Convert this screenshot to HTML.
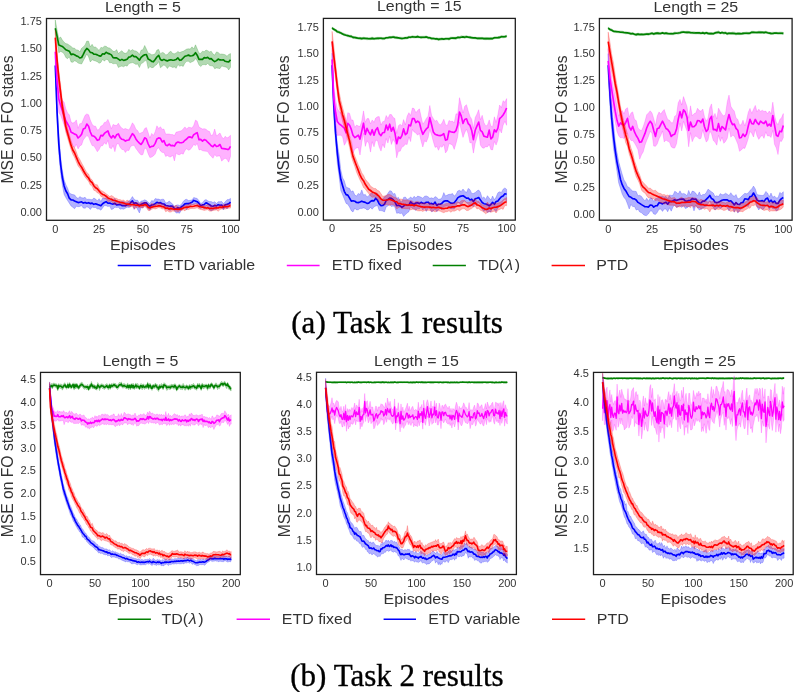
<!DOCTYPE html>
<html><head><meta charset="utf-8"><style>
html,body{margin:0;padding:0;background:#fff;}
svg{display:block;filter:blur(0.35px);}
</style></head><body>
<svg width="797" height="692" viewBox="0 0 797 692">
<rect width="797" height="692" fill="#fff"/>
<defs><clipPath id="cA1"><rect x="46.5" y="18.5" width="192.8" height="201.8"/></clipPath></defs>
<g clip-path="url(#cA1)">
<path d="M55.3,56.4 L57.1,105.3 L58.8,133.4 L60.6,156.5 L62.3,169.9 L64.1,179.8 L65.8,184.5 L67.6,188.2 L69.3,192.9 L71.1,194.0 L72.8,194.6 L74.6,194.9 L76.3,197.3 L78.1,198.5 L79.8,196.6 L81.6,197.7 L83.3,198.0 L85.1,197.3 L86.8,199.4 L88.6,199.2 L90.3,199.4 L92.1,199.8 L93.8,198.0 L95.6,199.0 L97.3,200.9 L99.1,198.7 L100.9,201.6 L102.6,198.1 L104.4,198.6 L106.1,197.7 L107.9,199.3 L109.6,200.2 L111.4,198.7 L113.1,199.5 L114.9,198.4 L116.6,202.3 L118.4,201.8 L120.1,201.7 L121.9,201.6 L123.6,201.4 L125.4,202.5 L127.1,202.3 L128.9,200.9 L130.6,199.4 L132.4,196.5 L134.1,199.2 L135.9,200.3 L137.6,200.2 L139.4,203.1 L141.1,201.1 L142.9,200.7 L144.7,199.8 L146.4,200.6 L148.2,202.3 L149.9,203.5 L151.7,200.5 L153.4,201.2 L155.2,198.6 L156.9,199.0 L158.7,199.1 L160.4,199.8 L162.2,199.2 L163.9,199.4 L165.7,203.0 L167.4,202.6 L169.2,201.1 L170.9,202.6 L172.7,204.1 L174.4,206.2 L176.2,205.3 L177.9,204.8 L179.7,205.5 L181.4,204.3 L183.2,201.6 L184.9,199.8 L186.7,199.3 L188.5,200.6 L190.2,200.3 L192.0,200.0 L193.7,197.5 L195.5,198.0 L197.2,198.5 L199.0,200.7 L200.7,203.4 L202.5,202.7 L204.2,200.4 L206.0,199.5 L207.7,200.8 L209.5,201.6 L211.2,201.6 L213.0,202.5 L214.7,201.7 L216.5,203.5 L218.2,201.7 L220.0,201.7 L221.7,201.5 L223.5,203.7 L225.2,201.8 L227.0,199.7 L228.7,199.6 L230.5,198.4 L230.5,204.2 L228.7,206.9 L227.0,209.0 L225.2,207.0 L223.5,209.9 L221.7,207.7 L220.0,207.7 L218.2,207.1 L216.5,209.2 L214.7,209.2 L213.0,209.9 L211.2,210.7 L209.5,209.9 L207.7,206.5 L206.0,205.9 L204.2,209.2 L202.5,207.1 L200.7,208.6 L199.0,207.5 L197.2,204.2 L195.5,203.7 L193.7,204.4 L192.0,204.6 L190.2,205.3 L188.5,206.2 L186.7,210.1 L184.9,206.7 L183.2,209.1 L181.4,209.7 L179.7,213.2 L177.9,212.8 L176.2,213.1 L174.4,210.7 L172.7,208.8 L170.9,210.3 L169.2,210.2 L167.4,209.1 L165.7,208.6 L163.9,207.9 L162.2,206.3 L160.4,205.7 L158.7,206.6 L156.9,204.6 L155.2,205.9 L153.4,207.1 L151.7,207.5 L149.9,210.3 L148.2,208.9 L146.4,207.1 L144.7,205.3 L142.9,207.9 L141.1,207.6 L139.4,213.0 L137.6,209.6 L135.9,206.2 L134.1,209.5 L132.4,203.2 L130.6,206.9 L128.9,207.4 L127.1,207.2 L125.4,208.2 L123.6,209.2 L121.9,208.8 L120.1,209.2 L118.4,207.2 L116.6,207.5 L114.9,207.2 L113.1,208.9 L111.4,209.6 L109.6,206.1 L107.9,206.5 L106.1,205.7 L104.4,205.6 L102.6,207.9 L100.9,210.2 L99.1,209.0 L97.3,209.0 L95.6,207.5 L93.8,207.5 L92.1,207.0 L90.3,209.5 L88.6,207.5 L86.8,206.8 L85.1,208.3 L83.3,208.1 L81.6,205.6 L79.8,206.5 L78.1,206.7 L76.3,206.3 L74.6,208.7 L72.8,207.3 L71.1,206.0 L69.3,203.2 L67.6,200.6 L65.8,197.6 L64.1,194.4 L62.3,185.0 L60.6,173.1 L58.8,153.7 L57.1,121.3 L55.3,73.9Z" fill="#0000ff" fill-opacity="0.3" stroke="#0000ff" stroke-opacity="0.3" stroke-width="0.7"/>
<path d="M55.3,65.5 L57.1,112.7 L58.8,143.9 L60.6,164.3 L62.3,177.0 L64.1,185.9 L65.8,190.8 L67.6,193.7 L69.3,198.2 L71.1,199.9 L72.8,200.0 L74.6,200.9 L76.3,201.7 L78.1,202.6 L79.8,202.2 L81.6,201.8 L83.3,203.1 L85.1,202.4 L86.8,203.2 L88.6,202.7 L90.3,203.6 L92.1,203.1 L93.8,204.3 L95.6,203.8 L97.3,204.4 L99.1,205.1 L100.9,205.8 L102.6,203.7 L104.4,202.5 L106.1,201.7 L107.9,203.2 L109.6,203.0 L111.4,203.8 L113.1,204.1 L114.9,203.3 L116.6,204.9 L118.4,204.7 L120.1,204.4 L121.9,205.6 L123.6,205.6 L125.4,205.7 L127.1,204.7 L128.9,204.6 L130.6,202.7 L132.4,200.9 L134.1,203.6 L135.9,202.8 L137.6,204.1 L139.4,205.4 L141.1,204.5 L142.9,203.5 L144.7,202.9 L146.4,202.9 L148.2,205.1 L149.9,206.2 L151.7,205.0 L153.4,204.8 L155.2,203.6 L156.9,202.3 L158.7,203.0 L160.4,202.6 L162.2,203.7 L163.9,204.0 L165.7,205.5 L167.4,205.8 L169.2,206.2 L170.9,206.0 L172.7,206.4 L174.4,208.5 L176.2,208.7 L177.9,207.7 L179.7,208.6 L181.4,206.7 L183.2,205.6 L184.9,203.9 L186.7,203.6 L188.5,203.6 L190.2,203.0 L192.0,202.3 L193.7,200.4 L195.5,201.1 L197.2,201.7 L199.0,203.4 L200.7,205.9 L202.5,204.9 L204.2,204.5 L206.0,202.8 L207.7,203.6 L209.5,204.7 L211.2,206.0 L213.0,206.2 L214.7,205.5 L216.5,205.9 L218.2,204.7 L220.0,205.2 L221.7,205.1 L223.5,207.4 L225.2,204.7 L227.0,204.4 L228.7,203.8 L230.5,202.0" fill="none" stroke="#0000ff" stroke-width="1.65" stroke-linejoin="round"/>
<path d="M55.3,42.0 L57.1,68.9 L58.8,87.7 L60.6,94.2 L62.3,100.2 L64.1,102.2 L65.8,108.7 L67.6,113.2 L69.3,114.7 L71.1,122.1 L72.8,123.1 L74.6,122.3 L76.3,119.9 L78.1,128.3 L79.8,123.7 L81.6,123.6 L83.3,119.4 L85.1,115.3 L86.8,113.9 L88.6,114.8 L90.3,120.0 L92.1,124.2 L93.8,126.1 L95.6,126.2 L97.3,130.0 L99.1,129.5 L100.9,126.0 L102.6,125.5 L104.4,122.4 L106.1,122.2 L107.9,119.4 L109.6,123.5 L111.4,128.7 L113.1,124.4 L114.9,125.3 L116.6,125.5 L118.4,123.2 L120.1,126.2 L121.9,128.2 L123.6,129.2 L125.4,128.5 L127.1,129.3 L128.9,129.9 L130.6,127.1 L132.4,122.8 L134.1,124.9 L135.9,129.3 L137.6,130.6 L139.4,133.7 L141.1,132.8 L142.9,132.3 L144.7,128.5 L146.4,127.6 L148.2,132.8 L149.9,138.1 L151.7,133.4 L153.4,135.4 L155.2,131.8 L156.9,125.8 L158.7,128.5 L160.4,126.7 L162.2,129.4 L163.9,129.0 L165.7,134.2 L167.4,134.0 L169.2,134.0 L170.9,134.6 L172.7,134.6 L174.4,135.6 L176.2,132.1 L177.9,131.8 L179.7,131.2 L181.4,130.8 L183.2,128.9 L184.9,126.9 L186.7,129.0 L188.5,127.3 L190.2,127.5 L192.0,128.1 L193.7,125.4 L195.5,120.1 L197.2,121.2 L199.0,127.1 L200.7,128.0 L202.5,129.0 L204.2,128.7 L206.0,129.2 L207.7,130.8 L209.5,131.5 L211.2,135.7 L213.0,134.4 L214.7,129.0 L216.5,136.1 L218.2,134.4 L220.0,133.0 L221.7,136.7 L223.5,138.7 L225.2,136.3 L227.0,137.9 L228.7,137.0 L230.5,135.3 L230.5,156.4 L228.7,162.2 L227.0,159.3 L225.2,158.3 L223.5,159.2 L221.7,161.2 L220.0,155.9 L218.2,156.1 L216.5,156.4 L214.7,154.6 L213.0,158.3 L211.2,156.3 L209.5,154.6 L207.7,151.6 L206.0,151.2 L204.2,151.1 L202.5,150.7 L200.7,149.6 L199.0,149.9 L197.2,143.5 L195.5,145.6 L193.7,144.5 L192.0,147.2 L190.2,149.6 L188.5,150.2 L186.7,148.8 L184.9,150.4 L183.2,154.2 L181.4,153.4 L179.7,154.7 L177.9,154.5 L176.2,153.1 L174.4,160.9 L172.7,155.0 L170.9,157.0 L169.2,156.8 L167.4,155.5 L165.7,156.5 L163.9,152.4 L162.2,152.4 L160.4,150.9 L158.7,147.7 L156.9,149.2 L155.2,154.1 L153.4,155.9 L151.7,157.1 L149.9,157.5 L148.2,153.9 L146.4,148.7 L144.7,148.1 L142.9,154.6 L141.1,154.9 L139.4,153.3 L137.6,150.7 L135.9,148.5 L134.1,145.2 L132.4,145.6 L130.6,146.4 L128.9,150.5 L127.1,150.2 L125.4,152.5 L123.6,149.6 L121.9,149.5 L120.1,147.2 L118.4,143.5 L116.6,144.2 L114.9,151.7 L113.1,145.5 L111.4,148.7 L109.6,147.8 L107.9,140.4 L106.1,144.4 L104.4,142.7 L102.6,145.7 L100.9,145.8 L99.1,149.6 L97.3,151.7 L95.6,148.6 L93.8,145.8 L92.1,145.6 L90.3,141.5 L88.6,136.8 L86.8,135.6 L85.1,137.6 L83.3,139.9 L81.6,144.9 L79.8,145.9 L78.1,148.9 L76.3,144.3 L74.6,147.4 L72.8,145.1 L71.1,141.5 L69.3,136.3 L67.6,135.5 L65.8,130.4 L64.1,125.1 L62.3,119.8 L60.6,115.3 L58.8,112.4 L57.1,91.9 L55.3,61.9Z" fill="#ff00ff" fill-opacity="0.3" stroke="#ff00ff" stroke-opacity="0.3" stroke-width="0.7"/>
<path d="M55.3,51.7 L57.1,80.8 L58.8,99.0 L60.6,105.2 L62.3,110.5 L64.1,115.6 L65.8,120.9 L67.6,123.8 L69.3,126.9 L71.1,132.2 L72.8,133.0 L74.6,134.1 L76.3,134.7 L78.1,138.0 L79.8,136.5 L81.6,134.3 L83.3,129.0 L85.1,128.2 L86.8,124.0 L88.6,126.2 L90.3,132.0 L92.1,135.8 L93.8,136.1 L95.6,137.7 L97.3,140.3 L99.1,139.8 L100.9,135.3 L102.6,135.9 L104.4,133.4 L106.1,132.1 L107.9,130.9 L109.6,135.6 L111.4,138.0 L113.1,135.6 L114.9,137.9 L116.6,134.8 L118.4,133.9 L120.1,137.6 L121.9,139.3 L123.6,139.6 L125.4,141.1 L127.1,140.3 L128.9,140.0 L130.6,136.9 L132.4,133.7 L134.1,135.4 L135.9,138.9 L137.6,141.2 L139.4,143.1 L141.1,144.5 L142.9,141.7 L144.7,137.8 L146.4,138.9 L148.2,144.0 L149.9,147.4 L151.7,146.4 L153.4,146.1 L155.2,143.4 L156.9,139.0 L158.7,137.9 L160.4,138.4 L162.2,142.0 L163.9,140.6 L165.7,145.0 L167.4,145.7 L169.2,144.1 L170.9,145.7 L172.7,145.4 L174.4,146.1 L176.2,143.0 L177.9,142.0 L179.7,142.6 L181.4,142.8 L183.2,142.2 L184.9,140.3 L186.7,139.0 L188.5,137.1 L190.2,136.9 L192.0,137.8 L193.7,134.7 L195.5,133.6 L197.2,132.7 L199.0,139.7 L200.7,139.4 L202.5,141.2 L204.2,139.6 L206.0,140.2 L207.7,142.2 L209.5,143.8 L211.2,145.7 L213.0,146.7 L214.7,144.5 L216.5,146.5 L218.2,146.0 L220.0,144.5 L221.7,148.4 L223.5,148.6 L225.2,148.9 L227.0,149.3 L228.7,149.3 L230.5,146.3" fill="none" stroke="#ff00ff" stroke-width="1.65" stroke-linejoin="round"/>
<path d="M55.3,20.0 L57.1,30.1 L58.8,38.4 L60.6,37.0 L62.3,39.9 L64.1,42.2 L65.8,43.6 L67.6,44.0 L69.3,45.2 L71.1,46.4 L72.8,48.0 L74.6,48.2 L76.3,49.9 L78.1,50.0 L79.8,52.0 L81.6,48.3 L83.3,46.9 L85.1,44.9 L86.8,41.1 L88.6,41.2 L90.3,46.9 L92.1,44.3 L93.8,47.3 L95.6,46.9 L97.3,48.7 L99.1,50.4 L100.9,47.4 L102.6,47.8 L104.4,46.2 L106.1,46.3 L107.9,47.8 L109.6,48.0 L111.4,49.4 L113.1,51.3 L114.9,51.5 L116.6,49.6 L118.4,53.6 L120.1,51.9 L121.9,50.7 L123.6,52.8 L125.4,53.3 L127.1,52.7 L128.9,49.3 L130.6,51.1 L132.4,49.6 L134.1,50.7 L135.9,51.0 L137.6,52.0 L139.4,54.6 L141.1,50.2 L142.9,49.7 L144.7,45.5 L146.4,49.0 L148.2,53.2 L149.9,53.6 L151.7,54.8 L153.4,54.6 L155.2,53.7 L156.9,50.1 L158.7,49.5 L160.4,53.9 L162.2,52.4 L163.9,52.9 L165.7,54.9 L167.4,54.6 L169.2,52.2 L170.9,51.2 L172.7,53.6 L174.4,53.8 L176.2,52.9 L177.9,51.5 L179.7,52.6 L181.4,51.8 L183.2,51.3 L184.9,50.2 L186.7,49.1 L188.5,48.8 L190.2,49.1 L192.0,46.8 L193.7,49.0 L195.5,44.8 L197.2,48.7 L199.0,53.2 L200.7,53.4 L202.5,51.2 L204.2,51.8 L206.0,50.0 L207.7,50.7 L209.5,51.9 L211.2,51.2 L213.0,54.1 L214.7,55.1 L216.5,51.9 L218.2,52.5 L220.0,54.2 L221.7,54.0 L223.5,54.3 L225.2,54.8 L227.0,56.2 L228.7,54.4 L230.5,53.6 L230.5,67.3 L228.7,69.9 L227.0,67.4 L225.2,66.9 L223.5,66.6 L221.7,65.9 L220.0,68.6 L218.2,68.3 L216.5,67.9 L214.7,68.8 L213.0,66.0 L211.2,65.8 L209.5,65.4 L207.7,63.3 L206.0,65.0 L204.2,64.5 L202.5,64.8 L200.7,66.6 L199.0,64.9 L197.2,60.8 L195.5,58.6 L193.7,61.1 L192.0,61.8 L190.2,62.7 L188.5,61.3 L186.7,61.3 L184.9,63.1 L183.2,66.4 L181.4,65.6 L179.7,66.2 L177.9,64.6 L176.2,68.3 L174.4,67.0 L172.7,67.4 L170.9,66.6 L169.2,66.1 L167.4,68.5 L165.7,66.1 L163.9,64.9 L162.2,66.3 L160.4,67.8 L158.7,61.6 L156.9,64.4 L155.2,65.4 L153.4,67.4 L151.7,67.7 L149.9,66.6 L148.2,68.6 L146.4,60.3 L144.7,61.1 L142.9,62.8 L141.1,63.6 L139.4,67.5 L137.6,63.9 L135.9,64.4 L134.1,63.3 L132.4,62.6 L130.6,63.1 L128.9,63.6 L127.1,66.2 L125.4,65.5 L123.6,66.8 L121.9,66.1 L120.1,66.6 L118.4,67.5 L116.6,63.6 L114.9,63.6 L113.1,63.8 L111.4,62.7 L109.6,62.8 L107.9,59.7 L106.1,59.3 L104.4,61.2 L102.6,59.3 L100.9,62.4 L99.1,63.3 L97.3,61.7 L95.6,61.1 L93.8,60.4 L92.1,59.8 L90.3,62.0 L88.6,56.9 L86.8,53.9 L85.1,57.4 L83.3,60.7 L81.6,64.0 L79.8,63.6 L78.1,63.1 L76.3,61.5 L74.6,60.8 L72.8,62.3 L71.1,62.1 L69.3,56.8 L67.6,58.7 L65.8,57.5 L64.1,53.8 L62.3,52.2 L60.6,51.4 L58.8,52.8 L57.1,42.6 L55.3,34.4Z" fill="#008000" fill-opacity="0.3" stroke="#008000" stroke-opacity="0.3" stroke-width="0.7"/>
<path d="M55.3,28.3 L57.1,36.4 L58.8,44.9 L60.6,45.7 L62.3,46.4 L64.1,48.0 L65.8,49.8 L67.6,50.5 L69.3,51.2 L71.1,54.6 L72.8,54.1 L74.6,54.8 L76.3,55.9 L78.1,56.5 L79.8,58.0 L81.6,57.5 L83.3,54.3 L85.1,50.7 L86.8,48.4 L88.6,49.9 L90.3,52.4 L92.1,52.7 L93.8,54.2 L95.6,54.3 L97.3,54.9 L99.1,55.9 L100.9,56.1 L102.6,53.8 L104.4,54.1 L106.1,52.3 L107.9,53.4 L109.6,53.9 L111.4,54.9 L113.1,57.6 L114.9,57.9 L116.6,57.8 L118.4,59.1 L120.1,60.4 L121.9,59.4 L123.6,60.4 L125.4,59.9 L127.1,59.3 L128.9,57.1 L130.6,56.7 L132.4,55.2 L134.1,56.6 L135.9,56.6 L137.6,58.1 L139.4,60.2 L141.1,57.4 L142.9,55.8 L144.7,54.7 L146.4,54.6 L148.2,59.1 L149.9,59.9 L151.7,61.4 L153.4,61.8 L155.2,59.4 L156.9,57.0 L158.7,55.4 L160.4,59.5 L162.2,60.4 L163.9,59.4 L165.7,60.4 L167.4,60.9 L169.2,60.1 L170.9,59.8 L172.7,60.2 L174.4,60.1 L176.2,59.4 L177.9,57.9 L179.7,60.3 L181.4,59.9 L183.2,58.0 L184.9,56.2 L186.7,55.7 L188.5,55.1 L190.2,56.0 L192.0,55.7 L193.7,55.1 L195.5,52.7 L197.2,55.2 L199.0,59.3 L200.7,59.3 L202.5,59.3 L204.2,57.6 L206.0,58.0 L207.7,57.4 L209.5,58.9 L211.2,58.6 L213.0,60.3 L214.7,61.6 L216.5,60.6 L218.2,59.1 L220.0,59.9 L221.7,60.0 L223.5,59.9 L225.2,61.3 L227.0,61.7 L228.7,61.9 L230.5,59.7" fill="none" stroke="#008000" stroke-width="1.65" stroke-linejoin="round"/>
<path d="M55.3,30.3 L57.1,53.2 L58.8,70.7 L60.6,84.8 L62.3,100.3 L64.1,109.2 L65.8,121.2 L67.6,127.7 L69.3,134.1 L71.1,140.9 L72.8,145.6 L74.6,147.8 L76.3,151.8 L78.1,156.8 L79.8,159.4 L81.6,163.0 L83.3,166.0 L85.1,169.5 L86.8,172.6 L88.6,174.0 L90.3,178.2 L92.1,179.8 L93.8,183.0 L95.6,184.7 L97.3,184.7 L99.1,188.3 L100.9,190.6 L102.6,191.2 L104.4,192.3 L106.1,193.7 L107.9,195.0 L109.6,196.6 L111.4,195.6 L113.1,196.4 L114.9,198.1 L116.6,198.3 L118.4,199.5 L120.1,199.6 L121.9,200.4 L123.6,199.9 L125.4,201.7 L127.1,200.1 L128.9,201.2 L130.6,201.8 L132.4,202.0 L134.1,202.6 L135.9,202.6 L137.6,202.5 L139.4,203.4 L141.1,202.6 L142.9,202.8 L144.7,202.3 L146.4,202.3 L148.2,204.2 L149.9,205.5 L151.7,203.3 L153.4,204.2 L155.2,204.0 L156.9,204.1 L158.7,202.4 L160.4,203.1 L162.2,203.9 L163.9,204.3 L165.7,205.7 L167.4,205.6 L169.2,206.3 L170.9,206.6 L172.7,205.8 L174.4,206.3 L176.2,205.2 L177.9,206.7 L179.7,207.1 L181.4,206.9 L183.2,206.1 L184.9,205.5 L186.7,205.1 L188.5,204.4 L190.2,202.8 L192.0,204.7 L193.7,203.9 L195.5,203.9 L197.2,203.7 L199.0,203.9 L200.7,204.5 L202.5,204.7 L204.2,205.3 L206.0,205.7 L207.7,204.3 L209.5,204.9 L211.2,205.2 L213.0,206.5 L214.7,204.1 L216.5,205.4 L218.2,206.0 L220.0,205.1 L221.7,205.2 L223.5,204.6 L225.2,204.3 L227.0,204.3 L228.7,204.2 L230.5,203.5 L230.5,208.1 L228.7,208.2 L227.0,208.5 L225.2,209.1 L223.5,209.1 L221.7,209.1 L220.0,209.6 L218.2,211.3 L216.5,209.9 L214.7,210.2 L213.0,210.4 L211.2,211.2 L209.5,211.1 L207.7,209.7 L206.0,210.0 L204.2,210.4 L202.5,209.9 L200.7,209.5 L199.0,209.0 L197.2,207.8 L195.5,208.3 L193.7,208.6 L192.0,208.4 L190.2,208.7 L188.5,209.6 L186.7,208.9 L184.9,210.9 L183.2,209.8 L181.4,210.7 L179.7,210.9 L177.9,211.9 L176.2,211.2 L174.4,211.3 L172.7,211.0 L170.9,212.1 L169.2,212.1 L167.4,210.8 L165.7,211.8 L163.9,208.8 L162.2,209.0 L160.4,208.1 L158.7,207.6 L156.9,208.4 L155.2,209.0 L153.4,208.5 L151.7,209.3 L149.9,210.5 L148.2,210.6 L146.4,207.6 L144.7,206.7 L142.9,208.1 L141.1,207.4 L139.4,207.9 L137.6,207.0 L135.9,207.9 L134.1,208.8 L132.4,206.6 L130.6,206.6 L128.9,206.8 L127.1,206.1 L125.4,206.6 L123.6,205.5 L121.9,205.1 L120.1,204.6 L118.4,204.0 L116.6,204.3 L114.9,204.7 L113.1,203.3 L111.4,201.4 L109.6,201.2 L107.9,201.6 L106.1,199.1 L104.4,198.6 L102.6,197.3 L100.9,196.4 L99.1,193.4 L97.3,192.9 L95.6,190.9 L93.8,190.3 L92.1,186.1 L90.3,185.0 L88.6,181.5 L86.8,179.2 L85.1,177.2 L83.3,174.2 L81.6,171.1 L79.8,168.1 L78.1,166.1 L76.3,161.8 L74.6,157.6 L72.8,154.3 L71.1,149.8 L69.3,143.8 L67.6,138.2 L65.8,132.1 L64.1,122.2 L62.3,112.7 L60.6,98.6 L58.8,84.4 L57.1,66.8 L55.3,45.8Z" fill="#ff0000" fill-opacity="0.3" stroke="#ff0000" stroke-opacity="0.3" stroke-width="0.7"/>
<path d="M55.3,37.6 L57.1,60.0 L58.8,77.3 L60.6,92.4 L62.3,106.2 L64.1,116.5 L65.8,126.6 L67.6,133.1 L69.3,139.2 L71.1,145.4 L72.8,150.0 L74.6,153.0 L76.3,157.1 L78.1,161.3 L79.8,164.6 L81.6,167.2 L83.3,170.5 L85.1,173.5 L86.8,176.1 L88.6,178.0 L90.3,181.2 L92.1,182.7 L93.8,185.7 L95.6,187.7 L97.3,188.7 L99.1,190.9 L100.9,193.1 L102.6,194.4 L104.4,195.1 L106.1,196.2 L107.9,197.9 L109.6,198.8 L111.4,199.3 L113.1,200.3 L114.9,200.5 L116.6,201.1 L118.4,201.8 L120.1,202.3 L121.9,202.6 L123.6,203.0 L125.4,203.7 L127.1,204.1 L128.9,204.1 L130.6,204.6 L132.4,204.7 L134.1,204.8 L135.9,205.3 L137.6,205.0 L139.4,205.9 L141.1,205.2 L142.9,205.4 L144.7,204.5 L146.4,205.1 L148.2,207.3 L149.9,207.9 L151.7,207.1 L153.4,206.7 L155.2,206.4 L156.9,206.3 L158.7,205.8 L160.4,205.9 L162.2,206.7 L163.9,206.8 L165.7,208.4 L167.4,208.0 L169.2,208.9 L170.9,208.4 L172.7,209.0 L174.4,209.3 L176.2,209.1 L177.9,209.4 L179.7,209.1 L181.4,208.9 L183.2,208.0 L184.9,207.5 L186.7,207.0 L188.5,207.1 L190.2,206.4 L192.0,206.5 L193.7,206.2 L195.5,205.7 L197.2,205.6 L199.0,206.4 L200.7,206.8 L202.5,207.1 L204.2,207.4 L206.0,208.1 L207.7,207.8 L209.5,208.6 L211.2,208.2 L213.0,208.5 L214.7,208.0 L216.5,207.9 L218.2,208.0 L220.0,207.1 L221.7,207.4 L223.5,206.6 L225.2,206.5 L227.0,206.7 L228.7,206.3 L230.5,205.6" fill="none" stroke="#ff0000" stroke-width="1.65" stroke-linejoin="round"/>
</g>
<rect x="46.5" y="18.5" width="192.8" height="201.8" fill="none" stroke="#1e1e1e" stroke-width="1.3"/>
<defs><clipPath id="cA2"><rect x="323.4" y="18.4" width="191.9" height="201.7"/></clipPath></defs>
<g clip-path="url(#cA2)">
<path d="M332.1,53.2 L333.8,95.3 L335.6,123.3 L337.3,143.7 L339.1,154.6 L340.8,169.9 L342.6,177.8 L344.3,180.8 L346.1,187.0 L347.8,187.8 L349.6,188.5 L351.3,191.8 L353.0,190.8 L354.8,195.1 L356.5,196.1 L358.3,193.4 L360.0,194.5 L361.8,189.9 L363.5,195.0 L365.3,194.4 L367.0,197.0 L368.7,195.9 L370.5,193.6 L372.2,192.9 L374.0,195.5 L375.7,192.7 L377.5,193.6 L379.2,198.1 L381.0,200.1 L382.7,199.1 L384.5,196.8 L386.2,195.7 L387.9,193.3 L389.7,190.7 L391.4,191.1 L393.2,194.1 L394.9,193.4 L396.7,198.4 L398.4,197.3 L400.2,201.1 L401.9,202.0 L403.6,197.4 L405.4,197.0 L407.1,199.4 L408.9,198.8 L410.6,196.9 L412.4,198.5 L414.1,196.3 L415.9,198.0 L417.6,196.1 L419.4,196.6 L421.1,197.2 L422.8,198.2 L424.6,196.2 L426.3,195.9 L428.1,196.8 L429.8,198.3 L431.6,197.8 L433.3,198.6 L435.1,196.6 L436.8,197.5 L438.5,199.2 L440.3,199.1 L442.0,197.7 L443.8,192.6 L445.5,196.0 L447.3,195.0 L449.0,194.3 L450.8,194.2 L452.5,193.5 L454.2,196.1 L456.0,194.4 L457.7,191.0 L459.5,190.3 L461.2,191.5 L463.0,189.0 L464.7,191.2 L466.5,192.5 L468.2,188.4 L470.0,189.7 L471.7,193.4 L473.4,193.5 L475.2,192.6 L476.9,190.9 L478.7,190.0 L480.4,192.3 L482.2,198.2 L483.9,196.9 L485.7,199.4 L487.4,195.7 L489.2,197.9 L490.9,200.1 L492.6,196.0 L494.4,199.7 L496.1,197.1 L497.9,192.8 L499.6,191.8 L501.4,192.4 L503.1,189.2 L504.9,187.9 L506.6,189.3 L506.6,201.2 L504.9,199.6 L503.1,201.1 L501.4,204.6 L499.6,205.5 L497.9,207.9 L496.1,211.5 L494.4,210.1 L492.6,207.1 L490.9,211.9 L489.2,211.7 L487.4,212.6 L485.7,209.4 L483.9,211.4 L482.2,209.3 L480.4,204.5 L478.7,202.7 L476.9,204.1 L475.2,203.9 L473.4,206.7 L471.7,205.5 L470.0,206.1 L468.2,204.0 L466.5,202.8 L464.7,201.1 L463.0,201.7 L461.2,205.9 L459.5,203.0 L457.7,202.3 L456.0,205.5 L454.2,209.0 L452.5,208.8 L450.8,208.7 L449.0,207.8 L447.3,206.1 L445.5,206.2 L443.8,206.4 L442.0,209.7 L440.3,208.6 L438.5,209.5 L436.8,211.8 L435.1,209.2 L433.3,211.1 L431.6,211.8 L429.8,208.7 L428.1,208.0 L426.3,211.6 L424.6,207.9 L422.8,210.0 L421.1,207.0 L419.4,209.0 L417.6,208.6 L415.9,210.5 L414.1,208.8 L412.4,208.4 L410.6,206.5 L408.9,211.7 L407.1,213.0 L405.4,214.5 L403.6,216.4 L401.9,213.1 L400.2,213.6 L398.4,212.9 L396.7,213.3 L394.9,207.1 L393.2,206.0 L391.4,206.5 L389.7,204.2 L387.9,206.0 L386.2,206.8 L384.5,211.9 L382.7,211.1 L381.0,210.6 L379.2,210.6 L377.5,205.4 L375.7,206.1 L374.0,206.8 L372.2,209.2 L370.5,207.4 L368.7,209.5 L367.0,209.9 L365.3,208.4 L363.5,207.9 L361.8,208.4 L360.0,208.4 L358.3,209.8 L356.5,209.9 L354.8,208.2 L353.0,212.0 L351.3,210.7 L349.6,207.2 L347.8,204.3 L346.1,203.4 L344.3,199.0 L342.6,194.8 L340.8,190.5 L339.1,176.4 L337.3,163.6 L335.6,142.7 L333.8,117.4 L332.1,76.5Z" fill="#0000ff" fill-opacity="0.3" stroke="#0000ff" stroke-opacity="0.3" stroke-width="0.7"/>
<path d="M332.1,65.1 L333.8,105.7 L335.6,133.4 L337.3,152.5 L339.1,168.1 L340.8,179.3 L342.6,185.7 L344.3,191.3 L346.1,194.6 L347.8,195.1 L349.6,198.1 L351.3,201.2 L353.0,200.8 L354.8,201.2 L356.5,202.5 L358.3,202.6 L360.0,202.0 L361.8,201.2 L363.5,201.9 L365.3,202.4 L367.0,203.4 L368.7,203.1 L370.5,201.5 L372.2,200.6 L374.0,200.9 L375.7,198.2 L377.5,200.3 L379.2,203.8 L381.0,205.6 L382.7,205.5 L384.5,204.2 L386.2,200.5 L387.9,199.4 L389.7,198.1 L391.4,198.3 L393.2,199.7 L394.9,201.8 L396.7,205.7 L398.4,205.2 L400.2,205.9 L401.9,207.3 L403.6,206.1 L405.4,204.5 L407.1,205.3 L408.9,205.1 L410.6,201.8 L412.4,203.6 L414.1,204.3 L415.9,203.0 L417.6,202.8 L419.4,203.7 L421.1,202.3 L422.8,203.2 L424.6,203.4 L426.3,202.3 L428.1,202.2 L429.8,203.8 L431.6,203.4 L433.3,204.2 L435.1,202.1 L436.8,205.5 L438.5,204.2 L440.3,204.2 L442.0,203.2 L443.8,201.4 L445.5,200.8 L447.3,200.8 L449.0,201.9 L450.8,203.1 L452.5,203.3 L454.2,202.8 L456.0,200.6 L457.7,197.9 L459.5,196.6 L461.2,196.1 L463.0,195.7 L464.7,196.8 L466.5,198.2 L468.2,198.0 L470.0,200.0 L471.7,199.2 L473.4,201.6 L475.2,198.8 L476.9,198.3 L478.7,197.6 L480.4,199.9 L482.2,202.5 L483.9,203.7 L485.7,204.0 L487.4,204.6 L489.2,205.8 L490.9,204.5 L492.6,202.3 L494.4,204.3 L496.1,201.5 L497.9,201.1 L499.6,198.8 L501.4,196.8 L503.1,196.0 L504.9,193.8 L506.6,194.3" fill="none" stroke="#0000ff" stroke-width="1.65" stroke-linejoin="round"/>
<path d="M332.1,42.0 L333.8,86.6 L335.6,99.7 L337.3,108.3 L339.1,111.6 L340.8,112.8 L342.6,116.6 L344.3,115.7 L346.1,123.4 L347.8,112.7 L349.6,113.4 L351.3,119.9 L353.0,120.1 L354.8,127.4 L356.5,125.1 L358.3,125.9 L360.0,126.6 L361.8,120.8 L363.5,110.9 L365.3,122.3 L367.0,118.6 L368.7,118.6 L370.5,123.9 L372.2,119.9 L374.0,122.3 L375.7,118.0 L377.5,116.8 L379.2,116.6 L381.0,125.1 L382.7,121.7 L384.5,121.3 L386.2,115.5 L387.9,118.5 L389.7,114.5 L391.4,114.6 L393.2,117.5 L394.9,118.5 L396.7,133.6 L398.4,125.7 L400.2,124.2 L401.9,126.1 L403.6,119.6 L405.4,124.8 L407.1,116.2 L408.9,112.7 L410.6,115.5 L412.4,108.0 L414.1,108.6 L415.9,112.7 L417.6,110.6 L419.4,108.8 L421.1,116.8 L422.8,124.2 L424.6,121.7 L426.3,118.5 L428.1,116.2 L429.8,105.5 L431.6,115.6 L433.3,118.6 L435.1,121.2 L436.8,120.2 L438.5,123.4 L440.3,124.9 L442.0,123.1 L443.8,119.3 L445.5,124.7 L447.3,125.7 L449.0,120.5 L450.8,121.5 L452.5,121.1 L454.2,123.0 L456.0,113.7 L457.7,114.2 L459.5,97.7 L461.2,104.5 L463.0,113.0 L464.7,106.3 L466.5,104.7 L468.2,110.9 L470.0,116.4 L471.7,119.2 L473.4,128.6 L475.2,117.6 L476.9,114.2 L478.7,109.7 L480.4,119.7 L482.2,115.3 L483.9,122.5 L485.7,125.9 L487.4,125.3 L489.2,119.9 L490.9,126.1 L492.6,126.9 L494.4,116.8 L496.1,122.5 L497.9,114.7 L499.6,105.1 L501.4,107.6 L503.1,100.7 L504.9,102.3 L506.6,98.6 L506.6,125.3 L504.9,121.3 L503.1,125.2 L501.4,133.0 L499.6,129.0 L497.9,140.1 L496.1,145.1 L494.4,141.5 L492.6,149.9 L490.9,149.6 L489.2,144.4 L487.4,146.9 L485.7,146.7 L483.9,148.3 L482.2,147.7 L480.4,145.1 L478.7,131.4 L476.9,137.7 L475.2,143.3 L473.4,153.1 L471.7,142.2 L470.0,143.0 L468.2,134.0 L466.5,129.1 L464.7,132.8 L463.0,137.4 L461.2,130.1 L459.5,122.1 L457.7,136.7 L456.0,143.4 L454.2,149.4 L452.5,145.0 L450.8,144.2 L449.0,143.5 L447.3,150.5 L445.5,152.9 L443.8,144.4 L442.0,147.3 L440.3,146.1 L438.5,150.3 L436.8,146.5 L435.1,147.4 L433.3,141.4 L431.6,134.9 L429.8,129.5 L428.1,137.7 L426.3,142.0 L424.6,140.8 L422.8,147.0 L421.1,141.1 L419.4,133.4 L417.6,135.2 L415.9,133.0 L414.1,132.0 L412.4,129.4 L410.6,141.6 L408.9,136.9 L407.1,144.5 L405.4,144.0 L403.6,146.3 L401.9,147.1 L400.2,151.2 L398.4,151.2 L396.7,157.8 L394.9,142.5 L393.2,139.5 L391.4,144.5 L389.7,136.2 L387.9,143.1 L386.2,138.5 L384.5,147.8 L382.7,144.3 L381.0,151.1 L379.2,147.1 L377.5,140.5 L375.7,140.2 L374.0,146.8 L372.2,141.7 L370.5,152.1 L368.7,143.1 L367.0,140.8 L365.3,146.4 L363.5,133.1 L361.8,142.4 L360.0,155.0 L358.3,147.4 L356.5,148.0 L354.8,149.1 L353.0,153.2 L351.3,138.7 L349.6,137.0 L347.8,134.7 L346.1,142.2 L344.3,145.3 L342.6,136.8 L340.8,135.3 L339.1,135.2 L337.3,135.4 L335.6,124.4 L333.8,108.9 L332.1,71.9Z" fill="#ff00ff" fill-opacity="0.3" stroke="#ff00ff" stroke-opacity="0.3" stroke-width="0.7"/>
<path d="M332.1,59.4 L333.8,98.8 L335.6,112.5 L337.3,121.5 L339.1,123.8 L340.8,125.0 L342.6,126.7 L344.3,128.1 L346.1,132.8 L347.8,123.3 L349.6,125.2 L351.3,129.4 L353.0,135.3 L354.8,137.6 L356.5,136.5 L358.3,135.2 L360.0,139.1 L361.8,130.8 L363.5,123.2 L365.3,134.4 L367.0,128.4 L368.7,131.8 L370.5,134.8 L372.2,129.7 L374.0,135.2 L375.7,130.1 L377.5,127.7 L379.2,133.6 L381.0,135.7 L382.7,132.7 L384.5,132.4 L386.2,125.1 L387.9,129.9 L389.7,124.2 L391.4,131.2 L393.2,127.3 L394.9,132.9 L396.7,143.7 L398.4,137.0 L400.2,138.5 L401.9,135.6 L403.6,128.9 L405.4,134.7 L407.1,133.2 L408.9,124.9 L410.6,125.9 L412.4,118.6 L414.1,118.5 L415.9,122.6 L417.6,121.1 L419.4,122.5 L421.1,129.3 L422.8,134.3 L424.6,131.3 L426.3,128.9 L428.1,127.3 L429.8,117.6 L431.6,124.8 L433.3,131.9 L435.1,134.2 L436.8,134.9 L438.5,135.5 L440.3,135.6 L442.0,135.0 L443.8,133.7 L445.5,140.1 L447.3,139.5 L449.0,131.0 L450.8,131.7 L452.5,132.1 L454.2,132.4 L456.0,130.6 L457.7,125.0 L459.5,112.0 L461.2,115.9 L463.0,123.5 L464.7,119.5 L466.5,118.8 L468.2,123.6 L470.0,125.4 L471.7,130.4 L473.4,139.7 L475.2,130.3 L476.9,126.1 L478.7,122.1 L480.4,130.4 L482.2,131.9 L483.9,136.1 L485.7,136.7 L487.4,137.2 L489.2,130.1 L490.9,138.9 L492.6,137.2 L494.4,129.8 L496.1,132.0 L497.9,128.2 L499.6,118.7 L501.4,117.0 L503.1,115.0 L504.9,111.9 L506.6,108.0" fill="none" stroke="#ff00ff" stroke-width="1.65" stroke-linejoin="round"/>
<path d="M332.1,27.1 L333.8,28.2 L335.6,29.3 L337.3,30.5 L339.1,31.1 L340.8,31.9 L342.6,32.9 L344.3,33.5 L346.1,34.2 L347.8,34.8 L349.6,35.2 L351.3,35.3 L353.0,36.3 L354.8,36.5 L356.5,36.8 L358.3,37.4 L360.0,37.3 L361.8,37.6 L363.5,37.2 L365.3,37.5 L367.0,37.5 L368.7,37.7 L370.5,37.5 L372.2,37.1 L374.0,37.8 L375.7,37.5 L377.5,37.3 L379.2,37.3 L381.0,37.3 L382.7,37.5 L384.5,37.5 L386.2,36.9 L387.9,36.8 L389.7,36.4 L391.4,36.4 L393.2,35.9 L394.9,36.4 L396.7,36.7 L398.4,37.0 L400.2,37.1 L401.9,37.3 L403.6,37.3 L405.4,36.9 L407.1,36.8 L408.9,36.1 L410.6,36.3 L412.4,35.7 L414.1,36.0 L415.9,36.1 L417.6,35.4 L419.4,36.3 L421.1,36.3 L422.8,36.2 L424.6,36.2 L426.3,35.9 L428.1,36.8 L429.8,36.8 L431.6,37.5 L433.3,37.6 L435.1,37.9 L436.8,37.8 L438.5,38.2 L440.3,38.0 L442.0,37.8 L443.8,38.2 L445.5,37.7 L447.3,37.7 L449.0,37.7 L450.8,37.0 L452.5,37.1 L454.2,37.2 L456.0,37.0 L457.7,36.5 L459.5,36.6 L461.2,35.7 L463.0,36.0 L464.7,35.9 L466.5,35.7 L468.2,36.3 L470.0,36.3 L471.7,36.6 L473.4,37.0 L475.2,37.0 L476.9,37.4 L478.7,37.3 L480.4,37.4 L482.2,37.3 L483.9,37.7 L485.7,37.4 L487.4,37.5 L489.2,37.7 L490.9,37.4 L492.6,37.7 L494.4,36.8 L496.1,36.7 L497.9,36.7 L499.6,36.3 L501.4,35.6 L503.1,35.7 L504.9,35.7 L506.6,35.1 L506.6,37.2 L504.9,37.6 L503.1,37.9 L501.4,37.6 L499.6,38.4 L497.9,38.5 L496.1,38.5 L494.4,38.8 L492.6,39.5 L490.9,39.6 L489.2,39.7 L487.4,39.6 L485.7,39.7 L483.9,39.6 L482.2,39.2 L480.4,39.3 L478.7,39.3 L476.9,39.2 L475.2,39.0 L473.4,38.8 L471.7,38.8 L470.0,38.3 L468.2,38.0 L466.5,37.7 L464.7,38.4 L463.0,37.8 L461.2,38.0 L459.5,38.8 L457.7,38.4 L456.0,39.4 L454.2,39.2 L452.5,39.0 L450.8,39.1 L449.0,40.2 L447.3,39.6 L445.5,39.8 L443.8,40.0 L442.0,40.0 L440.3,40.2 L438.5,40.4 L436.8,39.9 L435.1,39.7 L433.3,39.5 L431.6,39.7 L429.8,38.9 L428.1,38.9 L426.3,38.0 L424.6,38.3 L422.8,38.3 L421.1,38.2 L419.4,38.0 L417.6,37.8 L415.9,37.9 L414.1,38.1 L412.4,37.8 L410.6,38.3 L408.9,38.1 L407.1,38.9 L405.4,39.1 L403.6,39.3 L401.9,39.4 L400.2,39.3 L398.4,38.8 L396.7,38.7 L394.9,38.6 L393.2,37.9 L391.4,38.4 L389.7,38.2 L387.9,38.7 L386.2,38.8 L384.5,39.5 L382.7,39.7 L381.0,39.2 L379.2,39.3 L377.5,39.2 L375.7,39.5 L374.0,39.7 L372.2,39.2 L370.5,39.7 L368.7,39.6 L367.0,39.8 L365.3,39.3 L363.5,39.1 L361.8,39.6 L360.0,39.6 L358.3,39.3 L356.5,38.8 L354.8,38.6 L353.0,38.5 L351.3,37.5 L349.6,37.3 L347.8,36.8 L346.1,36.1 L344.3,35.6 L342.6,34.9 L340.8,33.9 L339.1,33.3 L337.3,32.7 L335.6,31.4 L333.8,30.4 L332.1,29.0Z" fill="#008000" fill-opacity="0.3" stroke="#008000" stroke-opacity="0.3" stroke-width="0.7"/>
<path d="M332.1,28.0 L333.8,29.3 L335.6,30.2 L337.3,31.8 L339.1,32.2 L340.8,32.9 L342.6,34.0 L344.3,34.7 L346.1,35.2 L347.8,35.6 L349.6,36.3 L351.3,36.4 L353.0,37.4 L354.8,37.5 L356.5,37.9 L358.3,38.3 L360.0,38.2 L361.8,38.6 L363.5,38.2 L365.3,38.4 L367.0,38.5 L368.7,38.7 L370.5,38.7 L372.2,38.4 L374.0,38.7 L375.7,38.5 L377.5,38.3 L379.2,38.3 L381.0,38.2 L382.7,38.5 L384.5,38.5 L386.2,37.8 L387.9,37.7 L389.7,37.3 L391.4,37.3 L393.2,37.1 L394.9,37.4 L396.7,37.6 L398.4,37.9 L400.2,38.2 L401.9,38.5 L403.6,38.3 L405.4,37.9 L407.1,38.0 L408.9,37.2 L410.6,37.3 L412.4,36.8 L414.1,37.0 L415.9,37.1 L417.6,36.6 L419.4,37.2 L421.1,37.4 L422.8,37.3 L424.6,37.2 L426.3,36.9 L428.1,37.6 L429.8,37.8 L431.6,38.5 L433.3,38.5 L435.1,38.8 L436.8,38.8 L438.5,39.4 L440.3,39.0 L442.0,38.9 L443.8,39.1 L445.5,38.7 L447.3,38.7 L449.0,38.9 L450.8,38.2 L452.5,38.0 L454.2,38.1 L456.0,38.1 L457.7,37.4 L459.5,37.5 L461.2,37.2 L463.0,36.9 L464.7,37.2 L466.5,36.7 L468.2,37.1 L470.0,37.4 L471.7,37.7 L473.4,37.9 L475.2,37.9 L476.9,38.3 L478.7,38.3 L480.4,38.4 L482.2,38.3 L483.9,38.6 L485.7,38.6 L487.4,38.5 L489.2,38.6 L490.9,38.6 L492.6,38.6 L494.4,37.8 L496.1,37.7 L497.9,37.6 L499.6,37.4 L501.4,36.7 L503.1,36.8 L504.9,36.6 L506.6,36.3" fill="none" stroke="#008000" stroke-width="1.65" stroke-linejoin="round"/>
<path d="M332.1,31.4 L333.8,45.7 L335.6,62.7 L337.3,78.2 L339.1,91.7 L340.8,100.2 L342.6,107.5 L344.3,113.8 L346.1,120.8 L347.8,127.6 L349.6,135.4 L351.3,141.9 L353.0,151.1 L354.8,156.1 L356.5,160.2 L358.3,164.9 L360.0,168.3 L361.8,172.9 L363.5,175.2 L365.3,179.2 L367.0,181.3 L368.7,183.0 L370.5,186.1 L372.2,187.2 L374.0,188.4 L375.7,188.6 L377.5,190.3 L379.2,191.1 L381.0,193.7 L382.7,196.3 L384.5,195.9 L386.2,195.6 L387.9,194.5 L389.7,194.5 L391.4,195.3 L393.2,196.8 L394.9,197.2 L396.7,198.3 L398.4,200.1 L400.2,199.0 L401.9,199.2 L403.6,200.0 L405.4,199.9 L407.1,199.8 L408.9,200.8 L410.6,200.5 L412.4,201.1 L414.1,202.4 L415.9,201.6 L417.6,201.4 L419.4,201.9 L421.1,203.3 L422.8,203.3 L424.6,202.8 L426.3,203.4 L428.1,203.4 L429.8,202.8 L431.6,204.4 L433.3,203.8 L435.1,204.4 L436.8,204.2 L438.5,203.4 L440.3,204.2 L442.0,204.4 L443.8,204.7 L445.5,203.7 L447.3,203.2 L449.0,203.6 L450.8,203.8 L452.5,203.6 L454.2,203.3 L456.0,202.7 L457.7,201.8 L459.5,202.6 L461.2,200.8 L463.0,200.2 L464.7,200.6 L466.5,202.2 L468.2,202.6 L470.0,201.9 L471.7,200.6 L473.4,200.1 L475.2,198.8 L476.9,201.4 L478.7,201.3 L480.4,203.0 L482.2,204.4 L483.9,205.3 L485.7,205.7 L487.4,202.1 L489.2,204.7 L490.9,203.6 L492.6,204.3 L494.4,202.9 L496.1,203.8 L497.9,203.0 L499.6,202.6 L501.4,201.6 L503.1,199.8 L504.9,198.4 L506.6,197.6 L506.6,205.7 L504.9,205.5 L503.1,209.4 L501.4,208.5 L499.6,209.5 L497.9,210.1 L496.1,213.0 L494.4,211.1 L492.6,211.7 L490.9,212.3 L489.2,211.5 L487.4,212.5 L485.7,213.8 L483.9,212.2 L482.2,211.0 L480.4,210.2 L478.7,208.5 L476.9,208.9 L475.2,206.4 L473.4,207.1 L471.7,208.6 L470.0,209.3 L468.2,210.6 L466.5,210.5 L464.7,208.9 L463.0,208.6 L461.2,209.4 L459.5,210.9 L457.7,209.5 L456.0,210.4 L454.2,211.2 L452.5,211.1 L450.8,212.2 L449.0,210.8 L447.3,211.7 L445.5,211.8 L443.8,212.7 L442.0,212.1 L440.3,211.2 L438.5,210.8 L436.8,211.1 L435.1,211.9 L433.3,211.0 L431.6,211.4 L429.8,210.5 L428.1,210.3 L426.3,210.5 L424.6,210.6 L422.8,211.4 L421.1,210.7 L419.4,210.9 L417.6,210.8 L415.9,209.9 L414.1,209.6 L412.4,209.3 L410.6,209.9 L408.9,208.8 L407.1,208.7 L405.4,208.7 L403.6,208.4 L401.9,208.6 L400.2,207.0 L398.4,207.7 L396.7,208.9 L394.9,205.8 L393.2,204.7 L391.4,204.5 L389.7,205.7 L387.9,204.5 L386.2,204.5 L384.5,205.3 L382.7,204.1 L381.0,204.1 L379.2,201.4 L377.5,199.1 L375.7,197.8 L374.0,197.0 L372.2,197.3 L370.5,196.0 L368.7,193.6 L367.0,191.5 L365.3,189.0 L363.5,187.5 L361.8,183.5 L360.0,180.0 L358.3,176.2 L356.5,172.1 L354.8,166.5 L353.0,161.8 L351.3,156.3 L349.6,147.3 L347.8,140.6 L346.1,133.8 L344.3,127.5 L342.6,121.6 L340.8,113.9 L339.1,107.3 L337.3,94.1 L335.6,80.0 L333.8,64.3 L332.1,51.2Z" fill="#ff0000" fill-opacity="0.3" stroke="#ff0000" stroke-opacity="0.3" stroke-width="0.7"/>
<path d="M332.1,41.4 L333.8,56.2 L335.6,71.4 L337.3,86.5 L339.1,100.2 L340.8,107.0 L342.6,114.8 L344.3,120.5 L346.1,127.7 L347.8,134.2 L349.6,141.0 L351.3,149.3 L353.0,156.4 L354.8,161.2 L356.5,165.7 L358.3,170.4 L360.0,174.9 L361.8,178.6 L363.5,180.7 L365.3,184.3 L367.0,186.8 L368.7,189.3 L370.5,190.5 L372.2,191.9 L374.0,192.7 L375.7,193.5 L377.5,195.0 L379.2,196.4 L381.0,198.9 L382.7,200.1 L384.5,200.2 L386.2,200.0 L387.9,199.7 L389.7,199.2 L391.4,200.0 L393.2,200.6 L394.9,201.5 L396.7,201.8 L398.4,203.7 L400.2,203.4 L401.9,204.2 L403.6,204.4 L405.4,204.7 L407.1,205.2 L408.9,204.8 L410.6,205.1 L412.4,204.9 L414.1,205.8 L415.9,205.1 L417.6,205.8 L419.4,206.2 L421.1,206.6 L422.8,206.9 L424.6,207.1 L426.3,207.0 L428.1,207.0 L429.8,207.1 L431.6,207.6 L433.3,207.3 L435.1,207.7 L436.8,207.6 L438.5,207.3 L440.3,207.9 L442.0,208.4 L443.8,208.6 L445.5,208.3 L447.3,208.2 L449.0,207.2 L450.8,207.4 L452.5,206.9 L454.2,206.9 L456.0,206.5 L457.7,205.8 L459.5,205.9 L461.2,205.3 L463.0,204.8 L464.7,204.9 L466.5,206.0 L468.2,206.6 L470.0,205.8 L471.7,205.0 L473.4,203.5 L475.2,202.9 L476.9,204.9 L478.7,205.3 L480.4,206.4 L482.2,207.8 L483.9,208.5 L485.7,209.4 L487.4,209.2 L489.2,208.0 L490.9,208.8 L492.6,207.7 L494.4,207.3 L496.1,207.2 L497.9,206.6 L499.6,206.0 L501.4,204.9 L503.1,203.6 L504.9,202.2 L506.6,201.7" fill="none" stroke="#ff0000" stroke-width="1.65" stroke-linejoin="round"/>
</g>
<rect x="323.4" y="18.4" width="191.9" height="201.7" fill="none" stroke="#1e1e1e" stroke-width="1.3"/>
<defs><clipPath id="cA3"><rect x="599.4" y="18.5" width="192.7" height="201.7"/></clipPath></defs>
<g clip-path="url(#cA3)">
<path d="M608.2,53.6 L610.0,84.3 L611.7,105.6 L613.5,123.1 L615.2,140.9 L617.0,152.4 L618.7,161.6 L620.5,168.3 L622.2,174.2 L624.0,180.0 L625.7,182.4 L627.5,186.8 L629.2,187.4 L631.0,189.7 L632.7,191.0 L634.5,191.2 L636.2,191.5 L638.0,195.8 L639.7,195.3 L641.5,196.4 L643.2,198.8 L645.0,200.9 L646.7,198.2 L648.5,201.2 L650.2,197.8 L652.0,198.3 L653.7,201.4 L655.5,198.6 L657.2,198.4 L659.0,196.0 L660.7,196.4 L662.5,196.2 L664.2,197.1 L666.0,196.4 L667.7,198.8 L669.5,194.9 L671.2,195.4 L673.0,195.3 L674.7,191.3 L676.5,192.2 L678.2,194.1 L680.0,190.8 L681.7,194.0 L683.5,193.4 L685.2,194.1 L687.0,195.7 L688.7,190.4 L690.5,194.9 L692.2,191.1 L694.0,191.6 L695.8,193.2 L697.5,195.9 L699.3,191.9 L701.0,196.0 L702.8,194.4 L704.5,194.6 L706.3,192.5 L708.0,189.2 L709.8,190.5 L711.5,191.8 L713.3,193.0 L715.0,196.6 L716.8,195.7 L718.5,196.6 L720.3,193.6 L722.0,194.7 L723.8,194.6 L725.5,193.2 L727.3,194.2 L729.0,195.5 L730.8,192.7 L732.5,195.3 L734.3,196.3 L736.0,194.5 L737.8,199.0 L739.5,198.3 L741.3,196.5 L743.0,194.9 L744.8,193.3 L746.5,193.8 L748.3,193.0 L750.0,190.4 L751.8,188.9 L753.5,186.1 L755.3,188.9 L757.0,194.5 L758.8,195.0 L760.5,195.3 L762.3,195.5 L764.0,195.0 L765.8,191.4 L767.5,193.0 L769.3,196.8 L771.0,193.0 L772.8,197.3 L774.5,196.1 L776.3,197.9 L778.0,197.8 L779.8,192.4 L781.5,193.7 L783.3,191.7 L783.3,203.6 L781.5,204.3 L779.8,205.4 L778.0,210.0 L776.3,210.9 L774.5,208.6 L772.8,208.9 L771.0,205.4 L769.3,209.7 L767.5,205.4 L765.8,205.0 L764.0,208.7 L762.3,209.6 L760.5,207.1 L758.8,210.0 L757.0,207.0 L755.3,201.9 L753.5,199.7 L751.8,202.1 L750.0,202.0 L748.3,206.6 L746.5,205.8 L744.8,204.6 L743.0,207.4 L741.3,209.1 L739.5,210.9 L737.8,213.1 L736.0,208.3 L734.3,212.2 L732.5,207.8 L730.8,208.2 L729.0,210.9 L727.3,207.9 L725.5,206.0 L723.8,205.4 L722.0,207.4 L720.3,208.4 L718.5,207.3 L716.8,208.6 L715.0,210.0 L713.3,207.4 L711.5,205.6 L709.8,200.7 L708.0,204.0 L706.3,206.6 L704.5,207.2 L702.8,208.2 L701.0,209.3 L699.3,210.0 L697.5,207.8 L695.8,205.5 L694.0,210.9 L692.2,205.3 L690.5,205.9 L688.7,206.6 L687.0,207.9 L685.2,208.4 L683.5,205.2 L681.7,207.5 L680.0,205.6 L678.2,206.7 L676.5,207.4 L674.7,205.0 L673.0,206.9 L671.2,211.2 L669.5,207.8 L667.7,211.8 L666.0,209.0 L664.2,209.1 L662.5,211.4 L660.7,209.0 L659.0,209.2 L657.2,212.5 L655.5,214.4 L653.7,214.0 L652.0,211.1 L650.2,211.0 L648.5,213.8 L646.7,215.6 L645.0,215.5 L643.2,214.4 L641.5,212.7 L639.7,212.0 L638.0,209.2 L636.2,210.1 L634.5,206.4 L632.7,206.6 L631.0,204.6 L629.2,209.0 L627.5,204.1 L625.7,199.6 L624.0,197.5 L622.2,194.1 L620.5,188.6 L618.7,183.0 L617.0,171.4 L615.2,159.5 L613.5,148.6 L611.7,130.6 L610.0,107.1 L608.2,76.0Z" fill="#0000ff" fill-opacity="0.3" stroke="#0000ff" stroke-opacity="0.3" stroke-width="0.7"/>
<path d="M608.2,65.3 L610.0,95.1 L611.7,118.7 L613.5,136.4 L615.2,150.3 L617.0,162.1 L618.7,170.4 L620.5,179.5 L622.2,184.7 L624.0,188.4 L625.7,190.7 L627.5,193.9 L629.2,196.6 L631.0,197.3 L632.7,198.6 L634.5,198.9 L636.2,200.0 L638.0,202.4 L639.7,203.4 L641.5,204.6 L643.2,205.6 L645.0,206.7 L646.7,206.7 L648.5,207.1 L650.2,205.0 L652.0,205.3 L653.7,207.1 L655.5,205.8 L657.2,205.7 L659.0,202.8 L660.7,203.0 L662.5,203.9 L664.2,202.9 L666.0,202.2 L667.7,204.2 L669.5,201.6 L671.2,201.4 L673.0,200.7 L674.7,199.7 L676.5,200.4 L678.2,199.7 L680.0,199.3 L681.7,199.1 L683.5,199.1 L685.2,200.9 L687.0,201.2 L688.7,200.5 L690.5,200.3 L692.2,198.6 L694.0,199.3 L695.8,199.0 L697.5,201.4 L699.3,203.2 L701.0,203.0 L702.8,201.0 L704.5,201.2 L706.3,199.4 L708.0,197.7 L709.8,195.4 L711.5,198.6 L713.3,199.5 L715.0,202.2 L716.8,202.8 L718.5,202.3 L720.3,201.3 L722.0,200.3 L723.8,199.8 L725.5,199.8 L727.3,199.9 L729.0,201.2 L730.8,200.8 L732.5,202.6 L734.3,204.9 L736.0,202.6 L737.8,204.3 L739.5,204.5 L741.3,202.7 L743.0,202.4 L744.8,198.8 L746.5,199.0 L748.3,199.6 L750.0,196.6 L751.8,196.2 L753.5,193.0 L755.3,196.1 L757.0,200.1 L758.8,201.1 L760.5,201.0 L762.3,200.6 L764.0,201.6 L765.8,198.9 L767.5,198.0 L769.3,202.0 L771.0,200.2 L772.8,202.6 L774.5,201.0 L776.3,203.5 L778.0,203.5 L779.8,200.3 L781.5,198.6 L783.3,197.5" fill="none" stroke="#0000ff" stroke-width="1.65" stroke-linejoin="round"/>
<path d="M608.2,48.6 L610.0,65.1 L611.7,78.4 L613.5,88.4 L615.2,96.5 L617.0,106.3 L618.7,116.2 L620.5,112.4 L622.2,110.5 L624.0,113.8 L625.7,109.0 L627.5,107.7 L629.2,117.2 L631.0,112.9 L632.7,111.9 L634.5,119.5 L636.2,120.6 L638.0,128.0 L639.7,129.8 L641.5,130.7 L643.2,126.8 L645.0,121.3 L646.7,114.8 L648.5,112.9 L650.2,110.8 L652.0,113.0 L653.7,118.5 L655.5,125.5 L657.2,116.1 L659.0,111.9 L660.7,114.1 L662.5,111.5 L664.2,109.5 L666.0,115.0 L667.7,119.5 L669.5,120.3 L671.2,122.8 L673.0,122.7 L674.7,116.2 L676.5,115.1 L678.2,102.8 L680.0,99.4 L681.7,105.1 L683.5,96.6 L685.2,101.5 L687.0,106.6 L688.7,118.4 L690.5,105.8 L692.2,115.8 L694.0,113.7 L695.8,113.1 L697.5,108.3 L699.3,110.6 L701.0,111.3 L702.8,109.0 L704.5,116.9 L706.3,121.2 L708.0,118.2 L709.8,107.7 L711.5,103.9 L713.3,117.3 L715.0,113.4 L716.8,119.0 L718.5,108.2 L720.3,111.5 L722.0,114.4 L723.8,116.0 L725.5,114.2 L727.3,101.7 L729.0,95.1 L730.8,106.2 L732.5,109.1 L734.3,111.1 L736.0,118.0 L737.8,119.4 L739.5,124.9 L741.3,124.8 L743.0,120.2 L744.8,125.9 L746.5,120.6 L748.3,112.2 L750.0,108.4 L751.8,113.4 L753.5,109.2 L755.3,105.4 L757.0,111.8 L758.8,109.2 L760.5,111.4 L762.3,110.2 L764.0,111.5 L765.8,111.1 L767.5,113.7 L769.3,111.0 L771.0,113.9 L772.8,102.2 L774.5,115.4 L776.3,122.3 L778.0,124.7 L779.8,119.6 L781.5,117.7 L783.3,113.6 L783.3,137.7 L781.5,141.4 L779.8,140.9 L778.0,154.5 L776.3,148.1 L774.5,144.3 L772.8,130.3 L771.0,137.5 L769.3,135.7 L767.5,136.0 L765.8,131.8 L764.0,138.4 L762.3,135.3 L760.5,136.7 L758.8,139.4 L757.0,135.7 L755.3,129.3 L753.5,137.0 L751.8,133.4 L750.0,131.3 L748.3,138.3 L746.5,144.0 L744.8,148.4 L743.0,147.9 L741.3,150.1 L739.5,151.3 L737.8,144.1 L736.0,139.8 L734.3,136.0 L732.5,135.3 L730.8,137.2 L729.0,128.0 L727.3,138.2 L725.5,141.4 L723.8,143.3 L722.0,137.2 L720.3,141.4 L718.5,135.3 L716.8,145.2 L715.0,142.1 L713.3,140.5 L711.5,133.8 L709.8,131.1 L708.0,140.1 L706.3,142.1 L704.5,136.6 L702.8,129.7 L701.0,138.3 L699.3,139.0 L697.5,137.1 L695.8,136.0 L694.0,137.6 L692.2,141.7 L690.5,132.6 L688.7,146.8 L687.0,131.2 L685.2,126.2 L683.5,121.3 L681.7,131.0 L680.0,123.2 L678.2,133.1 L676.5,143.8 L674.7,148.1 L673.0,148.0 L671.2,146.8 L669.5,142.1 L667.7,141.3 L666.0,140.1 L664.2,141.9 L662.5,130.9 L660.7,135.7 L659.0,138.7 L657.2,144.0 L655.5,146.3 L653.7,146.1 L652.0,133.5 L650.2,131.2 L648.5,136.2 L646.7,140.5 L645.0,145.2 L643.2,152.0 L641.5,154.7 L639.7,159.2 L638.0,149.8 L636.2,146.1 L634.5,143.0 L632.7,140.5 L631.0,140.6 L629.2,137.6 L627.5,133.1 L625.7,134.8 L624.0,138.5 L622.2,137.6 L620.5,137.9 L618.7,135.8 L617.0,131.4 L615.2,121.6 L613.5,111.6 L611.7,104.1 L610.0,95.7 L608.2,74.1Z" fill="#ff00ff" fill-opacity="0.3" stroke="#ff00ff" stroke-opacity="0.3" stroke-width="0.7"/>
<path d="M608.2,60.9 L610.0,78.1 L611.7,89.7 L613.5,101.0 L615.2,111.2 L617.0,120.3 L618.7,126.1 L620.5,122.8 L622.2,124.4 L624.0,125.7 L625.7,122.6 L627.5,118.3 L629.2,126.8 L631.0,130.1 L632.7,126.4 L634.5,131.9 L636.2,135.5 L638.0,138.4 L639.7,142.3 L641.5,141.9 L643.2,137.8 L645.0,133.4 L646.7,128.0 L648.5,123.9 L650.2,121.3 L652.0,123.8 L653.7,130.2 L655.5,136.4 L657.2,128.8 L659.0,128.0 L660.7,124.7 L662.5,121.2 L664.2,124.6 L666.0,128.5 L667.7,129.5 L669.5,131.9 L671.2,136.4 L673.0,134.8 L674.7,134.3 L676.5,129.3 L678.2,119.5 L680.0,111.6 L681.7,117.8 L683.5,109.9 L685.2,111.9 L687.0,117.2 L688.7,130.4 L690.5,122.0 L692.2,126.8 L694.0,126.7 L695.8,125.0 L697.5,120.6 L699.3,120.8 L701.0,122.6 L702.8,119.0 L704.5,126.8 L706.3,131.5 L708.0,129.4 L709.8,119.2 L711.5,116.3 L713.3,129.7 L715.0,129.4 L716.8,131.0 L718.5,123.6 L720.3,131.3 L722.0,126.6 L723.8,128.2 L725.5,130.0 L727.3,121.1 L729.0,114.5 L730.8,121.2 L732.5,124.6 L734.3,124.1 L736.0,128.4 L737.8,130.3 L739.5,137.9 L741.3,137.5 L743.0,134.0 L744.8,136.5 L746.5,133.9 L748.3,126.0 L750.0,119.4 L751.8,123.7 L753.5,123.9 L755.3,119.4 L757.0,122.7 L758.8,124.5 L760.5,121.2 L762.3,122.7 L764.0,123.6 L765.8,121.1 L767.5,126.0 L769.3,124.2 L771.0,126.2 L772.8,115.5 L774.5,125.2 L776.3,135.2 L778.0,136.3 L779.8,131.2 L781.5,131.7 L783.3,125.4" fill="none" stroke="#ff00ff" stroke-width="1.65" stroke-linejoin="round"/>
<path d="M608.2,27.1 L610.0,28.6 L611.7,28.9 L613.5,30.3 L615.2,30.6 L617.0,30.7 L618.7,30.9 L620.5,31.0 L622.2,31.1 L624.0,31.6 L625.7,31.7 L627.5,32.0 L629.2,32.1 L631.0,32.7 L632.7,32.6 L634.5,33.4 L636.2,33.6 L638.0,33.1 L639.7,33.5 L641.5,33.5 L643.2,33.6 L645.0,33.4 L646.7,33.0 L648.5,33.1 L650.2,32.8 L652.0,32.3 L653.7,32.8 L655.5,32.5 L657.2,32.1 L659.0,32.3 L660.7,32.5 L662.5,31.9 L664.2,32.6 L666.0,32.2 L667.7,32.4 L669.5,32.7 L671.2,32.6 L673.0,32.7 L674.7,32.0 L676.5,32.3 L678.2,32.1 L680.0,31.8 L681.7,31.2 L683.5,31.1 L685.2,31.5 L687.0,31.2 L688.7,31.3 L690.5,31.7 L692.2,31.8 L694.0,31.8 L695.8,32.1 L697.5,31.9 L699.3,31.9 L701.0,32.4 L702.8,31.6 L704.5,32.4 L706.3,31.8 L708.0,32.4 L709.8,32.6 L711.5,32.5 L713.3,32.7 L715.0,31.9 L716.8,31.6 L718.5,30.9 L720.3,32.2 L722.0,31.5 L723.8,32.0 L725.5,31.7 L727.3,32.6 L729.0,32.3 L730.8,32.5 L732.5,32.0 L734.3,32.1 L736.0,32.8 L737.8,32.4 L739.5,32.6 L741.3,32.8 L743.0,32.5 L744.8,32.3 L746.5,32.0 L748.3,32.3 L750.0,32.2 L751.8,31.2 L753.5,31.3 L755.3,31.5 L757.0,31.6 L758.8,31.1 L760.5,31.3 L762.3,31.5 L764.0,31.6 L765.8,31.2 L767.5,31.7 L769.3,32.2 L771.0,32.5 L772.8,32.2 L774.5,32.3 L776.3,32.1 L778.0,32.4 L779.8,32.1 L781.5,32.1 L783.3,32.4 L783.3,34.3 L781.5,34.3 L779.8,34.2 L778.0,34.3 L776.3,34.0 L774.5,34.0 L772.8,34.3 L771.0,34.5 L769.3,34.0 L767.5,33.6 L765.8,33.0 L764.0,33.5 L762.3,33.3 L760.5,33.4 L758.8,33.3 L757.0,33.4 L755.3,33.3 L753.5,33.2 L751.8,33.2 L750.0,34.3 L748.3,34.5 L746.5,34.2 L744.8,34.2 L743.0,34.4 L741.3,34.6 L739.5,34.7 L737.8,34.6 L736.0,35.0 L734.3,34.4 L732.5,34.3 L730.8,34.3 L729.0,34.1 L727.3,34.8 L725.5,33.9 L723.8,34.3 L722.0,33.4 L720.3,34.0 L718.5,33.2 L716.8,33.7 L715.0,33.9 L713.3,34.6 L711.5,34.6 L709.8,34.5 L708.0,34.5 L706.3,33.9 L704.5,34.5 L702.8,33.8 L701.0,34.3 L699.3,34.1 L697.5,33.9 L695.8,34.0 L694.0,33.8 L692.2,33.8 L690.5,33.6 L688.7,33.3 L687.0,33.5 L685.2,33.5 L683.5,32.9 L681.7,33.2 L680.0,33.7 L678.2,34.2 L676.5,34.1 L674.7,34.5 L673.0,34.8 L671.2,34.7 L669.5,34.6 L667.7,34.7 L666.0,34.0 L664.2,34.4 L662.5,33.8 L660.7,34.5 L659.0,34.6 L657.2,34.2 L655.5,34.4 L653.7,35.0 L652.0,34.2 L650.2,34.8 L648.5,35.3 L646.7,35.1 L645.0,35.4 L643.2,35.5 L641.5,35.4 L639.7,35.6 L638.0,35.1 L636.2,35.7 L634.5,35.3 L632.7,34.5 L631.0,34.7 L629.2,34.2 L627.5,33.8 L625.7,33.9 L624.0,33.4 L622.2,33.2 L620.5,33.1 L618.7,32.9 L617.0,32.6 L615.2,32.6 L613.5,32.4 L611.7,31.1 L610.0,30.6 L608.2,29.3Z" fill="#008000" fill-opacity="0.3" stroke="#008000" stroke-opacity="0.3" stroke-width="0.7"/>
<path d="M608.2,28.2 L610.0,29.5 L611.7,30.3 L613.5,31.3 L615.2,31.5 L617.0,31.7 L618.7,31.8 L620.5,32.2 L622.2,32.2 L624.0,32.5 L625.7,32.7 L627.5,32.9 L629.2,33.2 L631.0,33.8 L632.7,33.5 L634.5,34.2 L636.2,34.6 L638.0,34.1 L639.7,34.5 L641.5,34.3 L643.2,34.5 L645.0,34.3 L646.7,34.1 L648.5,34.1 L650.2,33.8 L652.0,33.3 L653.7,34.0 L655.5,33.4 L657.2,33.1 L659.0,33.4 L660.7,33.5 L662.5,32.9 L664.2,33.5 L666.0,33.1 L667.7,33.5 L669.5,33.7 L671.2,33.7 L673.0,33.7 L674.7,33.3 L676.5,33.2 L678.2,33.0 L680.0,32.7 L681.7,32.2 L683.5,32.0 L685.2,32.3 L687.0,32.4 L688.7,32.3 L690.5,32.6 L692.2,32.7 L694.0,33.0 L695.8,32.9 L697.5,32.9 L699.3,32.9 L701.0,33.2 L702.8,32.9 L704.5,33.4 L706.3,32.8 L708.0,33.4 L709.8,33.6 L711.5,33.5 L713.3,33.7 L715.0,32.9 L716.8,32.5 L718.5,32.3 L720.3,33.1 L722.0,32.5 L723.8,33.0 L725.5,32.9 L727.3,33.7 L729.0,33.2 L730.8,33.4 L732.5,33.3 L734.3,33.5 L736.0,33.8 L737.8,33.5 L739.5,33.6 L741.3,33.7 L743.0,33.4 L744.8,33.2 L746.5,33.2 L748.3,33.3 L750.0,33.1 L751.8,32.3 L753.5,32.4 L755.3,32.5 L757.0,32.5 L758.8,32.4 L760.5,32.3 L762.3,32.3 L764.0,32.6 L765.8,32.2 L767.5,32.8 L769.3,33.1 L771.0,33.4 L772.8,33.5 L774.5,33.1 L776.3,33.1 L778.0,33.3 L779.8,33.2 L781.5,33.2 L783.3,33.4" fill="none" stroke="#008000" stroke-width="1.65" stroke-linejoin="round"/>
<path d="M608.2,32.1 L610.0,42.6 L611.7,54.3 L613.5,62.9 L615.2,74.9 L617.0,85.2 L618.7,94.9 L620.5,106.2 L622.2,114.4 L624.0,121.7 L625.7,127.8 L627.5,134.0 L629.2,141.2 L631.0,148.1 L632.7,152.8 L634.5,160.8 L636.2,165.4 L638.0,171.1 L639.7,174.8 L641.5,180.3 L643.2,182.5 L645.0,184.2 L646.7,186.0 L648.5,188.2 L650.2,188.1 L652.0,189.7 L653.7,190.7 L655.5,190.2 L657.2,192.1 L659.0,193.3 L660.7,193.5 L662.5,194.7 L664.2,194.4 L666.0,195.5 L667.7,195.0 L669.5,196.0 L671.2,198.3 L673.0,197.7 L674.7,197.6 L676.5,199.3 L678.2,199.5 L680.0,198.1 L681.7,197.1 L683.5,198.8 L685.2,198.2 L687.0,198.1 L688.7,197.3 L690.5,197.7 L692.2,197.4 L694.0,197.8 L695.8,198.0 L697.5,199.4 L699.3,200.2 L701.0,199.2 L702.8,200.3 L704.5,200.1 L706.3,201.3 L708.0,202.2 L709.8,201.1 L711.5,201.8 L713.3,201.2 L715.0,202.5 L716.8,201.7 L718.5,202.0 L720.3,201.5 L722.0,201.8 L723.8,202.5 L725.5,203.0 L727.3,201.9 L729.0,202.5 L730.8,201.5 L732.5,203.4 L734.3,204.1 L736.0,201.9 L737.8,204.2 L739.5,204.4 L741.3,202.5 L743.0,203.8 L744.8,202.3 L746.5,201.2 L748.3,200.3 L750.0,198.0 L751.8,197.7 L753.5,195.8 L755.3,197.4 L757.0,197.5 L758.8,200.6 L760.5,201.3 L762.3,201.9 L764.0,200.8 L765.8,202.5 L767.5,201.6 L769.3,202.7 L771.0,202.8 L772.8,202.0 L774.5,203.1 L776.3,202.7 L778.0,202.6 L779.8,200.3 L781.5,200.5 L783.3,199.9 L783.3,207.0 L781.5,208.9 L779.8,209.8 L778.0,210.4 L776.3,211.1 L774.5,210.9 L772.8,211.0 L771.0,210.8 L769.3,211.6 L767.5,209.7 L765.8,209.9 L764.0,210.6 L762.3,209.4 L760.5,208.4 L758.8,207.8 L757.0,206.9 L755.3,204.7 L753.5,205.7 L751.8,205.3 L750.0,208.2 L748.3,208.1 L746.5,209.3 L744.8,210.0 L743.0,211.8 L741.3,211.4 L739.5,211.4 L737.8,212.3 L736.0,210.8 L734.3,211.8 L732.5,210.9 L730.8,211.4 L729.0,210.3 L727.3,209.0 L725.5,210.1 L723.8,210.5 L722.0,209.5 L720.3,209.1 L718.5,209.6 L716.8,209.0 L715.0,209.9 L713.3,209.0 L711.5,208.7 L709.8,212.0 L708.0,209.2 L706.3,208.4 L704.5,209.3 L702.8,208.0 L701.0,209.3 L699.3,207.4 L697.5,208.0 L695.8,205.4 L694.0,207.4 L692.2,204.9 L690.5,207.7 L688.7,206.4 L687.0,206.7 L685.2,206.0 L683.5,206.7 L681.7,205.9 L680.0,207.0 L678.2,206.9 L676.5,207.4 L674.7,205.5 L673.0,205.3 L671.2,205.3 L669.5,205.2 L667.7,204.8 L666.0,203.5 L664.2,204.2 L662.5,203.0 L660.7,202.9 L659.0,201.1 L657.2,200.1 L655.5,200.7 L653.7,198.7 L652.0,199.1 L650.2,197.2 L648.5,197.9 L646.7,195.7 L645.0,193.0 L643.2,192.1 L641.5,190.1 L639.7,183.9 L638.0,180.2 L636.2,176.8 L634.5,171.5 L632.7,164.9 L631.0,159.4 L629.2,154.0 L627.5,146.5 L625.7,142.7 L624.0,134.7 L622.2,126.9 L620.5,119.3 L618.7,109.2 L617.0,99.9 L615.2,90.6 L613.5,80.1 L611.7,71.4 L610.0,61.5 L608.2,51.0Z" fill="#ff0000" fill-opacity="0.3" stroke="#ff0000" stroke-opacity="0.3" stroke-width="0.7"/>
<path d="M608.2,41.7 L610.0,52.4 L611.7,62.4 L613.5,72.7 L615.2,83.5 L617.0,92.2 L618.7,102.6 L620.5,112.4 L622.2,120.7 L624.0,127.9 L625.7,134.9 L627.5,140.9 L629.2,148.7 L631.0,154.1 L632.7,159.6 L634.5,166.0 L636.2,171.4 L638.0,175.6 L639.7,179.3 L641.5,184.7 L643.2,187.2 L645.0,188.7 L646.7,190.6 L648.5,192.5 L650.2,192.9 L652.0,193.9 L653.7,194.7 L655.5,195.4 L657.2,196.2 L659.0,197.1 L660.7,197.7 L662.5,198.8 L664.2,199.1 L666.0,199.6 L667.7,200.4 L669.5,200.9 L671.2,201.8 L673.0,201.6 L674.7,201.9 L676.5,203.3 L678.2,203.0 L680.0,203.1 L681.7,202.4 L683.5,202.5 L685.2,202.4 L687.0,202.3 L688.7,202.0 L690.5,202.1 L692.2,201.3 L694.0,201.5 L695.8,201.8 L697.5,203.5 L699.3,204.1 L701.0,204.7 L702.8,204.5 L704.5,205.3 L706.3,205.0 L708.0,205.5 L709.8,205.4 L711.5,205.4 L713.3,205.1 L715.0,206.1 L716.8,205.3 L718.5,205.9 L720.3,205.1 L722.0,206.1 L723.8,205.8 L725.5,206.3 L727.3,205.5 L729.0,206.7 L730.8,206.6 L732.5,207.1 L734.3,207.7 L736.0,207.6 L737.8,207.5 L739.5,208.1 L741.3,208.0 L743.0,207.4 L744.8,206.2 L746.5,205.2 L748.3,203.9 L750.0,202.3 L751.8,201.7 L753.5,200.7 L755.3,201.0 L757.0,202.8 L758.8,203.9 L760.5,205.0 L762.3,205.3 L764.0,205.3 L765.8,205.7 L767.5,205.3 L769.3,207.0 L771.0,206.4 L772.8,206.6 L774.5,207.5 L776.3,207.6 L778.0,206.8 L779.8,205.2 L781.5,204.8 L783.3,203.8" fill="none" stroke="#ff0000" stroke-width="1.65" stroke-linejoin="round"/>
</g>
<rect x="599.4" y="18.5" width="192.7" height="201.7" fill="none" stroke="#1e1e1e" stroke-width="1.3"/>
<defs><clipPath id="cB1"><rect x="40.5" y="372.4" width="199.8" height="202.2"/></clipPath></defs>
<g clip-path="url(#cB1)">
<path d="M49.6,383.6 L50.5,385.2 L51.4,383.4 L52.3,384.1 L53.2,383.0 L54.1,383.1 L55.0,383.6 L56.0,383.8 L56.9,383.9 L57.8,387.0 L58.7,383.4 L59.6,384.4 L60.5,384.0 L61.4,384.0 L62.3,385.5 L63.2,384.3 L64.1,383.3 L65.0,382.7 L65.9,385.2 L66.9,385.5 L67.8,382.6 L68.7,384.9 L69.6,382.4 L70.5,384.0 L71.4,385.4 L72.3,383.8 L73.2,382.8 L74.1,385.4 L75.0,382.8 L75.9,385.0 L76.8,383.0 L77.7,385.0 L78.7,386.3 L79.6,383.8 L80.5,383.1 L81.4,382.3 L82.3,382.4 L83.2,384.0 L84.1,385.0 L85.0,385.2 L85.9,385.0 L86.8,385.5 L87.7,384.3 L88.6,387.4 L89.6,384.2 L90.5,384.7 L91.4,381.4 L92.3,384.2 L93.2,384.8 L94.1,384.2 L95.0,385.9 L95.9,385.2 L96.8,386.8 L97.7,382.5 L98.6,383.7 L99.5,385.2 L100.4,384.4 L101.4,383.8 L102.3,384.0 L103.2,384.2 L104.1,385.6 L105.0,384.6 L105.9,384.6 L106.8,383.4 L107.7,384.3 L108.6,385.9 L109.5,383.6 L110.4,385.1 L111.3,383.5 L112.3,383.9 L113.2,383.4 L114.1,382.9 L115.0,383.8 L115.9,383.6 L116.8,385.4 L117.7,384.8 L118.6,383.6 L119.5,382.2 L120.4,383.1 L121.3,381.8 L122.2,384.2 L123.1,384.0 L124.1,383.2 L125.0,384.2 L125.9,384.4 L126.8,384.9 L127.7,382.9 L128.6,385.5 L129.5,384.0 L130.4,385.6 L131.3,383.4 L132.2,385.0 L133.1,383.0 L134.0,385.7 L135.0,384.3 L135.9,382.9 L136.8,384.4 L137.7,383.3 L138.6,385.0 L139.5,386.7 L140.4,383.9 L141.3,383.5 L142.2,384.5 L143.1,384.0 L144.0,384.2 L144.9,385.4 L145.8,384.6 L146.8,385.0 L147.7,381.9 L148.6,386.2 L149.5,383.4 L150.4,383.6 L151.3,386.5 L152.2,386.3 L153.1,384.0 L154.0,385.2 L154.9,383.6 L155.8,383.3 L156.7,385.0 L157.7,384.6 L158.6,387.2 L159.5,384.2 L160.4,385.3 L161.3,383.5 L162.2,384.0 L163.1,385.8 L164.0,382.6 L164.9,383.6 L165.8,384.0 L166.7,385.5 L167.6,385.4 L168.5,385.5 L169.5,385.1 L170.4,385.3 L171.3,384.0 L172.2,384.8 L173.1,384.0 L174.0,385.2 L174.9,383.5 L175.8,384.5 L176.7,387.4 L177.6,385.6 L178.5,385.1 L179.4,383.9 L180.4,385.2 L181.3,385.0 L182.2,385.7 L183.1,383.3 L184.0,385.1 L184.9,385.6 L185.8,385.5 L186.7,384.7 L187.6,385.4 L188.5,386.3 L189.4,384.4 L190.3,385.5 L191.2,384.3 L192.2,385.0 L193.1,383.6 L194.0,383.8 L194.9,385.9 L195.8,385.2 L196.7,386.5 L197.6,383.2 L198.5,384.2 L199.4,383.2 L200.3,384.7 L201.2,386.9 L202.1,382.9 L203.1,384.8 L204.0,384.0 L204.9,384.8 L205.8,384.0 L206.7,384.1 L207.6,386.0 L208.5,383.4 L209.4,385.1 L210.3,384.2 L211.2,382.7 L212.1,383.0 L213.0,384.4 L213.9,386.1 L214.9,384.0 L215.8,382.8 L216.7,383.4 L217.6,385.2 L218.5,384.4 L219.4,384.7 L220.3,382.7 L221.2,381.6 L222.1,381.6 L223.0,383.4 L223.9,381.7 L224.8,381.2 L225.8,383.2 L226.7,383.7 L227.6,382.2 L228.5,384.9 L229.4,384.9 L230.3,386.6 L231.2,387.1 L231.2,390.8 L230.3,390.6 L229.4,389.1 L228.5,389.2 L227.6,385.8 L226.7,388.7 L225.8,387.2 L224.8,385.0 L223.9,386.1 L223.0,386.9 L222.1,385.4 L221.2,385.6 L220.3,386.6 L219.4,388.8 L218.5,388.0 L217.6,389.7 L216.7,387.5 L215.8,387.1 L214.9,387.4 L213.9,389.8 L213.0,388.0 L212.1,386.7 L211.2,386.2 L210.3,388.7 L209.4,388.8 L208.5,387.9 L207.6,390.4 L206.7,388.5 L205.8,387.9 L204.9,388.1 L204.0,388.5 L203.1,388.9 L202.1,386.9 L201.2,390.6 L200.3,389.0 L199.4,387.1 L198.5,388.5 L197.6,387.0 L196.7,390.4 L195.8,389.0 L194.9,389.5 L194.0,387.8 L193.1,388.3 L192.2,388.5 L191.2,388.7 L190.3,390.1 L189.4,388.0 L188.5,390.2 L187.6,389.4 L186.7,388.4 L185.8,389.8 L184.9,390.4 L184.0,389.0 L183.1,388.1 L182.2,390.1 L181.3,388.9 L180.4,389.5 L179.4,387.6 L178.5,389.2 L177.6,389.6 L176.7,391.2 L175.8,388.5 L174.9,387.5 L174.0,389.5 L173.1,388.4 L172.2,388.0 L171.3,388.3 L170.4,389.6 L169.5,389.4 L168.5,388.8 L167.6,389.9 L166.7,390.5 L165.8,388.0 L164.9,387.7 L164.0,386.6 L163.1,389.9 L162.2,387.9 L161.3,387.8 L160.4,389.0 L159.5,388.1 L158.6,391.5 L157.7,390.1 L156.7,389.5 L155.8,387.5 L154.9,387.9 L154.0,388.9 L153.1,387.5 L152.2,390.4 L151.3,389.9 L150.4,387.1 L149.5,387.7 L148.6,389.8 L147.7,385.8 L146.8,388.8 L145.8,388.0 L144.9,389.4 L144.0,389.0 L143.1,387.2 L142.2,389.9 L141.3,388.2 L140.4,387.6 L139.5,390.0 L138.6,388.3 L137.7,387.8 L136.8,389.0 L135.9,387.4 L135.0,389.0 L134.0,389.6 L133.1,387.9 L132.2,389.2 L131.3,387.0 L130.4,390.0 L129.5,387.4 L128.6,389.9 L127.7,387.7 L126.8,389.0 L125.9,388.5 L125.0,388.1 L124.1,387.4 L123.1,388.2 L122.2,387.9 L121.3,386.0 L120.4,386.6 L119.5,386.8 L118.6,388.0 L117.7,389.5 L116.8,389.0 L115.9,387.6 L115.0,387.5 L114.1,386.8 L113.2,387.6 L112.3,388.1 L111.3,387.1 L110.4,389.4 L109.5,387.7 L108.6,390.1 L107.7,389.1 L106.8,387.5 L105.9,388.3 L105.0,388.9 L104.1,389.6 L103.2,388.4 L102.3,388.5 L101.4,387.4 L100.4,388.6 L99.5,390.7 L98.6,387.9 L97.7,386.9 L96.8,390.3 L95.9,389.4 L95.0,389.4 L94.1,387.9 L93.2,389.0 L92.3,388.5 L91.4,386.1 L90.5,389.0 L89.6,388.5 L88.6,390.8 L87.7,388.7 L86.8,389.7 L85.9,388.8 L85.0,388.8 L84.1,389.4 L83.2,388.1 L82.3,386.8 L81.4,386.2 L80.5,387.5 L79.6,388.1 L78.7,389.7 L77.7,388.8 L76.8,386.7 L75.9,389.0 L75.0,387.7 L74.1,390.1 L73.2,387.4 L72.3,387.3 L71.4,389.0 L70.5,388.4 L69.6,385.9 L68.7,389.0 L67.8,386.5 L66.9,389.3 L65.9,388.6 L65.0,386.8 L64.1,387.6 L63.2,388.9 L62.3,390.2 L61.4,388.2 L60.5,388.4 L59.6,388.2 L58.7,387.1 L57.8,390.9 L56.9,388.4 L56.0,387.5 L55.0,387.0 L54.1,386.9 L53.2,387.1 L52.3,389.0 L51.4,387.5 L50.5,388.6 L49.6,387.9Z" fill="#008000" fill-opacity="0.3" stroke="#008000" stroke-opacity="0.3" stroke-width="0.7"/>
<path d="M49.6,386.1 L50.5,386.8 L51.4,385.6 L52.3,386.9 L53.2,385.2 L54.1,385.0 L55.0,385.3 L56.0,385.7 L56.9,385.6 L57.8,388.9 L58.7,385.4 L59.6,386.5 L60.5,386.1 L61.4,386.5 L62.3,387.6 L63.2,386.8 L64.1,385.6 L65.0,384.9 L65.9,386.9 L66.9,387.2 L67.8,384.9 L68.7,387.2 L69.6,384.3 L70.5,386.3 L71.4,387.2 L72.3,385.4 L73.2,384.7 L74.1,387.8 L75.0,384.8 L75.9,386.7 L76.8,384.9 L77.7,386.8 L78.7,388.0 L79.6,385.9 L80.5,385.5 L81.4,384.3 L82.3,384.7 L83.2,385.8 L84.1,386.7 L85.0,387.0 L85.9,386.8 L86.8,387.3 L87.7,386.8 L88.6,389.1 L89.6,386.4 L90.5,386.6 L91.4,384.0 L92.3,385.8 L93.2,387.0 L94.1,386.0 L95.0,387.8 L95.9,387.2 L96.8,388.4 L97.7,385.1 L98.6,386.0 L99.5,387.7 L100.4,386.6 L101.4,385.6 L102.3,386.0 L103.2,386.1 L104.1,387.4 L105.0,387.1 L105.9,386.4 L106.8,385.5 L107.7,387.3 L108.6,387.6 L109.5,385.3 L110.4,387.4 L111.3,385.3 L112.3,386.2 L113.2,385.5 L114.1,384.6 L115.0,385.7 L115.9,385.6 L116.8,387.3 L117.7,387.1 L118.6,385.7 L119.5,384.8 L120.4,384.9 L121.3,384.0 L122.2,386.0 L123.1,386.1 L124.1,385.3 L125.0,386.3 L125.9,386.3 L126.8,387.3 L127.7,385.3 L128.6,387.3 L129.5,385.7 L130.4,387.7 L131.3,385.1 L132.2,387.2 L133.1,385.4 L134.0,387.8 L135.0,386.6 L135.9,385.0 L136.8,387.0 L137.7,386.1 L138.6,386.6 L139.5,388.5 L140.4,385.8 L141.3,385.7 L142.2,387.3 L143.1,385.6 L144.0,387.0 L144.9,387.2 L145.8,386.2 L146.8,386.9 L147.7,384.0 L148.6,387.8 L149.5,385.5 L150.4,385.3 L151.3,388.3 L152.2,388.1 L153.1,385.8 L154.0,386.8 L154.9,386.0 L155.8,385.2 L156.7,386.8 L157.7,387.5 L158.6,389.2 L159.5,386.2 L160.4,387.4 L161.3,386.2 L162.2,386.3 L163.1,387.9 L164.0,384.8 L164.9,385.5 L165.8,385.7 L166.7,387.8 L167.6,387.0 L168.5,387.1 L169.5,387.0 L170.4,387.8 L171.3,386.2 L172.2,386.4 L173.1,386.3 L174.0,387.2 L174.9,385.4 L175.8,386.5 L176.7,389.5 L177.6,387.4 L178.5,386.8 L179.4,385.8 L180.4,387.1 L181.3,387.1 L182.2,387.5 L183.1,386.2 L184.0,387.3 L184.9,387.5 L185.8,387.6 L186.7,386.3 L187.6,387.5 L188.5,388.6 L189.4,386.3 L190.3,387.7 L191.2,386.6 L192.2,386.6 L193.1,385.8 L194.0,386.0 L194.9,387.6 L195.8,387.2 L196.7,388.2 L197.6,385.2 L198.5,386.4 L199.4,385.4 L200.3,387.0 L201.2,388.7 L202.1,385.1 L203.1,386.5 L204.0,386.4 L204.9,386.4 L205.8,385.7 L206.7,385.8 L207.6,387.9 L208.5,385.1 L209.4,386.7 L210.3,386.6 L211.2,384.3 L212.1,385.1 L213.0,386.3 L213.9,387.8 L214.9,385.7 L215.8,385.2 L216.7,385.8 L217.6,386.9 L218.5,386.2 L219.4,386.5 L220.3,384.8 L221.2,383.9 L222.1,383.5 L223.0,385.0 L223.9,383.8 L224.8,383.3 L225.8,385.1 L226.7,385.4 L227.6,383.9 L228.5,386.5 L229.4,386.5 L230.3,388.6 L231.2,388.8" fill="none" stroke="#008000" stroke-width="1.6" stroke-linejoin="round"/>
<path d="M49.6,383.6 L50.5,392.7 L51.4,402.0 L52.3,406.0 L53.2,407.7 L54.1,410.7 L55.0,411.7 L56.0,412.5 L56.9,411.5 L57.8,410.5 L58.7,412.6 L59.6,411.0 L60.5,412.1 L61.4,411.6 L62.3,412.7 L63.2,410.7 L64.1,411.3 L65.0,413.0 L65.9,412.6 L66.9,412.4 L67.8,413.6 L68.7,412.0 L69.6,410.7 L70.5,413.9 L71.4,411.4 L72.3,411.9 L73.2,414.0 L74.1,413.5 L75.0,415.3 L75.9,413.1 L76.8,413.7 L77.7,414.9 L78.7,415.2 L79.6,414.2 L80.5,414.3 L81.4,415.7 L82.3,415.7 L83.2,415.2 L84.1,415.2 L85.0,417.3 L85.9,417.7 L86.8,418.4 L87.7,419.3 L88.6,418.8 L89.6,419.4 L90.5,418.3 L91.4,418.7 L92.3,416.9 L93.2,418.6 L94.1,417.8 L95.0,415.6 L95.9,417.6 L96.8,416.1 L97.7,417.2 L98.6,415.4 L99.5,415.5 L100.4,416.2 L101.4,414.4 L102.3,414.3 L103.2,414.2 L104.1,415.8 L105.0,413.7 L105.9,414.6 L106.8,414.9 L107.7,414.5 L108.6,415.4 L109.5,416.2 L110.4,415.8 L111.3,415.1 L112.3,415.7 L113.2,414.1 L114.1,413.9 L115.0,416.8 L115.9,416.3 L116.8,416.3 L117.7,416.2 L118.6,413.7 L119.5,416.1 L120.4,416.2 L121.3,413.4 L122.2,416.2 L123.1,415.8 L124.1,412.4 L125.0,412.8 L125.9,414.3 L126.8,414.7 L127.7,414.0 L128.6,413.9 L129.5,414.4 L130.4,414.6 L131.3,415.9 L132.2,415.2 L133.1,415.0 L134.0,415.4 L135.0,413.0 L135.9,415.2 L136.8,416.8 L137.7,416.4 L138.6,414.9 L139.5,415.6 L140.4,414.1 L141.3,414.7 L142.2,414.8 L143.1,414.4 L144.0,413.5 L144.9,415.5 L145.8,415.2 L146.8,414.3 L147.7,411.9 L148.6,414.2 L149.5,411.1 L150.4,412.4 L151.3,413.8 L152.2,413.0 L153.1,413.4 L154.0,414.4 L154.9,414.4 L155.8,415.1 L156.7,414.0 L157.7,414.3 L158.6,414.9 L159.5,414.2 L160.4,415.7 L161.3,414.0 L162.2,415.7 L163.1,414.8 L164.0,414.9 L164.9,416.2 L165.8,411.5 L166.7,416.3 L167.6,415.7 L168.5,413.3 L169.5,416.4 L170.4,415.2 L171.3,416.5 L172.2,415.9 L173.1,414.9 L174.0,413.9 L174.9,413.8 L175.8,414.8 L176.7,415.0 L177.6,414.7 L178.5,416.5 L179.4,415.2 L180.4,417.1 L181.3,416.0 L182.2,415.9 L183.1,416.4 L184.0,416.0 L184.9,414.7 L185.8,415.4 L186.7,417.5 L187.6,416.1 L188.5,416.7 L189.4,413.8 L190.3,415.5 L191.2,412.9 L192.2,414.0 L193.1,415.7 L194.0,415.1 L194.9,415.7 L195.8,414.9 L196.7,414.8 L197.6,415.4 L198.5,415.7 L199.4,415.2 L200.3,415.1 L201.2,415.2 L202.1,414.0 L203.1,417.4 L204.0,416.1 L204.9,417.1 L205.8,417.0 L206.7,417.2 L207.6,417.6 L208.5,418.3 L209.4,417.4 L210.3,418.4 L211.2,419.3 L212.1,415.9 L213.0,416.6 L213.9,419.2 L214.9,417.2 L215.8,417.4 L216.7,414.9 L217.6,415.1 L218.5,415.6 L219.4,416.7 L220.3,415.2 L221.2,413.8 L222.1,413.1 L223.0,413.7 L223.9,413.5 L224.8,410.7 L225.8,412.3 L226.7,413.7 L227.6,416.1 L228.5,414.0 L229.4,416.4 L230.3,415.6 L231.2,414.8 L231.2,424.1 L230.3,424.2 L229.4,426.4 L228.5,422.4 L227.6,424.5 L226.7,422.5 L225.8,420.9 L224.8,420.0 L223.9,422.4 L223.0,422.6 L222.1,422.3 L221.2,422.8 L220.3,425.5 L219.4,426.1 L218.5,423.9 L217.6,424.7 L216.7,424.4 L215.8,426.0 L214.9,427.2 L213.9,429.5 L213.0,427.1 L212.1,426.4 L211.2,427.4 L210.3,427.6 L209.4,426.4 L208.5,427.8 L207.6,426.1 L206.7,425.3 L205.8,425.4 L204.9,425.7 L204.0,424.4 L203.1,427.6 L202.1,423.1 L201.2,425.1 L200.3,423.3 L199.4,424.6 L198.5,425.8 L197.6,424.1 L196.7,423.2 L195.8,423.7 L194.9,425.2 L194.0,424.4 L193.1,425.3 L192.2,423.8 L191.2,423.6 L190.3,426.3 L189.4,424.0 L188.5,426.3 L187.6,425.2 L186.7,425.8 L185.8,425.6 L184.9,425.9 L184.0,425.3 L183.1,424.9 L182.2,424.4 L181.3,425.4 L180.4,426.1 L179.4,424.0 L178.5,425.8 L177.6,423.9 L176.7,424.2 L175.8,423.4 L174.9,423.8 L174.0,424.6 L173.1,424.3 L172.2,424.0 L171.3,424.8 L170.4,423.8 L169.5,425.4 L168.5,423.1 L167.6,424.8 L166.7,425.7 L165.8,423.3 L164.9,424.2 L164.0,423.2 L163.1,423.7 L162.2,424.9 L161.3,424.1 L160.4,424.5 L159.5,425.1 L158.6,423.5 L157.7,422.6 L156.7,422.7 L155.8,424.1 L154.9,422.6 L154.0,423.1 L153.1,423.1 L152.2,422.5 L151.3,423.0 L150.4,422.1 L149.5,421.3 L148.6,423.7 L147.7,421.7 L146.8,422.8 L145.8,423.5 L144.9,424.1 L144.0,423.8 L143.1,423.4 L142.2,423.5 L141.3,423.1 L140.4,423.2 L139.5,424.5 L138.6,425.7 L137.7,425.4 L136.8,426.3 L135.9,424.0 L135.0,422.6 L134.0,424.3 L133.1,425.5 L132.2,423.5 L131.3,424.8 L130.4,423.4 L129.5,423.6 L128.6,423.5 L127.7,424.9 L126.8,423.0 L125.9,423.1 L125.0,422.9 L124.1,423.1 L123.1,424.4 L122.2,424.9 L121.3,423.7 L120.4,424.8 L119.5,425.9 L118.6,423.7 L117.7,425.6 L116.8,425.1 L115.9,426.3 L115.0,426.5 L114.1,425.4 L113.2,423.9 L112.3,424.9 L111.3,424.7 L110.4,424.4 L109.5,424.6 L108.6,424.8 L107.7,423.7 L106.8,424.5 L105.9,424.7 L105.0,423.5 L104.1,424.9 L103.2,423.4 L102.3,423.8 L101.4,424.4 L100.4,425.0 L99.5,425.8 L98.6,424.2 L97.7,425.8 L96.8,426.4 L95.9,425.7 L95.0,425.1 L94.1,427.2 L93.2,427.7 L92.3,426.5 L91.4,427.6 L90.5,427.5 L89.6,428.9 L88.6,428.0 L87.7,428.3 L86.8,426.8 L85.9,427.3 L85.0,426.6 L84.1,424.1 L83.2,425.6 L82.3,424.2 L81.4,425.4 L80.5,422.8 L79.6,422.3 L78.7,423.5 L77.7,423.3 L76.8,423.4 L75.9,423.2 L75.0,423.7 L74.1,423.3 L73.2,423.3 L72.3,421.7 L71.4,422.5 L70.5,422.0 L69.6,420.2 L68.7,422.3 L67.8,422.6 L66.9,421.7 L65.9,421.1 L65.0,422.3 L64.1,424.7 L63.2,420.4 L62.3,420.5 L61.4,420.8 L60.5,420.9 L59.6,421.0 L58.7,421.2 L57.8,419.2 L56.9,420.6 L56.0,421.2 L55.0,421.1 L54.1,421.0 L53.2,416.3 L52.3,414.9 L51.4,411.4 L50.5,400.9 L49.6,393.5Z" fill="#ff00ff" fill-opacity="0.3" stroke="#ff00ff" stroke-opacity="0.3" stroke-width="0.7"/>
<path d="M49.6,388.4 L50.5,396.7 L51.4,406.2 L52.3,410.3 L53.2,411.8 L54.1,416.3 L55.0,416.1 L56.0,416.5 L56.9,416.3 L57.8,414.7 L58.7,416.8 L59.6,416.8 L60.5,416.8 L61.4,415.9 L62.3,416.5 L63.2,415.6 L64.1,417.1 L65.0,417.8 L65.9,417.2 L66.9,416.8 L67.8,417.8 L68.7,416.9 L69.6,415.6 L70.5,417.9 L71.4,417.4 L72.3,416.4 L73.2,418.5 L74.1,418.8 L75.0,419.3 L75.9,418.1 L76.8,418.2 L77.7,419.0 L78.7,419.1 L79.6,418.2 L80.5,418.7 L81.4,421.0 L82.3,420.0 L83.2,420.3 L84.1,420.2 L85.0,421.5 L85.9,422.2 L86.8,422.5 L87.7,424.1 L88.6,422.9 L89.6,423.4 L90.5,422.2 L91.4,423.3 L92.3,422.5 L93.2,422.7 L94.1,422.6 L95.0,420.7 L95.9,421.5 L96.8,420.4 L97.7,421.6 L98.6,420.2 L99.5,421.6 L100.4,420.2 L101.4,420.0 L102.3,418.9 L103.2,419.3 L104.1,419.7 L105.0,418.9 L105.9,419.6 L106.8,419.3 L107.7,419.2 L108.6,420.0 L109.5,420.3 L110.4,419.8 L111.3,420.6 L112.3,419.9 L113.2,419.4 L114.1,419.7 L115.0,420.9 L115.9,421.8 L116.8,420.7 L117.7,420.9 L118.6,419.6 L119.5,420.8 L120.4,420.4 L121.3,419.4 L122.2,420.3 L123.1,419.8 L124.1,417.9 L125.0,417.9 L125.9,418.5 L126.8,418.7 L127.7,419.9 L128.6,418.6 L129.5,419.1 L130.4,419.1 L131.3,419.8 L132.2,419.4 L133.1,419.7 L134.0,419.3 L135.0,418.3 L135.9,419.4 L136.8,421.3 L137.7,420.7 L138.6,421.1 L139.5,420.2 L140.4,418.8 L141.3,418.8 L142.2,419.5 L143.1,418.5 L144.0,419.3 L144.9,419.7 L145.8,419.5 L146.8,418.8 L147.7,416.5 L148.6,418.9 L149.5,416.6 L150.4,416.7 L151.3,418.3 L152.2,418.4 L153.1,419.1 L154.0,418.7 L154.9,418.3 L155.8,419.1 L156.7,418.4 L157.7,418.4 L158.6,419.4 L159.5,419.5 L160.4,419.8 L161.3,419.4 L162.2,420.6 L163.1,419.2 L164.0,419.3 L164.9,420.2 L165.8,417.4 L166.7,420.2 L167.6,420.0 L168.5,418.9 L169.5,420.8 L170.4,419.7 L171.3,420.4 L172.2,420.1 L173.1,419.5 L174.0,419.3 L174.9,418.7 L175.8,419.2 L176.7,419.0 L177.6,419.7 L178.5,420.9 L179.4,419.6 L180.4,421.2 L181.3,421.5 L182.2,419.8 L183.1,420.4 L184.0,420.8 L184.9,420.1 L185.8,419.9 L186.7,421.8 L187.6,420.4 L188.5,421.3 L189.4,419.9 L190.3,420.5 L191.2,418.5 L192.2,419.1 L193.1,420.2 L194.0,419.5 L194.9,420.6 L195.8,419.5 L196.7,419.1 L197.6,419.4 L198.5,421.5 L199.4,420.0 L200.3,419.3 L201.2,419.6 L202.1,418.9 L203.1,421.5 L204.0,420.2 L204.9,421.6 L205.8,421.2 L206.7,421.4 L207.6,421.5 L208.5,422.6 L209.4,421.9 L210.3,423.1 L211.2,423.3 L212.1,421.4 L213.0,421.9 L213.9,423.3 L214.9,422.6 L215.8,421.7 L216.7,420.2 L217.6,420.2 L218.5,419.9 L219.4,421.7 L220.3,419.7 L221.2,418.7 L222.1,418.2 L223.0,417.7 L223.9,417.8 L224.8,415.6 L225.8,416.5 L226.7,418.6 L227.6,420.0 L228.5,417.9 L229.4,420.9 L230.3,420.0 L231.2,420.0" fill="none" stroke="#ff00ff" stroke-width="1.6" stroke-linejoin="round"/>
<path d="M49.6,381.9 L50.5,393.5 L51.4,404.1 L52.3,413.2 L53.2,420.9 L54.1,429.5 L55.0,436.2 L56.0,443.2 L56.9,449.2 L57.8,455.5 L58.7,460.4 L59.6,465.5 L60.5,470.2 L61.4,474.8 L62.3,478.8 L63.2,484.1 L64.1,486.6 L65.0,489.8 L65.9,493.0 L66.9,496.3 L67.8,497.8 L68.7,500.9 L69.6,504.2 L70.5,505.9 L71.4,507.9 L72.3,510.5 L73.2,513.1 L74.1,514.4 L75.0,516.9 L75.9,518.6 L76.8,519.2 L77.7,521.4 L78.7,522.8 L79.6,524.4 L80.5,525.1 L81.4,527.5 L82.3,528.7 L83.2,529.7 L84.1,531.2 L85.0,533.0 L85.9,533.2 L86.8,534.9 L87.7,536.1 L88.6,536.9 L89.6,537.7 L90.5,539.1 L91.4,540.2 L92.3,540.7 L93.2,540.9 L94.1,541.6 L95.0,542.2 L95.9,543.6 L96.8,544.2 L97.7,544.5 L98.6,546.8 L99.5,546.2 L100.4,546.9 L101.4,547.6 L102.3,547.4 L103.2,547.9 L104.1,548.6 L105.0,549.2 L105.9,548.8 L106.8,549.1 L107.7,549.7 L108.6,550.1 L109.5,549.7 L110.4,550.8 L111.3,551.7 L112.3,550.7 L113.2,551.2 L114.1,552.0 L115.0,551.7 L115.9,551.9 L116.8,552.9 L117.7,552.8 L118.6,553.3 L119.5,553.9 L120.4,553.1 L121.3,553.9 L122.2,554.5 L123.1,554.3 L124.1,555.1 L125.0,555.8 L125.9,556.3 L126.8,555.6 L127.7,556.7 L128.6,556.6 L129.5,556.2 L130.4,557.3 L131.3,556.8 L132.2,557.6 L133.1,558.3 L134.0,557.8 L135.0,558.8 L135.9,558.4 L136.8,559.1 L137.7,559.3 L138.6,558.8 L139.5,559.2 L140.4,559.9 L141.3,559.4 L142.2,559.6 L143.1,559.9 L144.0,560.3 L144.9,559.2 L145.8,559.7 L146.8,559.5 L147.7,559.2 L148.6,559.4 L149.5,558.5 L150.4,559.3 L151.3,559.9 L152.2,560.4 L153.1,558.2 L154.0,559.0 L154.9,560.0 L155.8,560.3 L156.7,559.9 L157.7,559.4 L158.6,560.1 L159.5,559.8 L160.4,560.2 L161.3,561.2 L162.2,559.5 L163.1,560.4 L164.0,559.5 L164.9,558.7 L165.8,559.6 L166.7,559.2 L167.6,560.0 L168.5,559.8 L169.5,559.1 L170.4,559.5 L171.3,558.9 L172.2,558.9 L173.1,559.4 L174.0,559.0 L174.9,558.6 L175.8,558.8 L176.7,558.7 L177.6,558.6 L178.5,558.1 L179.4,558.3 L180.4,558.0 L181.3,558.5 L182.2,558.8 L183.1,558.8 L184.0,558.3 L184.9,558.1 L185.8,558.2 L186.7,558.1 L187.6,556.8 L188.5,558.2 L189.4,558.2 L190.3,558.0 L191.2,557.9 L192.2,559.0 L193.1,558.8 L194.0,559.8 L194.9,559.9 L195.8,560.6 L196.7,560.7 L197.6,559.8 L198.5,559.4 L199.4,559.8 L200.3,559.6 L201.2,559.7 L202.1,559.8 L203.1,558.9 L204.0,560.0 L204.9,559.8 L205.8,559.1 L206.7,558.3 L207.6,558.0 L208.5,557.6 L209.4,557.1 L210.3,555.2 L211.2,556.2 L212.1,556.0 L213.0,555.8 L213.9,556.8 L214.9,555.5 L215.8,556.7 L216.7,556.3 L217.6,556.5 L218.5,556.3 L219.4,556.5 L220.3,556.3 L221.2,556.5 L222.1,556.2 L223.0,554.9 L223.9,557.1 L224.8,555.5 L225.8,556.7 L226.7,556.3 L227.6,557.3 L228.5,556.2 L229.4,556.1 L230.3,557.3 L231.2,556.5 L231.2,560.9 L230.3,562.0 L229.4,561.4 L228.5,561.8 L227.6,562.0 L226.7,561.6 L225.8,561.0 L224.8,560.8 L223.9,561.6 L223.0,561.7 L222.1,561.6 L221.2,561.5 L220.3,561.2 L219.4,561.2 L218.5,562.1 L217.6,561.0 L216.7,561.2 L215.8,560.9 L214.9,560.8 L213.9,561.5 L213.0,560.8 L212.1,561.7 L211.2,560.8 L210.3,560.6 L209.4,561.5 L208.5,561.9 L207.6,562.4 L206.7,563.1 L205.8,564.2 L204.9,565.0 L204.0,565.3 L203.1,564.2 L202.1,564.7 L201.2,564.7 L200.3,564.5 L199.4,564.8 L198.5,565.4 L197.6,565.5 L196.7,565.8 L195.8,565.1 L194.9,564.7 L194.0,564.0 L193.1,563.8 L192.2,564.4 L191.2,562.8 L190.3,562.7 L189.4,563.3 L188.5,562.6 L187.6,562.6 L186.7,563.1 L185.8,563.0 L184.9,562.5 L184.0,564.0 L183.1,563.5 L182.2,563.3 L181.3,563.8 L180.4,563.8 L179.4,563.8 L178.5,563.6 L177.6,563.6 L176.7,564.0 L175.8,563.6 L174.9,564.1 L174.0,563.7 L173.1,564.2 L172.2,563.7 L171.3,564.6 L170.4,564.6 L169.5,564.2 L168.5,565.6 L167.6,564.8 L166.7,564.1 L165.8,564.6 L164.9,564.3 L164.0,565.8 L163.1,565.7 L162.2,565.5 L161.3,565.8 L160.4,564.8 L159.5,564.7 L158.6,565.0 L157.7,564.5 L156.7,565.4 L155.8,565.0 L154.9,564.9 L154.0,564.5 L153.1,563.9 L152.2,565.6 L151.3,565.0 L150.4,564.3 L149.5,563.7 L148.6,564.2 L147.7,563.8 L146.8,563.9 L145.8,564.8 L144.9,564.5 L144.0,564.9 L143.1,564.5 L142.2,564.8 L141.3,564.9 L140.4,564.9 L139.5,564.6 L138.6,564.0 L137.7,564.7 L136.8,564.6 L135.9,564.1 L135.0,563.6 L134.0,563.3 L133.1,563.8 L132.2,563.8 L131.3,563.7 L130.4,562.4 L129.5,562.1 L128.6,561.7 L127.7,562.1 L126.8,560.9 L125.9,561.9 L125.0,561.7 L124.1,560.9 L123.1,560.9 L122.2,560.2 L121.3,559.9 L120.4,559.2 L119.5,558.9 L118.6,559.1 L117.7,557.8 L116.8,557.8 L115.9,557.7 L115.0,557.3 L114.1,557.0 L113.2,557.0 L112.3,557.1 L111.3,557.5 L110.4,556.4 L109.5,555.5 L108.6,555.6 L107.7,555.9 L106.8,554.4 L105.9,554.8 L105.0,554.8 L104.1,554.3 L103.2,554.3 L102.3,553.2 L101.4,553.3 L100.4,553.5 L99.5,552.7 L98.6,553.1 L97.7,551.5 L96.8,550.9 L95.9,549.8 L95.0,549.6 L94.1,547.9 L93.2,547.4 L92.3,546.6 L91.4,546.1 L90.5,545.2 L89.6,544.7 L88.6,543.4 L87.7,542.6 L86.8,541.7 L85.9,539.4 L85.0,539.7 L84.1,537.8 L83.2,537.4 L82.3,537.0 L81.4,534.1 L80.5,532.6 L79.6,531.9 L78.7,530.3 L77.7,529.1 L76.8,527.3 L75.9,525.7 L75.0,524.0 L74.1,522.2 L73.2,521.0 L72.3,518.4 L71.4,516.1 L70.5,514.8 L69.6,512.1 L68.7,509.1 L67.8,506.8 L66.9,504.7 L65.9,501.6 L65.0,498.5 L64.1,496.0 L63.2,493.5 L62.3,488.3 L61.4,484.3 L60.5,480.5 L59.6,474.7 L58.7,470.4 L57.8,465.4 L56.9,460.1 L56.0,454.8 L55.0,447.2 L54.1,441.8 L53.2,432.4 L52.3,424.7 L51.4,415.2 L50.5,405.1 L49.6,394.6Z" fill="#0000ff" fill-opacity="0.3" stroke="#0000ff" stroke-opacity="0.3" stroke-width="0.7"/>
<path d="M49.6,387.9 L50.5,399.2 L51.4,409.7 L52.3,419.1 L53.2,426.8 L54.1,434.9 L55.0,442.0 L56.0,448.9 L56.9,454.7 L57.8,460.5 L58.7,465.6 L59.6,470.1 L60.5,475.5 L61.4,479.6 L62.3,483.7 L63.2,488.5 L64.1,491.3 L65.0,494.2 L65.9,497.1 L66.9,500.4 L67.8,502.7 L68.7,505.2 L69.6,508.2 L70.5,510.0 L71.4,512.1 L72.3,514.6 L73.2,517.0 L74.1,518.1 L75.0,520.4 L75.9,522.2 L76.8,523.6 L77.7,525.4 L78.7,526.4 L79.6,528.0 L80.5,529.3 L81.4,530.9 L82.3,532.6 L83.2,533.7 L84.1,534.6 L85.0,536.2 L85.9,536.3 L86.8,538.4 L87.7,539.6 L88.6,540.0 L89.6,541.1 L90.5,542.2 L91.4,543.1 L92.3,543.7 L93.2,544.4 L94.1,545.2 L95.0,546.2 L95.9,546.7 L96.8,547.2 L97.7,547.9 L98.6,549.8 L99.5,549.6 L100.4,550.0 L101.4,550.3 L102.3,550.6 L103.2,550.7 L104.1,551.2 L105.0,551.8 L105.9,552.1 L106.8,551.9 L107.7,552.9 L108.6,552.9 L109.5,552.8 L110.4,553.4 L111.3,554.4 L112.3,553.9 L113.2,554.3 L114.1,554.5 L115.0,554.3 L115.9,554.7 L116.8,555.4 L117.7,555.4 L118.6,555.9 L119.5,556.3 L120.4,556.6 L121.3,556.9 L122.2,557.4 L123.1,557.8 L124.1,557.9 L125.0,558.5 L125.9,558.9 L126.8,558.4 L127.7,559.2 L128.6,559.4 L129.5,559.7 L130.4,559.9 L131.3,560.1 L132.2,560.3 L133.1,560.9 L134.0,560.6 L135.0,561.3 L135.9,561.0 L136.8,562.1 L137.7,562.1 L138.6,561.7 L139.5,562.2 L140.4,562.5 L141.3,562.1 L142.2,562.5 L143.1,562.1 L144.0,562.7 L144.9,562.1 L145.8,562.1 L146.8,561.7 L147.7,561.5 L148.6,561.9 L149.5,561.1 L150.4,561.9 L151.3,562.4 L152.2,562.6 L153.1,561.5 L154.0,562.1 L154.9,562.3 L155.8,562.5 L156.7,562.6 L157.7,561.9 L158.6,562.5 L159.5,562.0 L160.4,562.7 L161.3,563.4 L162.2,562.5 L163.1,562.8 L164.0,562.7 L164.9,562.0 L165.8,562.5 L166.7,562.0 L167.6,562.3 L168.5,562.4 L169.5,561.9 L170.4,562.2 L171.3,561.5 L172.2,561.5 L173.1,561.7 L174.0,561.4 L174.9,561.3 L175.8,561.5 L176.7,561.0 L177.6,561.3 L178.5,560.9 L179.4,561.3 L180.4,560.9 L181.3,560.8 L182.2,561.1 L183.1,560.9 L184.0,560.9 L184.9,560.4 L185.8,560.8 L186.7,560.4 L187.6,560.0 L188.5,560.3 L189.4,560.9 L190.3,560.3 L191.2,560.4 L192.2,561.3 L193.1,561.3 L194.0,561.9 L194.9,562.4 L195.8,562.8 L196.7,562.8 L197.6,562.6 L198.5,562.4 L199.4,562.1 L200.3,562.0 L201.2,562.2 L202.1,561.9 L203.1,561.7 L204.0,562.3 L204.9,561.9 L205.8,561.6 L206.7,560.8 L207.6,560.3 L208.5,559.7 L209.4,559.3 L210.3,558.2 L211.2,558.3 L212.1,559.0 L213.0,558.5 L213.9,558.9 L214.9,558.1 L215.8,558.8 L216.7,558.8 L217.6,558.7 L218.5,558.8 L219.4,558.8 L220.3,558.4 L221.2,558.8 L222.1,558.7 L223.0,558.6 L223.9,559.3 L224.8,558.5 L225.8,558.9 L226.7,558.8 L227.6,559.5 L228.5,559.0 L229.4,559.1 L230.3,559.5 L231.2,558.6" fill="none" stroke="#0000ff" stroke-width="1.6" stroke-linejoin="round"/>
<path d="M49.6,382.2 L50.5,400.4 L51.4,406.7 L52.3,412.8 L53.2,418.5 L54.1,422.7 L55.0,427.2 L56.0,432.2 L56.9,434.7 L57.8,441.0 L58.7,444.1 L59.6,447.4 L60.5,451.7 L61.4,455.8 L62.3,458.3 L63.2,462.0 L64.1,463.9 L65.0,468.4 L65.9,470.1 L66.9,474.3 L67.8,476.3 L68.7,479.9 L69.6,481.7 L70.5,484.1 L71.4,487.2 L72.3,489.1 L73.2,491.4 L74.1,493.0 L75.0,496.0 L75.9,497.6 L76.8,498.9 L77.7,501.0 L78.7,502.5 L79.6,503.3 L80.5,505.9 L81.4,508.1 L82.3,508.7 L83.2,509.8 L84.1,511.8 L85.0,513.2 L85.9,516.1 L86.8,516.0 L87.7,517.1 L88.6,520.0 L89.6,519.9 L90.5,523.2 L91.4,524.0 L92.3,523.2 L93.2,526.0 L94.1,528.0 L95.0,528.9 L95.9,530.0 L96.8,530.3 L97.7,531.2 L98.6,532.4 L99.5,532.0 L100.4,532.6 L101.4,533.1 L102.3,532.8 L103.2,532.6 L104.1,533.8 L105.0,534.7 L105.9,534.1 L106.8,533.6 L107.7,534.7 L108.6,536.0 L109.5,535.1 L110.4,537.2 L111.3,538.2 L112.3,538.9 L113.2,540.0 L114.1,540.3 L115.0,541.3 L115.9,540.6 L116.8,541.8 L117.7,542.5 L118.6,542.6 L119.5,542.2 L120.4,543.8 L121.3,543.3 L122.2,543.2 L123.1,545.0 L124.1,543.9 L125.0,543.6 L125.9,544.7 L126.8,544.8 L127.7,545.5 L128.6,546.6 L129.5,547.1 L130.4,547.4 L131.3,547.9 L132.2,548.4 L133.1,548.2 L134.0,549.0 L135.0,549.6 L135.9,549.8 L136.8,549.9 L137.7,550.6 L138.6,550.9 L139.5,552.2 L140.4,551.8 L141.3,550.9 L142.2,550.0 L143.1,549.6 L144.0,549.9 L144.9,550.1 L145.8,549.1 L146.8,548.4 L147.7,549.5 L148.6,548.2 L149.5,548.2 L150.4,548.2 L151.3,548.9 L152.2,548.5 L153.1,549.7 L154.0,548.3 L154.9,549.5 L155.8,550.6 L156.7,550.0 L157.7,550.1 L158.6,550.8 L159.5,550.2 L160.4,551.9 L161.3,550.7 L162.2,550.2 L163.1,551.9 L164.0,551.3 L164.9,551.7 L165.8,552.9 L166.7,552.8 L167.6,553.3 L168.5,553.3 L169.5,552.7 L170.4,552.4 L171.3,551.0 L172.2,550.5 L173.1,551.2 L174.0,551.2 L174.9,551.2 L175.8,550.7 L176.7,550.5 L177.6,549.9 L178.5,551.6 L179.4,552.1 L180.4,551.7 L181.3,551.8 L182.2,551.9 L183.1,552.3 L184.0,552.4 L184.9,550.7 L185.8,551.7 L186.7,552.3 L187.6,551.1 L188.5,552.1 L189.4,551.8 L190.3,552.6 L191.2,552.8 L192.2,552.1 L193.1,553.3 L194.0,551.4 L194.9,552.4 L195.8,551.8 L196.7,552.5 L197.6,552.8 L198.5,552.6 L199.4,551.9 L200.3,552.9 L201.2,553.3 L202.1,552.1 L203.1,552.1 L204.0,552.7 L204.9,553.4 L205.8,553.3 L206.7,553.7 L207.6,553.6 L208.5,554.0 L209.4,553.9 L210.3,553.2 L211.2,552.8 L212.1,553.3 L213.0,551.5 L213.9,551.6 L214.9,551.5 L215.8,551.8 L216.7,551.9 L217.6,551.8 L218.5,551.5 L219.4,551.3 L220.3,551.5 L221.2,552.5 L222.1,551.5 L223.0,550.8 L223.9,551.9 L224.8,551.2 L225.8,551.1 L226.7,549.8 L227.6,550.4 L228.5,551.2 L229.4,550.9 L230.3,552.1 L231.2,551.4 L231.2,557.7 L230.3,558.4 L229.4,556.2 L228.5,556.7 L227.6,556.7 L226.7,556.5 L225.8,556.9 L224.8,556.7 L223.9,557.2 L223.0,557.4 L222.1,557.1 L221.2,557.8 L220.3,557.9 L219.4,557.6 L218.5,558.3 L217.6,558.2 L216.7,557.8 L215.8,557.9 L214.9,558.1 L213.9,557.6 L213.0,558.0 L212.1,558.6 L211.2,559.0 L210.3,559.4 L209.4,559.6 L208.5,560.6 L207.6,559.8 L206.7,559.6 L205.8,558.5 L204.9,559.4 L204.0,558.5 L203.1,559.4 L202.1,558.1 L201.2,559.1 L200.3,559.1 L199.4,559.0 L198.5,558.5 L197.6,559.0 L196.7,558.6 L195.8,558.2 L194.9,557.8 L194.0,558.0 L193.1,558.4 L192.2,558.5 L191.2,558.9 L190.3,559.3 L189.4,558.3 L188.5,558.7 L187.6,557.6 L186.7,558.4 L185.8,557.4 L184.9,557.4 L184.0,558.9 L183.1,558.9 L182.2,557.8 L181.3,557.9 L180.4,557.9 L179.4,557.3 L178.5,557.5 L177.6,557.5 L176.7,556.7 L175.8,557.0 L174.9,557.1 L174.0,556.9 L173.1,556.9 L172.2,556.4 L171.3,558.0 L170.4,559.2 L169.5,560.2 L168.5,559.7 L167.6,558.9 L166.7,559.6 L165.8,560.5 L164.9,558.6 L164.0,558.1 L163.1,559.1 L162.2,557.3 L161.3,557.2 L160.4,557.5 L159.5,555.8 L158.6,556.7 L157.7,555.9 L156.7,555.3 L155.8,556.2 L154.9,555.3 L154.0,555.8 L153.1,556.1 L152.2,554.4 L151.3,555.0 L150.4,553.9 L149.5,554.6 L148.6,554.1 L147.7,555.8 L146.8,554.7 L145.8,555.4 L144.9,556.7 L144.0,556.9 L143.1,556.3 L142.2,555.9 L141.3,556.4 L140.4,558.4 L139.5,557.8 L138.6,556.8 L137.7,557.7 L136.8,555.8 L135.9,555.7 L135.0,556.5 L134.0,554.9 L133.1,555.0 L132.2,554.6 L131.3,553.6 L130.4,553.1 L129.5,553.4 L128.6,553.3 L127.7,552.2 L126.8,551.6 L125.9,551.4 L125.0,550.3 L124.1,551.1 L123.1,551.6 L122.2,550.7 L121.3,550.5 L120.4,549.9 L119.5,548.9 L118.6,548.9 L117.7,549.3 L116.8,548.1 L115.9,547.6 L115.0,547.6 L114.1,546.6 L113.2,545.9 L112.3,544.9 L111.3,545.0 L110.4,544.5 L109.5,541.9 L108.6,542.0 L107.7,541.6 L106.8,541.3 L105.9,540.5 L105.0,541.1 L104.1,540.1 L103.2,540.1 L102.3,539.8 L101.4,540.9 L100.4,540.0 L99.5,538.8 L98.6,538.8 L97.7,539.6 L96.8,537.5 L95.9,537.3 L95.0,536.3 L94.1,534.5 L93.2,534.5 L92.3,533.0 L91.4,531.6 L90.5,531.0 L89.6,528.9 L88.6,527.6 L87.7,525.5 L86.8,524.9 L85.9,523.4 L85.0,521.0 L84.1,520.4 L83.2,518.0 L82.3,517.7 L81.4,516.2 L80.5,513.7 L79.6,513.2 L78.7,511.1 L77.7,509.0 L76.8,507.9 L75.9,505.6 L75.0,504.0 L74.1,501.8 L73.2,500.2 L72.3,498.5 L71.4,496.6 L70.5,493.4 L69.6,491.3 L68.7,489.7 L67.8,485.7 L66.9,484.1 L65.9,480.5 L65.0,479.1 L64.1,474.5 L63.2,471.8 L62.3,468.4 L61.4,465.8 L60.5,462.4 L59.6,459.2 L58.7,454.6 L57.8,452.6 L56.9,447.1 L56.0,443.1 L55.0,439.3 L54.1,435.2 L53.2,431.6 L52.3,424.9 L51.4,419.9 L50.5,413.3 L49.6,395.9Z" fill="#ff0000" fill-opacity="0.3" stroke="#ff0000" stroke-opacity="0.3" stroke-width="0.7"/>
<path d="M49.6,388.4 L50.5,407.2 L51.4,413.7 L52.3,418.9 L53.2,424.6 L54.1,429.0 L55.0,433.2 L56.0,437.6 L56.9,441.4 L57.8,446.3 L58.7,449.2 L59.6,452.9 L60.5,456.9 L61.4,460.8 L62.3,463.6 L63.2,467.1 L64.1,469.8 L65.0,473.0 L65.9,475.6 L66.9,478.9 L67.8,480.9 L68.7,484.9 L69.6,487.0 L70.5,488.9 L71.4,491.9 L72.3,493.3 L73.2,496.1 L74.1,497.6 L75.0,499.9 L75.9,501.6 L76.8,503.1 L77.7,504.8 L78.7,506.5 L79.6,507.3 L80.5,509.8 L81.4,511.8 L82.3,512.7 L83.2,514.4 L84.1,515.8 L85.0,517.1 L85.9,519.5 L86.8,520.3 L87.7,521.7 L88.6,523.5 L89.6,524.7 L90.5,527.2 L91.4,527.6 L92.3,528.0 L93.2,530.5 L94.1,531.3 L95.0,532.2 L95.9,533.2 L96.8,534.0 L97.7,535.8 L98.6,535.6 L99.5,535.7 L100.4,536.8 L101.4,536.6 L102.3,536.1 L103.2,536.5 L104.1,536.9 L105.0,538.1 L105.9,537.3 L106.8,537.2 L107.7,538.3 L108.6,539.0 L109.5,538.7 L110.4,540.7 L111.3,541.7 L112.3,542.0 L113.2,542.9 L114.1,543.6 L115.0,544.2 L115.9,544.5 L116.8,545.1 L117.7,546.0 L118.6,546.0 L119.5,546.1 L120.4,546.8 L121.3,546.6 L122.2,547.0 L123.1,548.0 L124.1,547.8 L125.0,547.5 L125.9,547.9 L126.8,548.8 L127.7,548.8 L128.6,549.9 L129.5,550.6 L130.4,550.3 L131.3,550.8 L132.2,551.2 L133.1,551.8 L134.0,552.1 L135.0,552.8 L135.9,552.8 L136.8,553.1 L137.7,553.8 L138.6,553.8 L139.5,555.1 L140.4,554.9 L141.3,553.7 L142.2,553.3 L143.1,553.5 L144.0,553.3 L144.9,553.4 L145.8,552.4 L146.8,551.9 L147.7,552.4 L148.6,551.3 L149.5,551.0 L150.4,550.9 L151.3,551.8 L152.2,551.5 L153.1,552.5 L154.0,551.7 L154.9,552.5 L155.8,553.2 L156.7,552.6 L157.7,553.0 L158.6,553.9 L159.5,553.1 L160.4,554.6 L161.3,554.3 L162.2,554.3 L163.1,555.8 L164.0,554.9 L164.9,555.5 L165.8,555.8 L166.7,556.4 L167.6,556.1 L168.5,556.9 L169.5,556.5 L170.4,555.6 L171.3,555.2 L172.2,553.5 L173.1,554.2 L174.0,554.1 L174.9,554.1 L175.8,554.1 L176.7,553.9 L177.6,554.0 L178.5,554.5 L179.4,554.7 L180.4,554.7 L181.3,554.5 L182.2,554.6 L183.1,555.1 L184.0,555.7 L184.9,554.2 L185.8,554.7 L186.7,555.0 L187.6,555.0 L188.5,555.4 L189.4,555.6 L190.3,555.4 L191.2,555.4 L192.2,555.5 L193.1,555.8 L194.0,555.4 L194.9,555.1 L195.8,555.5 L196.7,555.3 L197.6,556.1 L198.5,555.4 L199.4,555.3 L200.3,555.8 L201.2,556.1 L202.1,555.4 L203.1,556.0 L204.0,555.7 L204.9,556.2 L205.8,555.9 L206.7,556.4 L207.6,557.0 L208.5,556.6 L209.4,556.6 L210.3,556.0 L211.2,556.2 L212.1,555.9 L213.0,555.1 L213.9,554.8 L214.9,554.7 L215.8,554.5 L216.7,554.7 L217.6,554.7 L218.5,554.7 L219.4,555.0 L220.3,555.2 L221.2,555.2 L222.1,554.2 L223.0,554.7 L223.9,554.4 L224.8,554.1 L225.8,553.6 L226.7,553.2 L227.6,553.3 L228.5,553.9 L229.4,553.6 L230.3,554.8 L231.2,554.7" fill="none" stroke="#ff0000" stroke-width="1.6" stroke-linejoin="round"/>
</g>
<rect x="40.5" y="372.4" width="199.8" height="202.2" fill="none" stroke="#1e1e1e" stroke-width="1.3"/>
<defs><clipPath id="cB2"><rect x="316.5" y="372.3" width="199.9" height="202.2"/></clipPath></defs>
<g clip-path="url(#cB2)">
<path d="M325.6,381.2 L326.5,381.6 L327.4,381.5 L328.3,381.6 L329.2,381.7 L330.1,381.7 L331.1,381.8 L332.0,382.0 L332.9,381.8 L333.8,381.9 L334.7,381.6 L335.6,381.9 L336.5,381.9 L337.4,381.9 L338.3,381.9 L339.2,381.8 L340.1,381.7 L341.0,381.7 L342.0,381.7 L342.9,381.8 L343.8,381.7 L344.7,381.8 L345.6,381.5 L346.5,381.9 L347.4,381.7 L348.3,381.7 L349.2,381.7 L350.1,381.9 L351.0,381.7 L351.9,381.8 L352.9,381.9 L353.8,382.0 L354.7,381.8 L355.6,381.9 L356.5,381.8 L357.4,381.8 L358.3,381.6 L359.2,381.8 L360.1,381.9 L361.0,381.9 L361.9,381.9 L362.8,381.8 L363.8,381.6 L364.7,381.6 L365.6,381.7 L366.5,381.9 L367.4,381.7 L368.3,381.5 L369.2,382.0 L370.1,381.6 L371.0,381.7 L371.9,382.0 L372.8,382.0 L373.8,381.9 L374.7,381.7 L375.6,381.9 L376.5,381.8 L377.4,381.8 L378.3,381.6 L379.2,381.8 L380.1,381.9 L381.0,381.7 L381.9,381.8 L382.8,381.5 L383.7,381.7 L384.7,381.9 L385.6,381.7 L386.5,381.8 L387.4,382.0 L388.3,381.9 L389.2,382.0 L390.1,381.9 L391.0,381.7 L391.9,381.9 L392.8,381.8 L393.7,381.9 L394.6,381.6 L395.6,381.8 L396.5,381.9 L397.4,381.9 L398.3,381.9 L399.2,381.8 L400.1,381.7 L401.0,381.7 L401.9,381.7 L402.8,381.9 L403.7,381.8 L404.6,381.7 L405.5,381.9 L406.5,381.8 L407.4,381.7 L408.3,381.7 L409.2,382.1 L410.1,381.9 L411.0,381.8 L411.9,382.1 L412.8,381.8 L413.7,381.7 L414.6,381.9 L415.5,382.0 L416.5,381.7 L417.4,381.7 L418.3,381.8 L419.2,381.7 L420.1,381.6 L421.0,382.0 L421.9,381.4 L422.8,382.0 L423.7,381.8 L424.6,381.9 L425.5,381.8 L426.4,381.8 L427.4,381.9 L428.3,381.7 L429.2,381.8 L430.1,381.7 L431.0,381.6 L431.9,381.8 L432.8,381.7 L433.7,381.8 L434.6,381.7 L435.5,381.8 L436.4,381.9 L437.3,381.8 L438.3,381.9 L439.2,381.9 L440.1,381.6 L441.0,381.8 L441.9,381.9 L442.8,381.9 L443.7,381.8 L444.6,381.9 L445.5,381.8 L446.4,381.8 L447.3,381.9 L448.2,381.8 L449.2,382.0 L450.1,382.1 L451.0,381.7 L451.9,381.9 L452.8,381.9 L453.7,381.7 L454.6,381.7 L455.5,381.9 L456.4,381.8 L457.3,381.9 L458.2,381.9 L459.1,382.1 L460.1,381.7 L461.0,381.8 L461.9,381.7 L462.8,381.5 L463.7,381.8 L464.6,381.8 L465.5,381.9 L466.4,381.8 L467.3,381.9 L468.2,381.9 L469.1,381.6 L470.1,382.0 L471.0,381.8 L471.9,381.7 L472.8,381.8 L473.7,382.0 L474.6,381.8 L475.5,381.9 L476.4,381.9 L477.3,381.8 L478.2,381.8 L479.1,381.8 L480.0,381.8 L481.0,382.0 L481.9,381.7 L482.8,381.8 L483.7,381.8 L484.6,381.8 L485.5,381.7 L486.4,382.0 L487.3,381.9 L488.2,381.9 L489.1,381.9 L490.0,381.8 L490.9,381.6 L491.9,381.9 L492.8,381.7 L493.7,382.0 L494.6,382.1 L495.5,382.0 L496.4,381.8 L497.3,382.0 L498.2,382.1 L499.1,381.8 L500.0,382.0 L500.9,382.0 L501.8,381.5 L502.8,381.8 L503.7,381.8 L504.6,381.8 L505.5,381.9 L506.4,381.6 L507.3,382.0 L507.3,383.0 L506.4,382.7 L505.5,382.9 L504.6,382.8 L503.7,382.9 L502.8,382.8 L501.8,382.6 L500.9,383.0 L500.0,382.9 L499.1,382.8 L498.2,383.1 L497.3,382.9 L496.4,383.1 L495.5,382.9 L494.6,383.0 L493.7,383.0 L492.8,383.0 L491.9,383.0 L490.9,382.7 L490.0,382.8 L489.1,382.9 L488.2,382.9 L487.3,382.9 L486.4,383.0 L485.5,383.0 L484.6,382.8 L483.7,382.8 L482.8,383.0 L481.9,382.8 L481.0,382.9 L480.0,382.7 L479.1,383.1 L478.2,382.8 L477.3,382.9 L476.4,383.0 L475.5,382.8 L474.6,383.0 L473.7,383.0 L472.8,382.9 L471.9,382.8 L471.0,382.7 L470.1,383.0 L469.1,382.6 L468.2,382.9 L467.3,382.8 L466.4,382.8 L465.5,382.9 L464.6,382.8 L463.7,382.7 L462.8,382.6 L461.9,382.7 L461.0,382.8 L460.1,382.7 L459.1,383.1 L458.2,383.2 L457.3,383.1 L456.4,382.7 L455.5,383.1 L454.6,382.7 L453.7,383.0 L452.8,383.0 L451.9,383.0 L451.0,382.8 L450.1,383.2 L449.2,383.0 L448.2,382.8 L447.3,383.0 L446.4,382.9 L445.5,382.9 L444.6,382.9 L443.7,382.9 L442.8,383.1 L441.9,382.9 L441.0,382.8 L440.1,382.7 L439.2,382.9 L438.3,382.9 L437.3,382.8 L436.4,382.8 L435.5,382.8 L434.6,382.8 L433.7,382.8 L432.8,382.8 L431.9,382.9 L431.0,382.8 L430.1,382.8 L429.2,382.9 L428.3,382.7 L427.4,382.8 L426.4,382.9 L425.5,382.8 L424.6,382.9 L423.7,382.8 L422.8,383.1 L421.9,382.5 L421.0,382.9 L420.1,382.7 L419.2,382.6 L418.3,382.8 L417.4,382.7 L416.5,382.6 L415.5,382.9 L414.6,383.0 L413.7,382.8 L412.8,382.9 L411.9,383.1 L411.0,382.9 L410.1,382.9 L409.2,383.1 L408.3,382.8 L407.4,382.7 L406.5,382.8 L405.5,382.8 L404.6,382.8 L403.7,382.8 L402.8,383.0 L401.9,382.8 L401.0,382.8 L400.1,382.8 L399.2,382.8 L398.3,382.9 L397.4,383.0 L396.5,383.0 L395.6,382.8 L394.6,382.6 L393.7,383.0 L392.8,382.8 L391.9,383.1 L391.0,382.7 L390.1,382.9 L389.2,383.1 L388.3,382.8 L387.4,383.1 L386.5,382.9 L385.6,382.8 L384.7,382.9 L383.7,382.9 L382.8,382.7 L381.9,382.9 L381.0,382.7 L380.1,382.9 L379.2,382.8 L378.3,382.8 L377.4,382.7 L376.5,382.8 L375.6,382.8 L374.7,382.8 L373.8,383.0 L372.8,383.0 L371.9,383.0 L371.0,382.8 L370.1,382.7 L369.2,382.9 L368.3,382.7 L367.4,382.8 L366.5,382.9 L365.6,382.7 L364.7,382.9 L363.8,382.8 L362.8,382.7 L361.9,382.9 L361.0,382.9 L360.1,382.9 L359.2,382.9 L358.3,382.6 L357.4,382.9 L356.5,382.7 L355.6,383.0 L354.7,383.0 L353.8,383.1 L352.9,382.9 L351.9,382.7 L351.0,382.8 L350.1,383.0 L349.2,382.7 L348.3,382.9 L347.4,382.9 L346.5,383.1 L345.6,382.7 L344.7,382.8 L343.8,382.8 L342.9,382.7 L342.0,382.8 L341.0,382.7 L340.1,382.7 L339.2,382.8 L338.3,382.9 L337.4,382.9 L336.5,382.8 L335.6,383.0 L334.7,382.8 L333.8,382.9 L332.9,382.8 L332.0,383.0 L331.1,382.7 L330.1,382.8 L329.2,382.8 L328.3,382.6 L327.4,382.6 L326.5,382.6 L325.6,382.3Z" fill="#008000" fill-opacity="0.3" stroke="#008000" stroke-opacity="0.3" stroke-width="0.7"/>
<path d="M325.6,381.8 L326.5,382.0 L327.4,382.1 L328.3,382.2 L329.2,382.3 L330.1,382.2 L331.1,382.3 L332.0,382.5 L332.9,382.4 L333.8,382.4 L334.7,382.3 L335.6,382.4 L336.5,382.4 L337.4,382.4 L338.3,382.3 L339.2,382.3 L340.1,382.2 L341.0,382.2 L342.0,382.3 L342.9,382.3 L343.8,382.3 L344.7,382.3 L345.6,382.2 L346.5,382.6 L347.4,382.3 L348.3,382.3 L349.2,382.2 L350.1,382.4 L351.0,382.3 L351.9,382.2 L352.9,382.4 L353.8,382.5 L354.7,382.4 L355.6,382.5 L356.5,382.3 L357.4,382.4 L358.3,382.1 L359.2,382.3 L360.1,382.4 L361.0,382.4 L361.9,382.4 L362.8,382.3 L363.8,382.2 L364.7,382.3 L365.6,382.2 L366.5,382.4 L367.4,382.3 L368.3,382.1 L369.2,382.5 L370.1,382.2 L371.0,382.2 L371.9,382.5 L372.8,382.5 L373.8,382.4 L374.7,382.2 L375.6,382.4 L376.5,382.3 L377.4,382.2 L378.3,382.3 L379.2,382.3 L380.1,382.4 L381.0,382.2 L381.9,382.4 L382.8,382.1 L383.7,382.4 L384.7,382.4 L385.6,382.3 L386.5,382.3 L387.4,382.5 L388.3,382.3 L389.2,382.5 L390.1,382.4 L391.0,382.2 L391.9,382.4 L392.8,382.3 L393.7,382.4 L394.6,382.1 L395.6,382.3 L396.5,382.5 L397.4,382.4 L398.3,382.4 L399.2,382.3 L400.1,382.3 L401.0,382.2 L401.9,382.3 L402.8,382.3 L403.7,382.3 L404.6,382.3 L405.5,382.3 L406.5,382.2 L407.4,382.2 L408.3,382.4 L409.2,382.5 L410.1,382.4 L411.0,382.3 L411.9,382.6 L412.8,382.4 L413.7,382.3 L414.6,382.4 L415.5,382.4 L416.5,382.1 L417.4,382.2 L418.3,382.4 L419.2,382.2 L420.1,382.2 L421.0,382.4 L421.9,382.0 L422.8,382.4 L423.7,382.4 L424.6,382.4 L425.5,382.3 L426.4,382.5 L427.4,382.3 L428.3,382.2 L429.2,382.3 L430.1,382.4 L431.0,382.2 L431.9,382.4 L432.8,382.2 L433.7,382.4 L434.6,382.3 L435.5,382.3 L436.4,382.3 L437.3,382.3 L438.3,382.4 L439.2,382.4 L440.1,382.3 L441.0,382.3 L441.9,382.5 L442.8,382.4 L443.7,382.4 L444.6,382.3 L445.5,382.3 L446.4,382.3 L447.3,382.4 L448.2,382.3 L449.2,382.5 L450.1,382.6 L451.0,382.3 L451.9,382.5 L452.8,382.4 L453.7,382.5 L454.6,382.3 L455.5,382.5 L456.4,382.3 L457.3,382.4 L458.2,382.5 L459.1,382.5 L460.1,382.3 L461.0,382.3 L461.9,382.2 L462.8,382.1 L463.7,382.3 L464.6,382.3 L465.5,382.3 L466.4,382.3 L467.3,382.4 L468.2,382.4 L469.1,382.1 L470.1,382.5 L471.0,382.3 L471.9,382.3 L472.8,382.3 L473.7,382.4 L474.6,382.4 L475.5,382.4 L476.4,382.4 L477.3,382.3 L478.2,382.4 L479.1,382.4 L480.0,382.3 L481.0,382.4 L481.9,382.3 L482.8,382.4 L483.7,382.3 L484.6,382.3 L485.5,382.3 L486.4,382.4 L487.3,382.4 L488.2,382.4 L489.1,382.3 L490.0,382.3 L490.9,382.2 L491.9,382.4 L492.8,382.3 L493.7,382.5 L494.6,382.6 L495.5,382.4 L496.4,382.4 L497.3,382.5 L498.2,382.5 L499.1,382.3 L500.0,382.4 L500.9,382.5 L501.8,382.1 L502.8,382.3 L503.7,382.4 L504.6,382.3 L505.5,382.4 L506.4,382.2 L507.3,382.5" fill="none" stroke="#008000" stroke-width="1.6" stroke-linejoin="round"/>
<path d="M325.6,381.8 L326.5,389.4 L327.4,403.8 L328.3,405.3 L329.2,406.2 L330.1,406.2 L331.1,402.4 L332.0,397.7 L332.9,403.8 L333.8,403.2 L334.7,406.8 L335.6,402.6 L336.5,400.5 L337.4,401.0 L338.3,401.8 L339.2,408.0 L340.1,409.7 L341.0,406.3 L342.0,411.2 L342.9,411.7 L343.8,406.2 L344.7,412.7 L345.6,404.5 L346.5,414.7 L347.4,408.6 L348.3,411.6 L349.2,408.9 L350.1,411.3 L351.0,409.2 L351.9,407.4 L352.9,409.5 L353.8,407.1 L354.7,403.0 L355.6,409.6 L356.5,404.9 L357.4,406.4 L358.3,407.6 L359.2,399.3 L360.1,413.0 L361.0,408.4 L361.9,412.1 L362.8,407.9 L363.8,407.4 L364.7,393.5 L365.6,404.4 L366.5,401.8 L367.4,400.7 L368.3,408.9 L369.2,405.7 L370.1,401.3 L371.0,407.4 L371.9,407.2 L372.8,407.1 L373.8,413.9 L374.7,411.2 L375.6,406.2 L376.5,406.4 L377.4,411.2 L378.3,406.9 L379.2,407.0 L380.1,406.9 L381.0,403.7 L381.9,404.6 L382.8,404.7 L383.7,407.0 L384.7,407.5 L385.6,402.6 L386.5,407.9 L387.4,398.0 L388.3,402.0 L389.2,405.2 L390.1,401.3 L391.0,406.5 L391.9,409.1 L392.8,409.5 L393.7,408.4 L394.6,398.9 L395.6,414.8 L396.5,408.5 L397.4,409.6 L398.3,402.7 L399.2,410.3 L400.1,415.2 L401.0,403.9 L401.9,412.4 L402.8,407.0 L403.7,412.4 L404.6,411.0 L405.5,408.9 L406.5,406.2 L407.4,403.2 L408.3,410.7 L409.2,406.2 L410.1,410.5 L411.0,409.5 L411.9,407.2 L412.8,406.3 L413.7,409.9 L414.6,410.6 L415.5,409.5 L416.5,409.9 L417.4,411.4 L418.3,402.2 L419.2,410.0 L420.1,406.9 L421.0,407.4 L421.9,404.4 L422.8,415.1 L423.7,400.2 L424.6,407.5 L425.5,410.4 L426.4,402.9 L427.4,399.7 L428.3,402.9 L429.2,408.8 L430.1,407.1 L431.0,401.0 L431.9,410.5 L432.8,406.2 L433.7,407.4 L434.6,400.5 L435.5,408.2 L436.4,403.1 L437.3,410.7 L438.3,411.5 L439.2,403.1 L440.1,405.9 L441.0,413.5 L441.9,405.6 L442.8,405.4 L443.7,408.3 L444.6,404.9 L445.5,404.0 L446.4,406.1 L447.3,407.3 L448.2,408.9 L449.2,406.1 L450.1,411.7 L451.0,408.3 L451.9,412.3 L452.8,408.4 L453.7,409.0 L454.6,410.5 L455.5,406.0 L456.4,402.2 L457.3,404.7 L458.2,413.0 L459.1,406.2 L460.1,408.5 L461.0,408.2 L461.9,407.9 L462.8,405.9 L463.7,402.8 L464.6,404.9 L465.5,407.7 L466.4,407.4 L467.3,409.8 L468.2,408.8 L469.1,402.6 L470.1,411.3 L471.0,409.4 L471.9,410.6 L472.8,409.9 L473.7,407.0 L474.6,405.1 L475.5,409.4 L476.4,409.7 L477.3,403.1 L478.2,403.6 L479.1,406.4 L480.0,407.5 L481.0,405.4 L481.9,404.7 L482.8,410.0 L483.7,409.1 L484.6,407.2 L485.5,403.5 L486.4,409.1 L487.3,402.0 L488.2,404.6 L489.1,408.2 L490.0,405.5 L490.9,406.0 L491.9,403.0 L492.8,402.3 L493.7,409.1 L494.6,408.1 L495.5,402.2 L496.4,402.8 L497.3,403.0 L498.2,405.6 L499.1,402.8 L500.0,410.1 L500.9,402.5 L501.8,409.3 L502.8,403.1 L503.7,400.7 L504.6,410.3 L505.5,404.7 L506.4,408.4 L507.3,409.3 L507.3,424.1 L506.4,422.7 L505.5,419.0 L504.6,426.2 L503.7,416.1 L502.8,419.2 L501.8,423.4 L500.9,417.8 L500.0,425.5 L499.1,420.2 L498.2,423.0 L497.3,420.3 L496.4,421.6 L495.5,417.2 L494.6,424.2 L493.7,422.2 L492.8,416.8 L491.9,416.8 L490.9,422.1 L490.0,420.0 L489.1,422.5 L488.2,419.6 L487.3,418.9 L486.4,424.7 L485.5,418.3 L484.6,422.5 L483.7,426.0 L482.8,425.3 L481.9,420.5 L481.0,424.1 L480.0,423.8 L479.1,422.0 L478.2,421.1 L477.3,418.6 L476.4,424.2 L475.5,426.2 L474.6,420.4 L473.7,421.7 L472.8,424.7 L471.9,424.0 L471.0,424.8 L470.1,428.7 L469.1,419.3 L468.2,422.9 L467.3,423.9 L466.4,422.8 L465.5,422.8 L464.6,420.9 L463.7,416.5 L462.8,422.6 L461.9,425.5 L461.0,425.5 L460.1,422.9 L459.1,421.3 L458.2,430.0 L457.3,419.8 L456.4,417.7 L455.5,423.1 L454.6,427.0 L453.7,423.8 L452.8,422.8 L451.9,428.1 L451.0,423.5 L450.1,425.6 L449.2,422.7 L448.2,424.3 L447.3,423.4 L446.4,422.4 L445.5,418.9 L444.6,421.0 L443.7,422.9 L442.8,421.1 L441.9,419.6 L441.0,428.7 L440.1,421.3 L439.2,420.7 L438.3,425.1 L437.3,424.8 L436.4,418.2 L435.5,422.9 L434.6,415.8 L433.7,422.8 L432.8,422.7 L431.9,424.4 L431.0,417.3 L430.1,422.6 L429.2,426.0 L428.3,419.4 L427.4,416.0 L426.4,420.3 L425.5,425.3 L424.6,422.5 L423.7,416.1 L422.8,429.2 L421.9,420.9 L421.0,422.1 L420.1,422.1 L419.2,425.9 L418.3,420.6 L417.4,426.7 L416.5,425.7 L415.5,425.7 L414.6,424.5 L413.7,426.9 L412.8,421.9 L411.9,423.1 L411.0,425.5 L410.1,424.6 L409.2,421.6 L408.3,424.8 L407.4,420.9 L406.5,422.1 L405.5,425.3 L404.6,425.9 L403.7,428.5 L402.8,422.8 L401.9,427.7 L401.0,420.8 L400.1,431.9 L399.2,423.8 L398.3,420.3 L397.4,423.3 L396.5,422.4 L395.6,429.9 L394.6,413.8 L393.7,421.9 L392.8,424.2 L391.9,422.6 L391.0,421.2 L390.1,417.7 L389.2,420.2 L388.3,418.7 L387.4,418.6 L386.5,422.3 L385.6,417.3 L384.7,422.7 L383.7,424.7 L382.8,419.2 L381.9,420.4 L381.0,417.9 L380.1,422.0 L379.2,423.6 L378.3,424.0 L377.4,425.6 L376.5,420.4 L375.6,424.6 L374.7,427.7 L373.8,428.9 L372.8,421.5 L371.9,422.0 L371.0,423.8 L370.1,417.5 L369.2,421.1 L368.3,422.9 L367.4,417.9 L366.5,415.1 L365.6,421.6 L364.7,408.5 L363.8,422.1 L362.8,424.0 L361.9,426.9 L361.0,423.2 L360.1,429.3 L359.2,414.8 L358.3,422.0 L357.4,421.3 L356.5,420.4 L355.6,424.9 L354.7,418.9 L353.8,422.4 L352.9,424.3 L351.9,424.1 L351.0,422.7 L350.1,427.1 L349.2,426.4 L348.3,429.0 L347.4,422.4 L346.5,431.3 L345.6,418.1 L344.7,426.3 L343.8,421.9 L342.9,426.9 L342.0,426.9 L341.0,421.2 L340.1,423.8 L339.2,423.1 L338.3,418.8 L337.4,415.9 L336.5,415.7 L335.6,418.6 L334.7,423.7 L333.8,418.5 L332.9,419.8 L332.0,416.0 L331.1,418.9 L330.1,420.5 L329.2,422.2 L328.3,420.8 L327.4,419.1 L326.5,404.9 L325.6,396.2Z" fill="#ff00ff" fill-opacity="0.3" stroke="#ff00ff" stroke-opacity="0.3" stroke-width="0.7"/>
<path d="M325.6,388.3 L326.5,397.7 L327.4,411.9 L328.3,412.8 L329.2,414.0 L330.1,413.7 L331.1,411.3 L332.0,407.9 L332.9,412.0 L333.8,410.3 L334.7,415.1 L335.6,410.1 L336.5,407.4 L337.4,409.1 L338.3,410.8 L339.2,414.7 L340.1,416.8 L341.0,414.6 L342.0,419.2 L342.9,419.5 L343.8,413.1 L344.7,419.7 L345.6,411.5 L346.5,421.7 L347.4,415.5 L348.3,420.4 L349.2,415.8 L350.1,419.5 L351.0,415.8 L351.9,416.2 L352.9,416.9 L353.8,413.6 L354.7,410.1 L355.6,416.7 L356.5,411.8 L357.4,414.3 L358.3,414.6 L359.2,407.3 L360.1,421.3 L361.0,416.4 L361.9,419.9 L362.8,415.0 L363.8,414.6 L364.7,401.5 L365.6,412.9 L366.5,408.4 L367.4,410.3 L368.3,416.1 L369.2,413.4 L370.1,409.8 L371.0,414.8 L371.9,414.9 L372.8,414.2 L373.8,420.9 L374.7,418.9 L375.6,414.9 L376.5,413.7 L377.4,418.0 L378.3,415.5 L379.2,414.4 L380.1,414.0 L381.0,410.7 L381.9,412.1 L382.8,411.4 L383.7,416.0 L384.7,414.3 L385.6,409.4 L386.5,415.0 L387.4,408.5 L388.3,411.0 L389.2,412.6 L390.1,408.9 L391.0,414.2 L391.9,415.9 L392.8,416.3 L393.7,415.0 L394.6,406.9 L395.6,422.6 L396.5,415.8 L397.4,416.5 L398.3,412.7 L399.2,416.9 L400.1,423.7 L401.0,411.5 L401.9,419.3 L402.8,415.9 L403.7,420.2 L404.6,419.3 L405.5,417.5 L406.5,413.2 L407.4,413.4 L408.3,418.2 L409.2,414.8 L410.1,417.7 L411.0,416.3 L411.9,416.3 L412.8,414.9 L413.7,419.1 L414.6,417.6 L415.5,416.6 L416.5,417.0 L417.4,419.6 L418.3,411.1 L419.2,417.9 L420.1,413.7 L421.0,415.2 L421.9,411.6 L422.8,422.4 L423.7,408.4 L424.6,415.4 L425.5,418.4 L426.4,413.7 L427.4,406.6 L428.3,412.0 L429.2,417.3 L430.1,414.5 L431.0,408.6 L431.9,417.8 L432.8,414.2 L433.7,414.8 L434.6,407.2 L435.5,415.5 L436.4,410.6 L437.3,417.4 L438.3,418.0 L439.2,411.9 L440.1,412.8 L441.0,420.2 L441.9,412.2 L442.8,411.9 L443.7,415.7 L444.6,412.7 L445.5,412.3 L446.4,415.0 L447.3,415.6 L448.2,416.2 L449.2,415.2 L450.1,418.9 L451.0,415.1 L451.9,420.0 L452.8,415.3 L453.7,416.1 L454.6,419.4 L455.5,413.6 L456.4,410.4 L457.3,412.7 L458.2,421.7 L459.1,413.1 L460.1,415.9 L461.0,416.2 L461.9,417.4 L462.8,415.0 L463.7,409.9 L464.6,412.1 L465.5,414.6 L466.4,415.6 L467.3,416.9 L468.2,415.8 L469.1,411.6 L470.1,420.5 L471.0,416.6 L471.9,417.3 L472.8,417.9 L473.7,413.7 L474.6,412.6 L475.5,418.8 L476.4,417.7 L477.3,410.6 L478.2,413.5 L479.1,412.9 L480.0,416.3 L481.0,416.0 L481.9,413.4 L482.8,416.6 L483.7,418.7 L484.6,414.9 L485.5,411.6 L486.4,417.5 L487.3,410.4 L488.2,411.2 L489.1,415.9 L490.0,412.8 L490.9,412.6 L491.9,410.1 L492.8,409.6 L493.7,415.6 L494.6,415.9 L495.5,409.1 L496.4,413.0 L497.3,412.9 L498.2,414.0 L499.1,410.3 L500.0,418.7 L500.9,410.9 L501.8,416.7 L502.8,411.3 L503.7,408.9 L504.6,417.3 L505.5,412.4 L506.4,415.5 L507.3,416.4" fill="none" stroke="#ff00ff" stroke-width="1.3" stroke-linejoin="round"/>
<path d="M325.6,378.2 L326.5,391.0 L327.4,400.9 L328.3,410.7 L329.2,420.7 L330.1,428.9 L331.1,437.2 L332.0,446.0 L332.9,450.1 L333.8,456.4 L334.7,463.2 L335.6,468.4 L336.5,473.2 L337.4,476.2 L338.3,482.1 L339.2,486.0 L340.1,490.2 L341.0,494.2 L342.0,497.2 L342.9,500.7 L343.8,503.0 L344.7,505.5 L345.6,507.9 L346.5,511.8 L347.4,512.5 L348.3,515.9 L349.2,517.4 L350.1,521.3 L351.0,522.2 L351.9,523.1 L352.9,524.4 L353.8,526.2 L354.7,528.4 L355.6,527.3 L356.5,527.2 L357.4,528.1 L358.3,530.3 L359.2,530.9 L360.1,531.8 L361.0,531.4 L361.9,534.9 L362.8,535.6 L363.8,535.3 L364.7,537.2 L365.6,538.8 L366.5,539.4 L367.4,540.4 L368.3,540.6 L369.2,542.6 L370.1,541.9 L371.0,542.1 L371.9,543.9 L372.8,542.1 L373.8,542.4 L374.7,544.1 L375.6,545.0 L376.5,545.5 L377.4,545.6 L378.3,545.4 L379.2,546.4 L380.1,545.9 L381.0,543.4 L381.9,544.7 L382.8,541.9 L383.7,543.4 L384.7,542.3 L385.6,540.5 L386.5,540.3 L387.4,541.3 L388.3,540.1 L389.2,542.1 L390.1,541.3 L391.0,540.0 L391.9,540.7 L392.8,540.9 L393.7,542.4 L394.6,541.2 L395.6,542.4 L396.5,542.0 L397.4,543.7 L398.3,545.8 L399.2,546.4 L400.1,549.2 L401.0,549.7 L401.9,549.0 L402.8,550.1 L403.7,550.4 L404.6,549.7 L405.5,549.7 L406.5,550.2 L407.4,549.2 L408.3,549.6 L409.2,549.2 L410.1,550.4 L411.0,552.3 L411.9,550.8 L412.8,551.3 L413.7,552.2 L414.6,553.2 L415.5,551.3 L416.5,552.4 L417.4,553.2 L418.3,553.7 L419.2,552.2 L420.1,551.4 L421.0,551.5 L421.9,551.8 L422.8,553.9 L423.7,553.2 L424.6,553.6 L425.5,554.2 L426.4,555.4 L427.4,555.1 L428.3,554.3 L429.2,554.0 L430.1,553.6 L431.0,553.3 L431.9,551.9 L432.8,551.1 L433.7,551.5 L434.6,552.2 L435.5,553.6 L436.4,552.5 L437.3,551.6 L438.3,553.7 L439.2,553.6 L440.1,554.3 L441.0,554.7 L441.9,555.4 L442.8,553.4 L443.7,551.7 L444.6,552.9 L445.5,552.4 L446.4,552.6 L447.3,552.7 L448.2,551.5 L449.2,551.4 L450.1,549.8 L451.0,551.9 L451.9,551.0 L452.8,549.9 L453.7,549.9 L454.6,549.9 L455.5,549.2 L456.4,550.1 L457.3,547.4 L458.2,547.8 L459.1,547.6 L460.1,547.3 L461.0,545.4 L461.9,546.4 L462.8,545.3 L463.7,546.2 L464.6,543.2 L465.5,544.6 L466.4,542.8 L467.3,544.4 L468.2,547.7 L469.1,546.0 L470.1,547.5 L471.0,547.4 L471.9,547.5 L472.8,548.7 L473.7,549.0 L474.6,549.6 L475.5,549.2 L476.4,550.8 L477.3,552.6 L478.2,551.4 L479.1,551.2 L480.0,551.7 L481.0,552.1 L481.9,551.9 L482.8,551.9 L483.7,552.6 L484.6,553.3 L485.5,552.4 L486.4,552.4 L487.3,552.8 L488.2,552.0 L489.1,550.3 L490.0,548.1 L490.9,549.0 L491.9,548.3 L492.8,547.8 L493.7,547.1 L494.6,546.6 L495.5,545.4 L496.4,546.2 L497.3,546.0 L498.2,547.3 L499.1,546.8 L500.0,549.3 L500.9,546.5 L501.8,548.6 L502.8,549.1 L503.7,551.5 L504.6,549.4 L505.5,551.6 L506.4,553.5 L507.3,554.1 L507.3,563.2 L506.4,562.1 L505.5,561.7 L504.6,559.4 L503.7,561.0 L502.8,558.1 L501.8,558.0 L500.9,557.5 L500.0,559.6 L499.1,555.8 L498.2,556.4 L497.3,555.2 L496.4,555.4 L495.5,554.3 L494.6,555.8 L493.7,556.2 L492.8,557.3 L491.9,557.8 L490.9,558.5 L490.0,558.4 L489.1,560.9 L488.2,561.4 L487.3,562.4 L486.4,560.9 L485.5,561.6 L484.6,561.4 L483.7,562.1 L482.8,561.5 L481.9,562.8 L481.0,563.2 L480.0,562.6 L479.1,561.8 L478.2,560.3 L477.3,560.7 L476.4,559.8 L475.5,559.8 L474.6,560.5 L473.7,558.0 L472.8,558.2 L471.9,557.0 L471.0,556.0 L470.1,557.3 L469.1,556.2 L468.2,558.3 L467.3,554.4 L466.4,553.1 L465.5,552.5 L464.6,554.4 L463.7,556.1 L462.8,554.9 L461.9,556.9 L461.0,556.0 L460.1,556.3 L459.1,556.7 L458.2,556.6 L457.3,555.6 L456.4,558.8 L455.5,558.3 L454.6,560.3 L453.7,558.3 L452.8,559.1 L451.9,559.5 L451.0,559.8 L450.1,559.3 L449.2,560.8 L448.2,562.7 L447.3,560.7 L446.4,560.8 L445.5,562.1 L444.6,562.3 L443.7,561.2 L442.8,561.6 L441.9,564.3 L441.0,563.3 L440.1,565.2 L439.2,562.4 L438.3,564.8 L437.3,562.1 L436.4,561.4 L435.5,563.2 L434.6,560.1 L433.7,559.8 L432.8,560.8 L431.9,560.6 L431.0,562.2 L430.1,562.8 L429.2,563.9 L428.3,563.9 L427.4,564.0 L426.4,564.5 L425.5,563.2 L424.6,563.1 L423.7,562.6 L422.8,563.1 L421.9,562.6 L421.0,560.4 L420.1,561.5 L419.2,561.8 L418.3,562.6 L417.4,562.0 L416.5,561.9 L415.5,561.1 L414.6,562.3 L413.7,561.0 L412.8,560.9 L411.9,560.2 L411.0,561.3 L410.1,560.3 L409.2,558.9 L408.3,560.1 L407.4,558.7 L406.5,558.7 L405.5,558.1 L404.6,558.9 L403.7,559.9 L402.8,558.8 L401.9,558.3 L401.0,560.4 L400.1,558.4 L399.2,555.5 L398.3,556.1 L397.4,553.8 L396.5,552.6 L395.6,552.2 L394.6,551.4 L393.7,552.3 L392.8,551.7 L391.9,551.7 L391.0,549.7 L390.1,550.7 L389.2,550.9 L388.3,551.4 L387.4,550.5 L386.5,550.5 L385.6,552.3 L384.7,552.0 L383.7,553.4 L382.8,553.6 L381.9,554.0 L381.0,554.0 L380.1,556.6 L379.2,556.1 L378.3,556.5 L377.4,557.1 L376.5,555.4 L375.6,555.3 L374.7,554.6 L373.8,553.5 L372.8,554.2 L371.9,555.0 L371.0,553.0 L370.1,553.5 L369.2,553.8 L368.3,552.0 L367.4,551.8 L366.5,549.3 L365.6,549.5 L364.7,547.7 L363.8,546.1 L362.8,547.6 L361.9,546.6 L361.0,544.5 L360.1,543.3 L359.2,543.3 L358.3,541.3 L357.4,541.3 L356.5,540.9 L355.6,538.9 L354.7,539.5 L353.8,538.7 L352.9,536.8 L351.9,535.0 L351.0,535.1 L350.1,533.1 L349.2,530.1 L348.3,528.4 L347.4,525.3 L346.5,523.9 L345.6,520.5 L344.7,518.8 L343.8,516.8 L342.9,513.7 L342.0,510.2 L341.0,507.9 L340.1,505.4 L339.2,499.8 L338.3,496.1 L337.4,491.7 L336.5,488.3 L335.6,484.6 L334.7,480.2 L333.8,471.0 L332.9,465.9 L332.0,462.6 L331.1,454.2 L330.1,444.6 L329.2,436.9 L328.3,428.6 L327.4,418.9 L326.5,408.6 L325.6,396.3Z" fill="#0000ff" fill-opacity="0.3" stroke="#0000ff" stroke-opacity="0.3" stroke-width="0.7"/>
<path d="M325.6,387.8 L326.5,399.5 L327.4,409.8 L328.3,419.5 L329.2,428.6 L330.1,436.9 L331.1,445.5 L332.0,453.6 L332.9,458.1 L333.8,463.8 L334.7,471.4 L335.6,476.3 L336.5,480.6 L337.4,484.8 L338.3,489.3 L339.2,492.9 L340.1,497.5 L341.0,500.7 L342.0,504.0 L342.9,507.5 L343.8,509.3 L344.7,512.3 L345.6,514.5 L346.5,517.8 L347.4,519.1 L348.3,522.6 L349.2,523.7 L350.1,527.5 L351.0,528.2 L351.9,528.8 L352.9,531.2 L353.8,531.9 L354.7,534.1 L355.6,533.0 L356.5,534.4 L357.4,535.4 L358.3,535.7 L359.2,536.4 L360.1,536.8 L361.0,538.8 L361.9,541.0 L362.8,541.2 L363.8,541.1 L364.7,542.5 L365.6,544.0 L366.5,544.2 L367.4,545.3 L368.3,545.8 L369.2,547.9 L370.1,548.2 L371.0,547.8 L371.9,548.7 L372.8,548.7 L373.8,548.0 L374.7,549.7 L375.6,549.7 L376.5,550.5 L377.4,550.8 L378.3,550.6 L379.2,551.6 L380.1,551.5 L381.0,548.7 L381.9,549.1 L382.8,547.7 L383.7,547.7 L384.7,547.1 L385.6,546.2 L386.5,545.5 L387.4,546.1 L388.3,544.8 L389.2,546.5 L390.1,546.0 L391.0,544.8 L391.9,546.6 L392.8,545.8 L393.7,547.4 L394.6,547.0 L395.6,547.6 L396.5,547.6 L397.4,548.6 L398.3,550.1 L399.2,550.9 L400.1,553.7 L401.0,554.6 L401.9,553.6 L402.8,554.4 L403.7,554.6 L404.6,554.8 L405.5,554.0 L406.5,554.3 L407.4,553.9 L408.3,554.4 L409.2,553.5 L410.1,555.3 L411.0,556.6 L411.9,555.7 L412.8,556.1 L413.7,556.3 L414.6,557.8 L415.5,556.4 L416.5,557.3 L417.4,557.3 L418.3,558.3 L419.2,557.0 L420.1,557.3 L421.0,556.4 L421.9,557.6 L422.8,558.3 L423.7,557.7 L424.6,558.7 L425.5,558.2 L426.4,559.5 L427.4,559.1 L428.3,558.6 L429.2,558.0 L430.1,557.7 L431.0,557.4 L431.9,556.4 L432.8,556.1 L433.7,555.3 L434.6,556.2 L435.5,558.0 L436.4,557.1 L437.3,556.7 L438.3,558.0 L439.2,558.3 L440.1,558.7 L441.0,559.0 L441.9,559.3 L442.8,557.6 L443.7,557.2 L444.6,557.2 L445.5,557.0 L446.4,556.7 L447.3,556.7 L448.2,556.1 L449.2,556.0 L450.1,555.5 L451.0,555.9 L451.9,555.4 L452.8,554.2 L453.7,554.4 L454.6,555.3 L455.5,553.4 L456.4,554.5 L457.3,551.5 L458.2,551.9 L459.1,551.5 L460.1,551.9 L461.0,551.8 L461.9,550.8 L462.8,550.2 L463.7,550.2 L464.6,549.2 L465.5,548.5 L466.4,548.5 L467.3,550.3 L468.2,551.7 L469.1,551.1 L470.1,552.1 L471.0,552.0 L471.9,551.9 L472.8,552.5 L473.7,554.0 L474.6,554.1 L475.5,554.4 L476.4,556.0 L477.3,556.4 L478.2,556.2 L479.1,556.8 L480.0,557.2 L481.0,557.4 L481.9,557.0 L482.8,557.4 L483.7,556.6 L484.6,557.3 L485.5,556.3 L486.4,556.5 L487.3,558.0 L488.2,555.9 L489.1,556.0 L490.0,554.1 L490.9,553.7 L491.9,553.2 L492.8,552.0 L493.7,551.9 L494.6,550.5 L495.5,549.6 L496.4,550.2 L497.3,550.5 L498.2,551.9 L499.1,551.5 L500.0,553.2 L500.9,552.6 L501.8,553.3 L502.8,553.7 L503.7,555.4 L504.6,554.0 L505.5,556.8 L506.4,557.4 L507.3,558.8" fill="none" stroke="#0000ff" stroke-width="1.6" stroke-linejoin="round"/>
<path d="M325.6,379.4 L326.5,387.7 L327.4,394.3 L328.3,403.5 L329.2,411.5 L330.1,416.3 L331.1,424.0 L332.0,426.3 L332.9,434.1 L333.8,440.6 L334.7,441.8 L335.6,449.9 L336.5,453.6 L337.4,456.8 L338.3,460.8 L339.2,466.7 L340.1,467.7 L341.0,470.7 L342.0,474.2 L342.9,480.1 L343.8,481.3 L344.7,483.9 L345.6,486.1 L346.5,487.1 L347.4,491.8 L348.3,491.6 L349.2,494.9 L350.1,498.9 L351.0,499.6 L351.9,501.2 L352.9,502.5 L353.8,503.6 L354.7,506.0 L355.6,506.3 L356.5,508.7 L357.4,509.6 L358.3,508.2 L359.2,508.4 L360.1,508.1 L361.0,510.5 L361.9,511.4 L362.8,512.2 L363.8,513.2 L364.7,517.6 L365.6,519.8 L366.5,520.2 L367.4,522.4 L368.3,521.0 L369.2,523.2 L370.1,523.4 L371.0,525.5 L371.9,525.4 L372.8,525.2 L373.8,527.5 L374.7,527.4 L375.6,529.2 L376.5,527.2 L377.4,530.6 L378.3,530.3 L379.2,530.6 L380.1,531.3 L381.0,533.4 L381.9,531.3 L382.8,530.9 L383.7,529.0 L384.7,527.2 L385.6,526.6 L386.5,524.7 L387.4,525.1 L388.3,521.7 L389.2,523.6 L390.1,523.5 L391.0,525.1 L391.9,524.9 L392.8,526.2 L393.7,526.5 L394.6,526.0 L395.6,527.4 L396.5,528.7 L397.4,530.7 L398.3,534.1 L399.2,534.3 L400.1,534.9 L401.0,539.2 L401.9,539.5 L402.8,537.5 L403.7,536.8 L404.6,533.1 L405.5,531.1 L406.5,531.3 L407.4,525.6 L408.3,531.6 L409.2,532.8 L410.1,535.3 L411.0,535.7 L411.9,537.6 L412.8,540.6 L413.7,543.5 L414.6,541.0 L415.5,542.2 L416.5,542.8 L417.4,541.0 L418.3,541.0 L419.2,540.6 L420.1,539.9 L421.0,543.9 L421.9,542.4 L422.8,545.2 L423.7,545.5 L424.6,547.3 L425.5,544.7 L426.4,545.5 L427.4,544.2 L428.3,543.5 L429.2,543.4 L430.1,542.6 L431.0,543.0 L431.9,541.8 L432.8,541.9 L433.7,541.2 L434.6,541.6 L435.5,539.6 L436.4,541.7 L437.3,540.3 L438.3,539.1 L439.2,542.9 L440.1,543.8 L441.0,543.5 L441.9,543.6 L442.8,542.2 L443.7,542.1 L444.6,544.9 L445.5,547.2 L446.4,545.8 L447.3,545.8 L448.2,542.7 L449.2,543.5 L450.1,542.2 L451.0,543.4 L451.9,542.5 L452.8,541.7 L453.7,540.1 L454.6,538.5 L455.5,539.4 L456.4,537.5 L457.3,538.2 L458.2,538.3 L459.1,538.7 L460.1,538.5 L461.0,536.4 L461.9,538.4 L462.8,536.1 L463.7,536.6 L464.6,534.4 L465.5,530.9 L466.4,535.1 L467.3,533.9 L468.2,536.3 L469.1,537.8 L470.1,539.4 L471.0,539.0 L471.9,539.0 L472.8,539.4 L473.7,537.4 L474.6,537.7 L475.5,539.9 L476.4,540.5 L477.3,542.0 L478.2,546.0 L479.1,546.2 L480.0,546.8 L481.0,545.5 L481.9,544.5 L482.8,545.8 L483.7,545.9 L484.6,545.8 L485.5,545.3 L486.4,543.7 L487.3,542.8 L488.2,543.5 L489.1,542.0 L490.0,541.2 L490.9,539.8 L491.9,539.7 L492.8,538.2 L493.7,534.6 L494.6,534.5 L495.5,535.3 L496.4,536.0 L497.3,537.3 L498.2,540.0 L499.1,539.5 L500.0,541.1 L500.9,541.0 L501.8,540.9 L502.8,541.2 L503.7,544.4 L504.6,545.0 L505.5,547.3 L506.4,546.3 L507.3,546.4 L507.3,556.0 L506.4,556.2 L505.5,556.4 L504.6,552.9 L503.7,555.4 L502.8,549.6 L501.8,549.7 L500.9,549.4 L500.0,550.7 L499.1,548.3 L498.2,549.9 L497.3,546.0 L496.4,546.2 L495.5,543.6 L494.6,544.6 L493.7,544.1 L492.8,546.9 L491.9,548.8 L490.9,549.0 L490.0,550.3 L489.1,552.6 L488.2,552.3 L487.3,551.3 L486.4,553.0 L485.5,554.9 L484.6,554.9 L483.7,554.9 L482.8,555.6 L481.9,556.1 L481.0,554.5 L480.0,555.2 L479.1,555.3 L478.2,555.8 L477.3,551.6 L476.4,550.7 L475.5,549.3 L474.6,549.4 L473.7,547.0 L472.8,548.0 L471.9,548.7 L471.0,547.7 L470.1,547.4 L469.1,547.1 L468.2,544.6 L467.3,545.5 L466.4,544.4 L465.5,540.3 L464.6,543.1 L463.7,546.7 L462.8,546.4 L461.9,548.9 L461.0,544.9 L460.1,549.8 L459.1,546.8 L458.2,547.0 L457.3,548.2 L456.4,547.1 L455.5,547.1 L454.6,547.1 L453.7,549.1 L452.8,550.1 L451.9,551.5 L451.0,553.1 L450.1,552.6 L449.2,554.0 L448.2,551.6 L447.3,554.9 L446.4,554.2 L445.5,555.4 L444.6,553.9 L443.7,550.7 L442.8,550.5 L441.9,553.1 L441.0,554.5 L440.1,551.9 L439.2,552.2 L438.3,549.5 L437.3,549.7 L436.4,551.5 L435.5,550.7 L434.6,550.5 L433.7,551.0 L432.8,551.7 L431.9,550.3 L431.0,551.7 L430.1,553.7 L429.2,552.5 L428.3,553.2 L427.4,554.6 L426.4,554.1 L425.5,553.6 L424.6,555.8 L423.7,554.1 L422.8,553.4 L421.9,552.8 L421.0,554.3 L420.1,549.6 L419.2,550.2 L418.3,551.8 L417.4,550.6 L416.5,552.0 L415.5,551.1 L414.6,550.2 L413.7,551.7 L412.8,549.0 L411.9,546.9 L411.0,544.9 L410.1,544.8 L409.2,543.0 L408.3,540.6 L407.4,537.8 L406.5,540.6 L405.5,541.5 L404.6,543.5 L403.7,546.0 L402.8,548.0 L401.9,547.9 L401.0,547.7 L400.1,545.8 L399.2,545.6 L398.3,544.3 L397.4,540.1 L396.5,537.4 L395.6,536.7 L394.6,535.8 L393.7,536.2 L392.8,536.2 L391.9,535.2 L391.0,534.4 L390.1,533.6 L389.2,532.8 L388.3,530.6 L387.4,534.1 L386.5,534.5 L385.6,535.6 L384.7,537.1 L383.7,538.3 L382.8,541.1 L381.9,543.0 L381.0,542.4 L380.1,541.2 L379.2,542.1 L378.3,540.3 L377.4,540.0 L376.5,539.1 L375.6,540.4 L374.7,537.4 L373.8,538.0 L372.8,536.1 L371.9,536.2 L371.0,538.0 L370.1,536.5 L369.2,533.7 L368.3,533.2 L367.4,532.7 L366.5,531.5 L365.6,531.7 L364.7,529.1 L363.8,526.1 L362.8,523.3 L361.9,522.3 L361.0,521.0 L360.1,520.8 L359.2,519.9 L358.3,520.5 L357.4,522.3 L356.5,521.8 L355.6,517.2 L354.7,518.9 L353.8,515.2 L352.9,514.9 L351.9,513.2 L351.0,513.3 L350.1,510.9 L349.2,506.9 L348.3,504.2 L347.4,504.4 L346.5,500.1 L345.6,498.7 L344.7,495.8 L343.8,496.1 L342.9,493.2 L342.0,487.1 L341.0,485.0 L340.1,481.4 L339.2,480.9 L338.3,475.5 L337.4,472.0 L336.5,469.6 L335.6,465.9 L334.7,458.0 L333.8,455.9 L332.9,450.3 L332.0,444.8 L331.1,439.6 L330.1,433.6 L329.2,427.0 L328.3,420.4 L327.4,412.9 L326.5,404.7 L325.6,396.6Z" fill="#ff0000" fill-opacity="0.3" stroke="#ff0000" stroke-opacity="0.3" stroke-width="0.7"/>
<path d="M325.6,387.9 L326.5,396.0 L327.4,404.6 L328.3,411.8 L329.2,419.2 L330.1,424.8 L331.1,431.4 L332.0,436.1 L332.9,441.6 L333.8,448.0 L334.7,450.6 L335.6,457.5 L336.5,460.5 L337.4,463.9 L338.3,467.5 L339.2,473.9 L340.1,474.7 L341.0,477.7 L342.0,480.5 L342.9,486.3 L343.8,487.7 L344.7,489.9 L345.6,492.7 L346.5,493.6 L347.4,497.6 L348.3,498.3 L349.2,501.1 L350.1,504.7 L351.0,506.1 L351.9,507.3 L352.9,508.4 L353.8,509.1 L354.7,511.4 L355.6,511.8 L356.5,514.7 L357.4,516.3 L358.3,514.3 L359.2,513.6 L360.1,514.1 L361.0,515.9 L361.9,516.6 L362.8,517.3 L363.8,520.9 L364.7,523.5 L365.6,525.7 L366.5,525.4 L367.4,527.8 L368.3,528.1 L369.2,528.3 L370.1,529.2 L371.0,531.5 L371.9,530.7 L372.8,531.4 L373.8,532.3 L374.7,532.5 L375.6,534.4 L376.5,534.5 L377.4,535.4 L378.3,534.9 L379.2,536.5 L380.1,536.2 L381.0,537.8 L381.9,536.4 L382.8,535.3 L383.7,533.7 L384.7,532.1 L385.6,530.9 L386.5,529.6 L387.4,529.6 L388.3,526.1 L389.2,528.3 L390.1,528.8 L391.0,530.0 L391.9,529.3 L392.8,531.6 L393.7,531.2 L394.6,531.4 L395.6,531.8 L396.5,532.9 L397.4,535.5 L398.3,539.0 L399.2,539.1 L400.1,541.2 L401.0,543.6 L401.9,543.8 L402.8,542.6 L403.7,541.3 L404.6,538.3 L405.5,536.4 L406.5,536.5 L407.4,533.1 L408.3,535.6 L409.2,537.1 L410.1,539.5 L411.0,540.8 L411.9,542.8 L412.8,544.9 L413.7,547.5 L414.6,545.7 L415.5,546.3 L416.5,547.3 L417.4,545.8 L418.3,547.5 L419.2,545.6 L420.1,545.4 L421.0,548.2 L421.9,548.1 L422.8,549.5 L423.7,550.1 L424.6,551.4 L425.5,549.4 L426.4,549.5 L427.4,548.6 L428.3,548.8 L429.2,547.6 L430.1,547.9 L431.0,547.2 L431.9,546.3 L432.8,547.0 L433.7,546.0 L434.6,546.3 L435.5,545.7 L436.4,546.2 L437.3,544.9 L438.3,544.7 L439.2,547.1 L440.1,547.9 L441.0,547.8 L441.9,547.5 L442.8,546.1 L443.7,546.5 L444.6,549.2 L445.5,551.4 L446.4,550.3 L447.3,550.3 L448.2,547.6 L449.2,548.6 L450.1,547.9 L451.0,547.8 L451.9,546.4 L452.8,546.1 L453.7,545.1 L454.6,543.1 L455.5,543.3 L456.4,541.5 L457.3,543.4 L458.2,542.4 L459.1,542.9 L460.1,543.3 L461.0,540.8 L461.9,543.7 L462.8,540.3 L463.7,541.3 L464.6,538.7 L465.5,535.7 L466.4,538.9 L467.3,540.5 L468.2,540.5 L469.1,542.6 L470.1,543.3 L471.0,543.1 L471.9,543.9 L472.8,543.2 L473.7,542.2 L474.6,543.9 L475.5,544.5 L476.4,545.3 L477.3,546.4 L478.2,550.1 L479.1,550.3 L480.0,550.7 L481.0,550.5 L481.9,550.0 L482.8,549.9 L483.7,550.5 L484.6,550.4 L485.5,549.2 L486.4,548.2 L487.3,547.1 L488.2,548.3 L489.1,547.4 L490.0,545.5 L490.9,544.3 L491.9,543.8 L492.8,542.6 L493.7,539.9 L494.6,540.5 L495.5,539.5 L496.4,541.7 L497.3,541.9 L498.2,544.3 L499.1,543.8 L500.0,545.9 L500.9,545.2 L501.8,545.4 L502.8,545.4 L503.7,549.5 L504.6,548.9 L505.5,551.2 L506.4,551.3 L507.3,551.5" fill="none" stroke="#ff0000" stroke-width="1.6" stroke-linejoin="round"/>
</g>
<rect x="316.5" y="372.3" width="199.9" height="202.2" fill="none" stroke="#1e1e1e" stroke-width="1.3"/>
<defs><clipPath id="cB3"><rect x="593.5" y="372.4" width="199.7" height="202.2"/></clipPath></defs>
<g clip-path="url(#cB3)">
<path d="M602.6,377.2 L603.5,377.3 L604.4,377.4 L605.3,377.7 L606.2,378.0 L607.1,377.9 L608.0,378.0 L609.0,377.9 L609.9,378.0 L610.8,377.9 L611.7,377.9 L612.6,378.1 L613.5,377.8 L614.4,377.7 L615.3,377.8 L616.2,377.8 L617.1,377.7 L618.0,377.8 L618.9,377.7 L619.8,377.8 L620.8,377.8 L621.7,377.6 L622.6,377.8 L623.5,377.8 L624.4,377.6 L625.3,377.8 L626.2,377.9 L627.1,377.8 L628.0,377.9 L628.9,377.9 L629.8,377.6 L630.7,377.5 L631.6,377.8 L632.5,377.9 L633.5,377.8 L634.4,377.6 L635.3,377.6 L636.2,377.7 L637.1,377.8 L638.0,377.8 L638.9,377.8 L639.8,377.9 L640.7,377.8 L641.6,378.0 L642.5,378.0 L643.4,377.8 L644.3,377.6 L645.3,377.9 L646.2,377.6 L647.1,377.8 L648.0,377.7 L648.9,378.0 L649.8,377.7 L650.7,377.9 L651.6,378.0 L652.5,377.7 L653.4,377.8 L654.3,378.2 L655.2,377.8 L656.1,377.9 L657.1,377.8 L658.0,377.8 L658.9,377.8 L659.8,378.0 L660.7,377.8 L661.6,377.9 L662.5,377.6 L663.4,377.6 L664.3,377.9 L665.2,377.8 L666.1,377.8 L667.0,377.8 L667.9,377.9 L668.8,377.8 L669.8,377.3 L670.7,377.7 L671.6,377.9 L672.5,378.0 L673.4,377.7 L674.3,377.8 L675.2,377.7 L676.1,377.6 L677.0,378.0 L677.9,377.8 L678.8,377.8 L679.7,377.9 L680.6,377.7 L681.6,377.8 L682.5,377.8 L683.4,377.9 L684.3,377.8 L685.2,377.6 L686.1,377.7 L687.0,377.8 L687.9,378.0 L688.8,377.8 L689.7,377.7 L690.6,378.0 L691.5,377.9 L692.4,377.6 L693.4,378.0 L694.3,377.6 L695.2,377.9 L696.1,377.8 L697.0,378.1 L697.9,378.0 L698.8,377.8 L699.7,377.7 L700.6,377.8 L701.5,377.8 L702.4,377.6 L703.3,377.7 L704.2,377.7 L705.1,377.9 L706.1,377.8 L707.0,377.4 L707.9,377.5 L708.8,377.5 L709.7,377.7 L710.6,377.8 L711.5,377.8 L712.4,377.4 L713.3,377.8 L714.2,377.7 L715.1,377.6 L716.0,378.1 L716.9,377.8 L717.9,377.9 L718.8,377.9 L719.7,377.8 L720.6,377.9 L721.5,377.9 L722.4,377.8 L723.3,377.7 L724.2,378.0 L725.1,377.9 L726.0,378.0 L726.9,377.8 L727.8,377.6 L728.7,377.7 L729.6,377.8 L730.6,377.9 L731.5,377.6 L732.4,377.8 L733.3,378.0 L734.2,377.5 L735.1,378.1 L736.0,377.8 L736.9,377.9 L737.8,378.0 L738.7,377.9 L739.6,377.9 L740.5,377.6 L741.4,377.8 L742.4,377.6 L743.3,377.7 L744.2,377.8 L745.1,378.0 L746.0,377.6 L746.9,377.7 L747.8,377.8 L748.7,377.9 L749.6,378.0 L750.5,377.8 L751.4,377.9 L752.3,378.0 L753.2,377.8 L754.2,377.5 L755.1,377.6 L756.0,377.9 L756.9,377.7 L757.8,377.8 L758.7,377.7 L759.6,377.6 L760.5,377.8 L761.4,377.9 L762.3,377.7 L763.2,377.5 L764.1,377.8 L765.0,378.1 L766.0,377.8 L766.9,377.8 L767.8,377.7 L768.7,377.6 L769.6,377.9 L770.5,377.9 L771.4,378.0 L772.3,377.9 L773.2,377.9 L774.1,377.8 L775.0,377.9 L775.9,377.9 L776.8,378.0 L777.7,377.8 L778.7,377.8 L779.6,377.8 L780.5,377.6 L781.4,377.8 L782.3,377.8 L783.2,377.4 L784.1,377.7 L784.1,378.8 L783.2,378.8 L782.3,378.9 L781.4,378.9 L780.5,378.8 L779.6,378.9 L778.7,379.0 L777.7,378.9 L776.8,379.0 L775.9,378.9 L775.0,379.0 L774.1,378.8 L773.2,379.0 L772.3,378.9 L771.4,379.1 L770.5,379.1 L769.6,378.8 L768.7,378.7 L767.8,378.9 L766.9,378.9 L766.0,378.8 L765.0,379.1 L764.1,379.1 L763.2,378.6 L762.3,378.7 L761.4,378.9 L760.5,379.1 L759.6,378.9 L758.7,378.8 L757.8,378.8 L756.9,378.8 L756.0,378.9 L755.1,378.7 L754.2,378.7 L753.2,379.0 L752.3,379.1 L751.4,379.1 L750.5,379.0 L749.6,379.0 L748.7,378.9 L747.8,378.9 L746.9,379.0 L746.0,378.8 L745.1,379.0 L744.2,379.0 L743.3,378.8 L742.4,378.6 L741.4,378.9 L740.5,378.7 L739.6,378.9 L738.7,379.0 L737.8,379.1 L736.9,379.0 L736.0,379.1 L735.1,379.3 L734.2,379.0 L733.3,379.1 L732.4,378.9 L731.5,378.7 L730.6,378.9 L729.6,378.9 L728.7,378.8 L727.8,379.0 L726.9,378.8 L726.0,379.1 L725.1,378.9 L724.2,379.2 L723.3,378.9 L722.4,378.9 L721.5,378.8 L720.6,378.9 L719.7,378.9 L718.8,379.0 L717.9,379.0 L716.9,378.9 L716.0,379.1 L715.1,378.6 L714.2,378.9 L713.3,378.9 L712.4,378.6 L711.5,379.0 L710.6,378.8 L709.7,378.9 L708.8,378.8 L707.9,378.6 L707.0,378.6 L706.1,378.9 L705.1,378.9 L704.2,378.9 L703.3,378.9 L702.4,378.7 L701.5,378.9 L700.6,378.8 L699.7,378.9 L698.8,379.0 L697.9,379.3 L697.0,379.2 L696.1,379.0 L695.2,379.0 L694.3,378.8 L693.4,379.0 L692.4,378.8 L691.5,378.9 L690.6,379.3 L689.7,378.8 L688.8,378.9 L687.9,379.0 L687.0,379.0 L686.1,378.8 L685.2,379.0 L684.3,379.0 L683.4,379.0 L682.5,378.9 L681.6,378.8 L680.6,378.9 L679.7,378.8 L678.8,378.8 L677.9,379.0 L677.0,379.4 L676.1,379.0 L675.2,378.9 L674.3,379.0 L673.4,378.9 L672.5,379.2 L671.6,379.1 L670.7,378.7 L669.8,378.7 L668.8,378.9 L667.9,378.9 L667.0,378.9 L666.1,379.0 L665.2,379.1 L664.3,378.9 L663.4,378.6 L662.5,378.6 L661.6,378.9 L660.7,378.9 L659.8,379.1 L658.9,378.9 L658.0,378.9 L657.1,378.9 L656.1,378.8 L655.2,378.8 L654.3,379.2 L653.4,378.9 L652.5,378.9 L651.6,379.3 L650.7,378.8 L649.8,378.8 L648.9,379.0 L648.0,378.9 L647.1,378.9 L646.2,378.9 L645.3,379.0 L644.3,378.7 L643.4,378.9 L642.5,379.3 L641.6,379.1 L640.7,378.9 L639.8,378.9 L638.9,379.2 L638.0,378.9 L637.1,378.8 L636.2,378.9 L635.3,378.8 L634.4,378.8 L633.5,379.0 L632.5,378.9 L631.6,378.9 L630.7,378.8 L629.8,378.8 L628.9,378.9 L628.0,378.9 L627.1,378.9 L626.2,378.9 L625.3,378.9 L624.4,378.8 L623.5,378.9 L622.6,378.9 L621.7,378.8 L620.8,378.8 L619.8,378.9 L618.9,378.9 L618.0,378.9 L617.1,378.8 L616.2,378.8 L615.3,379.1 L614.4,378.8 L613.5,378.8 L612.6,379.1 L611.7,379.2 L610.8,379.0 L609.9,379.2 L609.0,378.9 L608.0,379.0 L607.1,379.0 L606.2,379.1 L605.3,378.8 L604.4,378.5 L603.5,378.4 L602.6,378.4Z" fill="#008000" fill-opacity="0.3" stroke="#008000" stroke-opacity="0.3" stroke-width="0.7"/>
<path d="M602.6,377.8 L603.5,377.9 L604.4,378.1 L605.3,378.3 L606.2,378.5 L607.1,378.4 L608.0,378.6 L609.0,378.4 L609.9,378.5 L610.8,378.3 L611.7,378.4 L612.6,378.6 L613.5,378.3 L614.4,378.3 L615.3,378.5 L616.2,378.3 L617.1,378.3 L618.0,378.4 L618.9,378.3 L619.8,378.3 L620.8,378.2 L621.7,378.3 L622.6,378.4 L623.5,378.3 L624.4,378.3 L625.3,378.3 L626.2,378.4 L627.1,378.4 L628.0,378.4 L628.9,378.4 L629.8,378.3 L630.7,378.3 L631.6,378.4 L632.5,378.4 L633.5,378.3 L634.4,378.2 L635.3,378.2 L636.2,378.4 L637.1,378.3 L638.0,378.4 L638.9,378.4 L639.8,378.4 L640.7,378.4 L641.6,378.5 L642.5,378.6 L643.4,378.3 L644.3,378.2 L645.3,378.5 L646.2,378.3 L647.1,378.4 L648.0,378.3 L648.9,378.4 L649.8,378.4 L650.7,378.4 L651.6,378.6 L652.5,378.3 L653.4,378.4 L654.3,378.6 L655.2,378.3 L656.1,378.4 L657.1,378.3 L658.0,378.3 L658.9,378.4 L659.8,378.5 L660.7,378.4 L661.6,378.4 L662.5,378.1 L663.4,378.1 L664.3,378.4 L665.2,378.4 L666.1,378.3 L667.0,378.3 L667.9,378.4 L668.8,378.5 L669.8,378.1 L670.7,378.2 L671.6,378.5 L672.5,378.6 L673.4,378.4 L674.3,378.3 L675.2,378.3 L676.1,378.4 L677.0,378.5 L677.9,378.3 L678.8,378.3 L679.7,378.4 L680.6,378.4 L681.6,378.3 L682.5,378.4 L683.4,378.5 L684.3,378.3 L685.2,378.5 L686.1,378.2 L687.0,378.3 L687.9,378.5 L688.8,378.3 L689.7,378.2 L690.6,378.6 L691.5,378.4 L692.4,378.2 L693.4,378.5 L694.3,378.4 L695.2,378.5 L696.1,378.4 L697.0,378.6 L697.9,378.5 L698.8,378.4 L699.7,378.3 L700.6,378.3 L701.5,378.3 L702.4,378.2 L703.3,378.3 L704.2,378.3 L705.1,378.5 L706.1,378.4 L707.0,378.0 L707.9,378.1 L708.8,378.3 L709.7,378.3 L710.6,378.2 L711.5,378.4 L712.4,378.1 L713.3,378.4 L714.2,378.4 L715.1,378.1 L716.0,378.6 L716.9,378.3 L717.9,378.6 L718.8,378.4 L719.7,378.4 L720.6,378.4 L721.5,378.3 L722.4,378.4 L723.3,378.4 L724.2,378.5 L725.1,378.4 L726.0,378.5 L726.9,378.3 L727.8,378.5 L728.7,378.3 L729.6,378.4 L730.6,378.4 L731.5,378.2 L732.4,378.3 L733.3,378.6 L734.2,378.3 L735.1,378.7 L736.0,378.3 L736.9,378.4 L737.8,378.5 L738.7,378.3 L739.6,378.4 L740.5,378.1 L741.4,378.4 L742.4,378.1 L743.3,378.2 L744.2,378.4 L745.1,378.4 L746.0,378.2 L746.9,378.4 L747.8,378.3 L748.7,378.4 L749.6,378.5 L750.5,378.4 L751.4,378.5 L752.3,378.5 L753.2,378.4 L754.2,378.1 L755.1,378.2 L756.0,378.4 L756.9,378.3 L757.8,378.3 L758.7,378.2 L759.6,378.3 L760.5,378.4 L761.4,378.4 L762.3,378.2 L763.2,378.1 L764.1,378.4 L765.0,378.6 L766.0,378.3 L766.9,378.4 L767.8,378.3 L768.7,378.2 L769.6,378.3 L770.5,378.5 L771.4,378.6 L772.3,378.4 L773.2,378.5 L774.1,378.3 L775.0,378.5 L775.9,378.4 L776.8,378.5 L777.7,378.4 L778.7,378.4 L779.6,378.3 L780.5,378.2 L781.4,378.4 L782.3,378.5 L783.2,378.1 L784.1,378.3" fill="none" stroke="#008000" stroke-width="1.6" stroke-linejoin="round"/>
<path d="M602.6,395.8 L603.5,378.4 L604.4,398.7 L605.3,397.0 L606.2,389.0 L607.1,387.1 L608.0,407.2 L609.0,395.1 L609.9,389.9 L610.8,402.0 L611.7,394.5 L612.6,401.8 L613.5,404.5 L614.4,401.2 L615.3,400.5 L616.2,405.5 L617.1,384.1 L618.0,400.6 L618.9,394.2 L619.8,390.0 L620.8,397.5 L621.7,389.2 L622.6,393.5 L623.5,395.8 L624.4,399.1 L625.3,399.0 L626.2,401.3 L627.1,398.9 L628.0,388.6 L628.9,401.7 L629.8,401.1 L630.7,398.1 L631.6,391.0 L632.5,389.4 L633.5,387.6 L634.4,402.5 L635.3,393.0 L636.2,391.5 L637.1,395.5 L638.0,394.6 L638.9,411.1 L639.8,400.1 L640.7,402.9 L641.6,414.2 L642.5,401.7 L643.4,395.9 L644.3,406.1 L645.3,397.8 L646.2,402.5 L647.1,404.5 L648.0,403.1 L648.9,398.3 L649.8,386.9 L650.7,384.6 L651.6,397.6 L652.5,388.2 L653.4,399.8 L654.3,400.9 L655.2,398.8 L656.1,406.8 L657.1,410.8 L658.0,394.5 L658.9,411.7 L659.8,396.6 L660.7,410.2 L661.6,400.3 L662.5,399.7 L663.4,402.9 L664.3,409.0 L665.2,399.6 L666.1,399.6 L667.0,402.0 L667.9,395.4 L668.8,391.6 L669.8,399.9 L670.7,394.7 L671.6,404.1 L672.5,393.4 L673.4,391.2 L674.3,383.6 L675.2,393.7 L676.1,395.7 L677.0,391.2 L677.9,402.7 L678.8,393.2 L679.7,400.1 L680.6,400.6 L681.6,390.3 L682.5,397.6 L683.4,387.1 L684.3,405.9 L685.2,396.7 L686.1,393.3 L687.0,401.6 L687.9,408.1 L688.8,393.3 L689.7,393.4 L690.6,404.9 L691.5,405.2 L692.4,401.5 L693.4,390.4 L694.3,394.9 L695.2,398.9 L696.1,395.0 L697.0,392.6 L697.9,396.1 L698.8,391.1 L699.7,395.2 L700.6,393.0 L701.5,406.3 L702.4,398.1 L703.3,398.1 L704.2,398.3 L705.1,402.4 L706.1,399.1 L707.0,403.7 L707.9,393.7 L708.8,401.7 L709.7,403.6 L710.6,392.4 L711.5,386.6 L712.4,397.7 L713.3,389.4 L714.2,394.6 L715.1,395.4 L716.0,386.3 L716.9,386.4 L717.9,390.8 L718.8,392.2 L719.7,399.1 L720.6,393.0 L721.5,388.5 L722.4,386.6 L723.3,381.4 L724.2,392.2 L725.1,391.4 L726.0,403.0 L726.9,389.8 L727.8,389.5 L728.7,390.2 L729.6,392.3 L730.6,396.7 L731.5,389.8 L732.4,397.3 L733.3,383.6 L734.2,375.8 L735.1,401.0 L736.0,413.8 L736.9,402.1 L737.8,403.3 L738.7,399.4 L739.6,397.5 L740.5,403.8 L741.4,394.5 L742.4,390.2 L743.3,400.7 L744.2,399.8 L745.1,404.8 L746.0,392.8 L746.9,388.0 L747.8,403.7 L748.7,396.8 L749.6,394.8 L750.5,401.1 L751.4,400.3 L752.3,403.5 L753.2,401.5 L754.2,393.7 L755.1,388.5 L756.0,393.6 L756.9,388.2 L757.8,389.8 L758.7,395.3 L759.6,388.1 L760.5,389.5 L761.4,407.3 L762.3,387.8 L763.2,396.3 L764.1,398.2 L765.0,388.9 L766.0,413.7 L766.9,408.1 L767.8,396.1 L768.7,396.2 L769.6,403.1 L770.5,389.4 L771.4,390.1 L772.3,402.3 L773.2,398.2 L774.1,390.5 L775.0,383.4 L775.9,405.4 L776.8,393.6 L777.7,399.0 L778.7,406.3 L779.6,399.9 L780.5,407.5 L781.4,402.2 L782.3,386.2 L783.2,394.2 L784.1,387.3 L784.1,419.8 L783.2,421.4 L782.3,413.7 L781.4,428.1 L780.5,433.7 L779.6,424.0 L778.7,431.7 L777.7,423.9 L776.8,418.4 L775.9,432.2 L775.0,409.5 L774.1,415.3 L773.2,423.6 L772.3,430.6 L771.4,423.5 L770.5,413.5 L769.6,429.2 L768.7,426.7 L767.8,423.9 L766.9,432.7 L766.0,442.9 L765.0,414.5 L764.1,426.4 L763.2,425.5 L762.3,420.9 L761.4,433.0 L760.5,419.4 L759.6,411.3 L758.7,421.7 L757.8,417.1 L756.9,414.4 L756.0,416.7 L755.1,416.1 L754.2,420.7 L753.2,425.2 L752.3,432.6 L751.4,426.9 L750.5,428.7 L749.6,421.3 L748.7,419.4 L747.8,435.0 L746.9,412.5 L746.0,420.4 L745.1,428.4 L744.2,428.7 L743.3,424.2 L742.4,415.2 L741.4,420.7 L740.5,427.2 L739.6,423.1 L738.7,425.1 L737.8,426.6 L736.9,430.2 L736.0,440.6 L735.1,429.2 L734.2,406.0 L733.3,415.1 L732.4,426.6 L731.5,418.6 L730.6,424.4 L729.6,419.7 L728.7,416.6 L727.8,418.8 L726.9,417.0 L726.0,430.1 L725.1,418.3 L724.2,425.4 L723.3,412.5 L722.4,413.6 L721.5,416.2 L720.6,419.5 L719.7,427.1 L718.8,419.2 L717.9,414.8 L716.9,410.8 L716.0,415.4 L715.1,418.0 L714.2,423.6 L713.3,422.5 L712.4,421.6 L711.5,418.8 L710.6,417.6 L709.7,430.5 L708.8,429.1 L707.9,420.7 L707.0,427.3 L706.1,433.3 L705.1,426.9 L704.2,423.7 L703.3,431.4 L702.4,427.0 L701.5,431.7 L700.6,417.5 L699.7,422.3 L698.8,420.6 L697.9,419.7 L697.0,421.4 L696.1,418.3 L695.2,423.4 L694.3,425.9 L693.4,419.5 L692.4,428.8 L691.5,429.9 L690.6,430.0 L689.7,423.6 L688.8,417.4 L687.9,433.6 L687.0,425.3 L686.1,427.6 L685.2,426.2 L684.3,435.3 L683.4,421.4 L682.5,424.5 L681.6,417.1 L680.6,428.9 L679.7,426.6 L678.8,417.7 L677.9,431.9 L677.0,417.7 L676.1,420.2 L675.2,417.4 L674.3,407.1 L673.4,419.1 L672.5,419.2 L671.6,427.8 L670.7,420.4 L669.8,425.4 L668.8,415.9 L667.9,426.7 L667.0,427.2 L666.1,424.0 L665.2,425.3 L664.3,438.5 L663.4,429.1 L662.5,427.2 L661.6,427.3 L660.7,432.8 L659.8,426.1 L658.9,442.1 L658.0,417.9 L657.1,434.7 L656.1,431.4 L655.2,427.3 L654.3,427.7 L653.4,423.2 L652.5,416.4 L651.6,425.5 L650.7,414.5 L649.8,412.6 L648.9,423.4 L648.0,431.4 L647.1,430.7 L646.2,427.3 L645.3,422.2 L644.3,430.3 L643.4,419.5 L642.5,432.2 L641.6,438.9 L640.7,427.0 L639.8,424.7 L638.9,436.1 L638.0,423.7 L637.1,424.3 L636.2,423.6 L635.3,421.6 L634.4,426.7 L633.5,412.6 L632.5,418.6 L631.6,416.3 L630.7,424.0 L629.8,425.7 L628.9,428.2 L628.0,412.8 L627.1,427.1 L626.2,428.0 L625.3,428.4 L624.4,430.0 L623.5,425.3 L622.6,424.8 L621.7,418.3 L620.8,424.1 L619.8,418.0 L618.9,424.9 L618.0,427.3 L617.1,411.1 L616.2,430.3 L615.3,427.2 L614.4,424.4 L613.5,429.7 L612.6,431.4 L611.7,420.0 L610.8,429.7 L609.9,420.4 L609.0,419.1 L608.0,432.0 L607.1,415.0 L606.2,415.8 L605.3,424.4 L604.4,424.7 L603.5,407.3 L602.6,420.8Z" fill="#ff00ff" fill-opacity="0.3" stroke="#ff00ff" stroke-opacity="0.3" stroke-width="0.7"/>
<path d="M602.6,408.7 L603.5,390.6 L604.4,412.7 L605.3,411.3 L606.2,401.0 L607.1,400.7 L608.0,420.3 L609.0,407.4 L609.9,404.5 L610.8,417.5 L611.7,407.2 L612.6,415.1 L613.5,417.4 L614.4,413.2 L615.3,413.4 L616.2,418.3 L617.1,396.9 L618.0,412.1 L618.9,413.8 L619.8,405.1 L620.8,411.0 L621.7,403.4 L622.6,413.2 L623.5,410.1 L624.4,412.2 L625.3,411.1 L626.2,412.7 L627.1,411.5 L628.0,400.6 L628.9,413.6 L629.8,412.2 L630.7,410.4 L631.6,404.5 L632.5,404.9 L633.5,401.2 L634.4,413.8 L635.3,405.0 L636.2,409.2 L637.1,411.5 L638.0,410.5 L638.9,424.5 L639.8,413.2 L640.7,415.5 L641.6,426.3 L642.5,419.0 L643.4,408.1 L644.3,418.0 L645.3,410.9 L646.2,414.3 L647.1,416.3 L648.0,415.6 L648.9,411.2 L649.8,400.0 L650.7,401.4 L651.6,411.0 L652.5,403.0 L653.4,411.3 L654.3,416.3 L655.2,411.6 L656.1,419.5 L657.1,422.9 L658.0,406.1 L658.9,423.8 L659.8,409.8 L660.7,421.4 L661.6,412.4 L662.5,413.1 L663.4,414.2 L664.3,423.9 L665.2,411.6 L666.1,410.9 L667.0,415.5 L667.9,410.4 L668.8,403.9 L669.8,413.5 L670.7,407.8 L671.6,416.1 L672.5,407.5 L673.4,406.3 L674.3,395.9 L675.2,405.2 L676.1,408.1 L677.0,402.7 L677.9,416.7 L678.8,405.1 L679.7,414.6 L680.6,415.2 L681.6,405.6 L682.5,410.6 L683.4,404.1 L684.3,420.0 L685.2,409.9 L686.1,414.3 L687.0,412.7 L687.9,422.0 L688.8,405.5 L689.7,409.5 L690.6,416.3 L691.5,418.2 L692.4,415.3 L693.4,402.1 L694.3,410.5 L695.2,411.6 L696.1,406.6 L697.0,409.2 L697.9,408.1 L698.8,405.7 L699.7,408.7 L700.6,406.1 L701.5,418.5 L702.4,411.9 L703.3,414.8 L704.2,412.6 L705.1,414.0 L706.1,417.9 L707.0,415.6 L707.9,407.1 L708.8,414.7 L709.7,417.7 L710.6,406.1 L711.5,403.2 L712.4,409.5 L713.3,406.5 L714.2,411.2 L715.1,406.8 L716.0,398.6 L716.9,399.5 L717.9,403.4 L718.8,406.5 L719.7,415.0 L720.6,404.6 L721.5,404.5 L722.4,401.8 L723.3,397.0 L724.2,407.0 L725.1,404.2 L726.0,416.5 L726.9,403.7 L727.8,406.1 L728.7,403.7 L729.6,408.1 L730.6,409.9 L731.5,404.0 L732.4,411.3 L733.3,398.9 L734.2,391.4 L735.1,414.0 L736.0,425.3 L736.9,414.7 L737.8,414.9 L738.7,410.5 L739.6,408.8 L740.5,415.2 L741.4,407.4 L742.4,402.9 L743.3,411.8 L744.2,411.8 L745.1,417.0 L746.0,406.4 L746.9,400.3 L747.8,419.7 L748.7,408.0 L749.6,406.8 L750.5,414.2 L751.4,412.2 L752.3,415.2 L753.2,412.8 L754.2,406.5 L755.1,402.8 L756.0,404.9 L756.9,399.8 L757.8,402.6 L758.7,410.1 L759.6,400.0 L760.5,406.3 L761.4,418.6 L762.3,404.1 L763.2,411.0 L764.1,412.4 L765.0,401.8 L766.0,426.5 L766.9,420.9 L767.8,407.3 L768.7,412.2 L769.6,415.7 L770.5,401.3 L771.4,406.7 L772.3,416.3 L773.2,412.4 L774.1,403.4 L775.0,397.6 L775.9,419.1 L776.8,407.0 L777.7,411.2 L778.7,419.6 L779.6,411.3 L780.5,420.1 L781.4,414.7 L782.3,402.0 L783.2,407.8 L784.1,405.8" fill="none" stroke="#ff00ff" stroke-width="1.3" stroke-linejoin="round"/>
<path d="M602.6,373.5 L603.5,381.9 L604.4,389.7 L605.3,399.6 L606.2,407.9 L607.1,416.2 L608.0,423.1 L609.0,427.7 L609.9,436.0 L610.8,439.2 L611.7,448.4 L612.6,451.8 L613.5,456.8 L614.4,462.8 L615.3,468.1 L616.2,471.8 L617.1,476.1 L618.0,480.5 L618.9,485.3 L619.8,487.8 L620.8,488.9 L621.7,494.0 L622.6,494.5 L623.5,500.9 L624.4,501.0 L625.3,504.8 L626.2,503.6 L627.1,510.7 L628.0,511.6 L628.9,514.1 L629.8,516.4 L630.7,516.3 L631.6,518.8 L632.5,520.1 L633.5,522.1 L634.4,523.2 L635.3,525.9 L636.2,526.8 L637.1,527.8 L638.0,529.4 L638.9,529.6 L639.8,530.6 L640.7,532.1 L641.6,532.6 L642.5,531.8 L643.4,530.8 L644.3,533.4 L645.3,534.2 L646.2,534.1 L647.1,536.4 L648.0,537.1 L648.9,537.8 L649.8,539.9 L650.7,539.2 L651.6,539.4 L652.5,541.7 L653.4,541.9 L654.3,541.6 L655.2,540.1 L656.1,542.9 L657.1,543.7 L658.0,543.8 L658.9,543.5 L659.8,542.3 L660.7,545.4 L661.6,542.6 L662.5,544.4 L663.4,546.8 L664.3,545.2 L665.2,546.9 L666.1,548.5 L667.0,545.8 L667.9,548.4 L668.8,548.2 L669.8,549.3 L670.7,547.9 L671.6,548.6 L672.5,549.6 L673.4,550.2 L674.3,549.7 L675.2,549.4 L676.1,551.7 L677.0,548.0 L677.9,548.6 L678.8,549.8 L679.7,550.3 L680.6,549.1 L681.6,546.0 L682.5,548.4 L683.4,546.6 L684.3,547.1 L685.2,546.3 L686.1,545.8 L687.0,547.5 L687.9,546.5 L688.8,547.1 L689.7,548.1 L690.6,548.4 L691.5,547.6 L692.4,546.8 L693.4,548.2 L694.3,546.3 L695.2,548.3 L696.1,548.3 L697.0,549.7 L697.9,549.1 L698.8,550.5 L699.7,549.6 L700.6,552.0 L701.5,551.4 L702.4,551.2 L703.3,552.1 L704.2,550.9 L705.1,550.6 L706.1,549.4 L707.0,553.5 L707.9,552.2 L708.8,553.0 L709.7,552.5 L710.6,551.3 L711.5,550.8 L712.4,550.4 L713.3,551.0 L714.2,550.4 L715.1,550.7 L716.0,550.0 L716.9,550.2 L717.9,551.4 L718.8,548.5 L719.7,549.6 L720.6,550.3 L721.5,547.3 L722.4,548.2 L723.3,548.4 L724.2,548.9 L725.1,549.4 L726.0,547.3 L726.9,548.6 L727.8,548.5 L728.7,547.6 L729.6,547.9 L730.6,548.5 L731.5,550.5 L732.4,549.5 L733.3,549.1 L734.2,550.1 L735.1,549.3 L736.0,549.0 L736.9,550.8 L737.8,550.7 L738.7,552.5 L739.6,552.4 L740.5,552.6 L741.4,552.6 L742.4,553.3 L743.3,552.3 L744.2,551.6 L745.1,550.9 L746.0,550.4 L746.9,549.9 L747.8,549.9 L748.7,549.6 L749.6,550.6 L750.5,551.8 L751.4,551.7 L752.3,550.6 L753.2,555.0 L754.2,554.1 L755.1,552.8 L756.0,553.0 L756.9,552.9 L757.8,550.8 L758.7,554.1 L759.6,552.6 L760.5,554.0 L761.4,552.8 L762.3,554.1 L763.2,552.1 L764.1,549.0 L765.0,549.8 L766.0,547.1 L766.9,546.7 L767.8,546.4 L768.7,544.9 L769.6,547.0 L770.5,546.5 L771.4,546.4 L772.3,548.7 L773.2,548.3 L774.1,548.7 L775.0,547.8 L775.9,549.1 L776.8,549.3 L777.7,549.7 L778.7,550.3 L779.6,550.3 L780.5,548.7 L781.4,549.5 L782.3,548.6 L783.2,549.1 L784.1,548.5 L784.1,558.1 L783.2,558.4 L782.3,558.1 L781.4,560.5 L780.5,559.0 L779.6,558.5 L778.7,559.0 L777.7,560.5 L776.8,558.4 L775.9,557.3 L775.0,558.1 L774.1,557.0 L773.2,557.6 L772.3,557.9 L771.4,557.4 L770.5,555.8 L769.6,556.1 L768.7,555.5 L767.8,554.4 L766.9,555.4 L766.0,557.4 L765.0,558.1 L764.1,557.9 L763.2,561.8 L762.3,563.1 L761.4,562.1 L760.5,563.9 L759.6,561.7 L758.7,562.7 L757.8,561.9 L756.9,563.2 L756.0,561.2 L755.1,562.1 L754.2,562.5 L753.2,563.1 L752.3,560.7 L751.4,559.9 L750.5,562.5 L749.6,559.2 L748.7,559.6 L747.8,558.4 L746.9,558.3 L746.0,559.7 L745.1,560.3 L744.2,561.0 L743.3,562.8 L742.4,561.9 L741.4,562.5 L740.5,562.4 L739.6,561.1 L738.7,561.2 L737.8,561.8 L736.9,561.2 L736.0,557.9 L735.1,559.6 L734.2,558.3 L733.3,559.0 L732.4,559.0 L731.5,560.1 L730.6,557.1 L729.6,558.0 L728.7,556.7 L727.8,556.5 L726.9,557.8 L726.0,559.1 L725.1,558.6 L724.2,556.7 L723.3,559.3 L722.4,560.3 L721.5,556.7 L720.6,559.3 L719.7,558.7 L718.8,559.7 L717.9,560.3 L716.9,559.6 L716.0,559.4 L715.1,561.0 L714.2,561.3 L713.3,563.6 L712.4,561.3 L711.5,560.7 L710.6,560.4 L709.7,562.1 L708.8,561.5 L707.9,562.0 L707.0,562.7 L706.1,560.1 L705.1,561.2 L704.2,561.2 L703.3,560.5 L702.4,560.2 L701.5,561.0 L700.6,560.7 L699.7,559.1 L698.8,560.8 L697.9,559.4 L697.0,561.4 L696.1,558.5 L695.2,558.1 L694.3,558.1 L693.4,557.6 L692.4,557.0 L691.5,557.4 L690.6,558.5 L689.7,557.7 L688.8,556.8 L687.9,557.5 L687.0,557.1 L686.1,556.8 L685.2,556.0 L684.3,557.0 L683.4,558.0 L682.5,556.8 L681.6,556.6 L680.6,558.1 L679.7,559.1 L678.8,559.0 L677.9,558.9 L677.0,559.5 L676.1,560.9 L675.2,559.7 L674.3,560.9 L673.4,560.7 L672.5,560.5 L671.6,559.4 L670.7,558.4 L669.8,559.5 L668.8,558.0 L667.9,558.6 L667.0,557.6 L666.1,558.5 L665.2,556.2 L664.3,556.5 L663.4,558.3 L662.5,555.7 L661.6,554.7 L660.7,555.9 L659.8,554.1 L658.9,555.7 L658.0,553.5 L657.1,555.1 L656.1,553.9 L655.2,552.3 L654.3,551.1 L653.4,552.0 L652.5,552.6 L651.6,549.3 L650.7,550.0 L649.8,550.2 L648.9,549.8 L648.0,547.4 L647.1,547.9 L646.2,545.8 L645.3,547.3 L644.3,544.3 L643.4,543.2 L642.5,543.0 L641.6,544.1 L640.7,542.4 L639.8,541.8 L638.9,540.4 L638.0,541.1 L637.1,539.3 L636.2,538.2 L635.3,538.8 L634.4,535.6 L633.5,534.3 L632.5,534.0 L631.6,531.5 L630.7,529.4 L629.8,527.8 L628.9,527.1 L628.0,524.4 L627.1,524.0 L626.2,520.9 L625.3,518.4 L624.4,517.0 L623.5,514.1 L622.6,510.3 L621.7,506.9 L620.8,504.4 L619.8,502.2 L618.9,499.0 L618.0,494.4 L617.1,491.2 L616.2,487.5 L615.3,482.4 L614.4,478.6 L613.5,473.3 L612.6,467.7 L611.7,463.7 L610.8,457.1 L609.9,452.4 L609.0,445.3 L608.0,438.8 L607.1,432.5 L606.2,424.2 L605.3,417.6 L604.4,409.0 L603.5,401.8 L602.6,391.7Z" fill="#0000ff" fill-opacity="0.3" stroke="#0000ff" stroke-opacity="0.3" stroke-width="0.7"/>
<path d="M602.6,382.4 L603.5,391.2 L604.4,399.9 L605.3,408.7 L606.2,416.0 L607.1,424.3 L608.0,431.0 L609.0,437.0 L609.9,443.8 L610.8,449.4 L611.7,455.9 L612.6,459.8 L613.5,466.0 L614.4,470.2 L615.3,475.0 L616.2,478.7 L617.1,483.5 L618.0,487.7 L618.9,491.9 L619.8,494.4 L620.8,498.2 L621.7,500.3 L622.6,502.8 L623.5,507.9 L624.4,510.1 L625.3,511.7 L626.2,513.6 L627.1,516.4 L628.0,518.5 L628.9,520.3 L629.8,522.1 L630.7,523.2 L631.6,525.4 L632.5,528.0 L633.5,528.9 L634.4,529.8 L635.3,531.6 L636.2,532.4 L637.1,533.6 L638.0,534.6 L638.9,534.7 L639.8,536.1 L640.7,537.2 L641.6,537.6 L642.5,537.8 L643.4,537.2 L644.3,539.1 L645.3,539.2 L646.2,540.6 L647.1,542.9 L648.0,542.2 L648.9,543.7 L649.8,544.7 L650.7,545.2 L651.6,544.2 L652.5,546.8 L653.4,546.7 L654.3,546.1 L655.2,546.9 L656.1,548.7 L657.1,548.2 L658.0,548.9 L658.9,549.1 L659.8,548.9 L660.7,550.0 L661.6,550.2 L662.5,549.5 L663.4,551.9 L664.3,551.4 L665.2,551.3 L666.1,552.7 L667.0,552.8 L667.9,553.5 L668.8,553.0 L669.8,553.8 L670.7,553.3 L671.6,553.5 L672.5,554.4 L673.4,555.0 L674.3,554.9 L675.2,555.3 L676.1,556.3 L677.0,554.6 L677.9,554.8 L678.8,554.1 L679.7,555.0 L680.6,553.3 L681.6,552.2 L682.5,552.7 L683.4,553.6 L684.3,552.3 L685.2,552.0 L686.1,551.4 L687.0,551.8 L687.9,551.6 L688.8,552.3 L689.7,552.0 L690.6,552.7 L691.5,552.4 L692.4,552.0 L693.4,553.1 L694.3,552.8 L695.2,554.1 L696.1,554.1 L697.0,554.4 L697.9,553.8 L698.8,555.3 L699.7,554.5 L700.6,556.4 L701.5,556.0 L702.4,555.7 L703.3,556.1 L704.2,557.1 L705.1,557.3 L706.1,556.1 L707.0,557.4 L707.9,556.3 L708.8,557.0 L709.7,556.7 L710.6,555.4 L711.5,555.9 L712.4,556.1 L713.3,557.1 L714.2,555.8 L715.1,555.7 L716.0,555.5 L716.9,554.3 L717.9,555.9 L718.8,554.4 L719.7,554.2 L720.6,554.4 L721.5,552.6 L722.4,554.1 L723.3,553.1 L724.2,552.7 L725.1,554.1 L726.0,553.7 L726.9,553.5 L727.8,552.6 L728.7,552.6 L729.6,552.9 L730.6,553.2 L731.5,554.9 L732.4,553.8 L733.3,554.6 L734.2,554.0 L735.1,554.2 L736.0,554.1 L736.9,555.3 L737.8,555.6 L738.7,557.1 L739.6,556.8 L740.5,557.9 L741.4,557.0 L742.4,558.0 L743.3,556.8 L744.2,556.5 L745.1,555.6 L746.0,554.4 L746.9,554.3 L747.8,554.3 L748.7,555.5 L749.6,554.7 L750.5,556.4 L751.4,556.0 L752.3,555.9 L753.2,559.1 L754.2,558.3 L755.1,557.8 L756.0,557.0 L756.9,558.0 L757.8,557.5 L758.7,558.1 L759.6,557.3 L760.5,558.4 L761.4,556.7 L762.3,558.1 L763.2,556.6 L764.1,553.6 L765.0,553.7 L766.0,553.5 L766.9,550.8 L767.8,550.6 L768.7,550.2 L769.6,551.5 L770.5,551.2 L771.4,551.6 L772.3,553.3 L773.2,552.3 L774.1,553.1 L775.0,552.6 L775.9,552.9 L776.8,554.4 L777.7,554.7 L778.7,554.6 L779.6,554.7 L780.5,555.0 L781.4,554.4 L782.3,553.6 L783.2,553.4 L784.1,552.6" fill="none" stroke="#0000ff" stroke-width="1.6" stroke-linejoin="round"/>
<path d="M602.6,372.8 L603.5,380.3 L604.4,388.1 L605.3,392.8 L606.2,398.4 L607.1,403.6 L608.0,410.3 L609.0,417.0 L609.9,421.0 L610.8,422.6 L611.7,429.3 L612.6,435.1 L613.5,438.4 L614.4,443.2 L615.3,448.8 L616.2,451.6 L617.1,454.8 L618.0,458.7 L618.9,461.0 L619.8,464.6 L620.8,468.0 L621.7,470.9 L622.6,472.9 L623.5,476.0 L624.4,479.7 L625.3,482.5 L626.2,485.2 L627.1,486.8 L628.0,487.2 L628.9,491.0 L629.8,492.4 L630.7,494.8 L631.6,497.4 L632.5,498.1 L633.5,500.8 L634.4,502.0 L635.3,503.5 L636.2,505.6 L637.1,505.4 L638.0,508.1 L638.9,509.4 L639.8,510.9 L640.7,512.1 L641.6,512.4 L642.5,513.5 L643.4,514.7 L644.3,516.0 L645.3,517.0 L646.2,517.4 L647.1,519.1 L648.0,519.3 L648.9,519.4 L649.8,522.0 L650.7,522.5 L651.6,524.6 L652.5,520.9 L653.4,523.1 L654.3,525.4 L655.2,523.9 L656.1,525.7 L657.1,524.9 L658.0,527.3 L658.9,526.8 L659.8,527.7 L660.7,526.2 L661.6,526.3 L662.5,530.0 L663.4,528.6 L664.3,530.4 L665.2,529.0 L666.1,531.1 L667.0,531.4 L667.9,532.3 L668.8,532.9 L669.8,533.7 L670.7,533.7 L671.6,534.3 L672.5,533.7 L673.4,535.0 L674.3,535.0 L675.2,534.7 L676.1,535.0 L677.0,535.4 L677.9,538.3 L678.8,536.3 L679.7,535.4 L680.6,535.3 L681.6,533.8 L682.5,535.4 L683.4,535.0 L684.3,534.7 L685.2,533.9 L686.1,532.6 L687.0,533.5 L687.9,534.6 L688.8,534.5 L689.7,534.7 L690.6,533.6 L691.5,535.3 L692.4,537.9 L693.4,537.1 L694.3,539.3 L695.2,534.8 L696.1,538.4 L697.0,537.2 L697.9,538.0 L698.8,540.6 L699.7,538.7 L700.6,538.3 L701.5,540.5 L702.4,541.2 L703.3,541.6 L704.2,541.7 L705.1,540.7 L706.1,542.3 L707.0,543.1 L707.9,542.9 L708.8,543.1 L709.7,541.8 L710.6,543.2 L711.5,541.0 L712.4,543.0 L713.3,540.8 L714.2,541.3 L715.1,539.6 L716.0,540.5 L716.9,540.6 L717.9,540.4 L718.8,539.7 L719.7,539.2 L720.6,538.9 L721.5,537.6 L722.4,537.0 L723.3,536.9 L724.2,536.1 L725.1,537.1 L726.0,538.2 L726.9,538.3 L727.8,538.6 L728.7,536.0 L729.6,540.6 L730.6,539.1 L731.5,540.9 L732.4,542.2 L733.3,541.9 L734.2,542.0 L735.1,540.3 L736.0,541.0 L736.9,543.6 L737.8,542.5 L738.7,541.0 L739.6,545.3 L740.5,543.8 L741.4,545.5 L742.4,546.0 L743.3,544.7 L744.2,545.2 L745.1,543.4 L746.0,543.0 L746.9,542.3 L747.8,542.3 L748.7,541.2 L749.6,542.8 L750.5,544.2 L751.4,542.7 L752.3,546.5 L753.2,545.6 L754.2,546.0 L755.1,544.9 L756.0,544.2 L756.9,543.8 L757.8,543.3 L758.7,541.0 L759.6,543.0 L760.5,541.9 L761.4,541.1 L762.3,538.9 L763.2,538.8 L764.1,539.5 L765.0,539.0 L766.0,538.3 L766.9,537.2 L767.8,536.3 L768.7,537.5 L769.6,537.6 L770.5,538.4 L771.4,539.8 L772.3,539.4 L773.2,540.1 L774.1,539.8 L775.0,541.2 L775.9,540.7 L776.8,542.0 L777.7,544.2 L778.7,543.5 L779.6,543.0 L780.5,543.1 L781.4,542.3 L782.3,539.9 L783.2,542.3 L784.1,540.4 L784.1,550.2 L783.2,551.7 L782.3,551.1 L781.4,551.2 L780.5,552.7 L779.6,552.0 L778.7,551.7 L777.7,552.2 L776.8,551.3 L775.9,550.0 L775.0,550.0 L774.1,549.5 L773.2,548.5 L772.3,549.4 L771.4,547.9 L770.5,548.4 L769.6,548.0 L768.7,547.3 L767.8,546.6 L766.9,546.1 L766.0,547.2 L765.0,547.1 L764.1,550.3 L763.2,550.0 L762.3,550.6 L761.4,549.4 L760.5,551.3 L759.6,550.9 L758.7,551.9 L757.8,551.6 L756.9,552.7 L756.0,553.4 L755.1,555.0 L754.2,555.4 L753.2,554.3 L752.3,555.3 L751.4,554.1 L750.5,553.5 L749.6,553.3 L748.7,555.2 L747.8,551.5 L746.9,550.1 L746.0,553.1 L745.1,552.4 L744.2,554.6 L743.3,555.1 L742.4,554.4 L741.4,555.4 L740.5,552.5 L739.6,553.3 L738.7,551.4 L737.8,550.7 L736.9,552.3 L736.0,550.5 L735.1,550.7 L734.2,550.4 L733.3,551.2 L732.4,552.0 L731.5,550.1 L730.6,550.2 L729.6,550.4 L728.7,546.4 L727.8,548.0 L726.9,547.9 L726.0,548.9 L725.1,546.7 L724.2,545.4 L723.3,546.0 L722.4,547.3 L721.5,548.7 L720.6,548.7 L719.7,547.3 L718.8,549.5 L717.9,548.9 L716.9,550.0 L716.0,549.4 L715.1,549.7 L714.2,549.5 L713.3,550.7 L712.4,551.8 L711.5,550.5 L710.6,551.4 L709.7,550.6 L708.8,551.3 L707.9,552.3 L707.0,551.8 L706.1,552.6 L705.1,550.8 L704.2,551.9 L703.3,551.7 L702.4,549.6 L701.5,550.5 L700.6,548.3 L699.7,549.4 L698.8,549.0 L697.9,547.5 L697.0,547.2 L696.1,547.5 L695.2,545.9 L694.3,549.3 L693.4,546.1 L692.4,546.7 L691.5,546.6 L690.6,543.8 L689.7,544.0 L688.8,544.9 L687.9,543.7 L687.0,543.8 L686.1,544.8 L685.2,544.1 L684.3,543.5 L683.4,543.6 L682.5,545.4 L681.6,544.1 L680.6,544.8 L679.7,546.0 L678.8,548.0 L677.9,547.5 L677.0,547.3 L676.1,546.3 L675.2,545.1 L674.3,545.0 L673.4,546.3 L672.5,545.1 L671.6,543.6 L670.7,542.8 L669.8,542.2 L668.8,542.0 L667.9,542.9 L667.0,541.7 L666.1,540.0 L665.2,540.5 L664.3,540.2 L663.4,539.0 L662.5,541.2 L661.6,537.9 L660.7,537.5 L659.8,537.1 L658.9,537.2 L658.0,537.3 L657.1,536.2 L656.1,535.8 L655.2,534.9 L654.3,535.7 L653.4,535.7 L652.5,534.1 L651.6,534.2 L650.7,532.5 L649.8,532.6 L648.9,532.8 L648.0,530.4 L647.1,530.2 L646.2,527.6 L645.3,527.0 L644.3,527.2 L643.4,526.6 L642.5,524.5 L641.6,522.9 L640.7,523.0 L639.8,521.9 L638.9,520.5 L638.0,519.8 L637.1,518.1 L636.2,517.1 L635.3,514.6 L634.4,515.1 L633.5,513.1 L632.5,509.2 L631.6,509.4 L630.7,506.9 L629.8,505.8 L628.9,504.7 L628.0,502.5 L627.1,499.8 L626.2,497.7 L625.3,495.1 L624.4,493.2 L623.5,492.3 L622.6,488.3 L621.7,485.4 L620.8,482.0 L619.8,477.7 L618.9,478.1 L618.0,474.0 L617.1,469.3 L616.2,466.8 L615.3,463.2 L614.4,459.6 L613.5,454.8 L612.6,451.8 L611.7,445.0 L610.8,442.7 L609.9,438.3 L609.0,434.3 L608.0,427.3 L607.1,420.7 L606.2,415.4 L605.3,410.0 L604.4,406.0 L603.5,397.9 L602.6,390.9Z" fill="#ff0000" fill-opacity="0.3" stroke="#ff0000" stroke-opacity="0.3" stroke-width="0.7"/>
<path d="M602.6,382.2 L603.5,389.0 L604.4,396.4 L605.3,401.6 L606.2,407.5 L607.1,412.9 L608.0,419.0 L609.0,424.8 L609.9,429.1 L610.8,434.4 L611.7,437.4 L612.6,443.3 L613.5,447.5 L614.4,451.2 L615.3,455.8 L616.2,459.0 L617.1,462.4 L618.0,466.0 L618.9,469.2 L619.8,471.4 L620.8,474.9 L621.7,478.9 L622.6,481.2 L623.5,483.3 L624.4,486.9 L625.3,488.9 L626.2,491.4 L627.1,493.3 L628.0,495.8 L628.9,497.8 L629.8,500.1 L630.7,501.2 L631.6,503.6 L632.5,503.6 L633.5,506.3 L634.4,508.0 L635.3,508.9 L636.2,510.9 L637.1,512.1 L638.0,513.5 L638.9,515.2 L639.8,516.5 L640.7,517.5 L641.6,517.5 L642.5,519.5 L643.4,520.6 L644.3,521.7 L645.3,522.1 L646.2,522.4 L647.1,525.1 L648.0,525.3 L648.9,526.5 L649.8,527.5 L650.7,527.6 L651.6,529.3 L652.5,528.5 L653.4,529.4 L654.3,530.6 L655.2,529.5 L656.1,530.3 L657.1,530.5 L658.0,532.4 L658.9,532.0 L659.8,532.6 L660.7,532.5 L661.6,532.6 L662.5,535.0 L663.4,534.3 L664.3,534.9 L665.2,534.6 L666.1,535.7 L667.0,536.8 L667.9,536.6 L668.8,537.4 L669.8,537.9 L670.7,538.1 L671.6,539.1 L672.5,539.4 L673.4,541.2 L674.3,539.6 L675.2,540.9 L676.1,541.8 L677.0,542.8 L677.9,543.1 L678.8,542.1 L679.7,541.4 L680.6,539.7 L681.6,540.0 L682.5,540.8 L683.4,539.5 L684.3,539.2 L685.2,539.6 L686.1,538.6 L687.0,538.8 L687.9,539.3 L688.8,540.0 L689.7,539.9 L690.6,539.6 L691.5,541.5 L692.4,542.1 L693.4,541.2 L694.3,543.6 L695.2,541.2 L696.1,543.0 L697.0,542.6 L697.9,542.4 L698.8,544.7 L699.7,544.9 L700.6,543.3 L701.5,545.3 L702.4,545.6 L703.3,545.8 L704.2,545.7 L705.1,546.0 L706.1,546.9 L707.0,547.3 L707.9,547.2 L708.8,547.1 L709.7,546.6 L710.6,547.3 L711.5,546.4 L712.4,547.7 L713.3,546.4 L714.2,545.1 L715.1,544.9 L716.0,545.0 L716.9,545.2 L717.9,544.6 L718.8,543.8 L719.7,543.2 L720.6,543.1 L721.5,543.5 L722.4,542.7 L723.3,541.5 L724.2,541.0 L725.1,542.7 L726.0,542.6 L726.9,543.9 L727.8,543.8 L728.7,541.9 L729.6,544.5 L730.6,545.3 L731.5,545.7 L732.4,546.3 L733.3,546.9 L734.2,546.0 L735.1,546.4 L736.0,545.6 L736.9,547.6 L737.8,546.6 L738.7,546.6 L739.6,549.2 L740.5,548.4 L741.4,550.4 L742.4,549.8 L743.3,549.8 L744.2,549.6 L745.1,548.4 L746.0,547.9 L746.9,546.3 L747.8,546.2 L748.7,547.5 L749.6,548.1 L750.5,548.3 L751.4,548.6 L752.3,550.6 L753.2,550.2 L754.2,551.2 L755.1,550.2 L756.0,549.0 L756.9,548.6 L757.8,547.2 L758.7,547.8 L759.6,546.9 L760.5,546.7 L761.4,545.5 L762.3,544.9 L763.2,544.5 L764.1,544.5 L765.0,543.3 L766.0,542.9 L766.9,541.7 L767.8,542.4 L768.7,542.0 L769.6,542.9 L770.5,544.6 L771.4,543.9 L772.3,545.1 L773.2,544.0 L774.1,544.1 L775.0,545.4 L775.9,545.6 L776.8,547.2 L777.7,548.2 L778.7,547.7 L779.6,548.0 L780.5,548.4 L781.4,547.2 L782.3,546.7 L783.2,546.3 L784.1,545.4" fill="none" stroke="#ff0000" stroke-width="1.6" stroke-linejoin="round"/>
</g>
<rect x="593.5" y="372.4" width="199.7" height="202.2" fill="none" stroke="#1e1e1e" stroke-width="1.3"/>
<g font-family="Liberation Sans, sans-serif">
<text transform="translate(41.9,215.9) scale(1.0,1)" font-size="11.0" text-anchor="end" fill="#333333" >0.00</text>
<text transform="translate(41.9,188.6) scale(1.0,1)" font-size="11.0" text-anchor="end" fill="#333333" >0.25</text>
<text transform="translate(41.9,161.4) scale(1.0,1)" font-size="11.0" text-anchor="end" fill="#333333" >0.50</text>
<text transform="translate(41.9,134.1) scale(1.0,1)" font-size="11.0" text-anchor="end" fill="#333333" >0.75</text>
<text transform="translate(41.9,106.9) scale(1.0,1)" font-size="11.0" text-anchor="end" fill="#333333" >1.00</text>
<text transform="translate(41.9,79.6) scale(1.0,1)" font-size="11.0" text-anchor="end" fill="#333333" >1.25</text>
<text transform="translate(41.9,52.4) scale(1.0,1)" font-size="11.0" text-anchor="end" fill="#333333" >1.50</text>
<text transform="translate(41.9,25.1) scale(1.0,1)" font-size="11.0" text-anchor="end" fill="#333333" >1.75</text>
<text transform="translate(55.3,232.6) scale(1.0,1)" font-size="11.0" text-anchor="middle" fill="#333333" >0</text>
<text transform="translate(99.1,232.6) scale(1.0,1)" font-size="11.0" text-anchor="middle" fill="#333333" >25</text>
<text transform="translate(142.9,232.6) scale(1.0,1)" font-size="11.0" text-anchor="middle" fill="#333333" >50</text>
<text transform="translate(186.7,232.6) scale(1.0,1)" font-size="11.0" text-anchor="middle" fill="#333333" >75</text>
<text transform="translate(230.5,232.6) scale(1.0,1)" font-size="11.0" text-anchor="middle" fill="#333333" >100</text>
<text transform="translate(142.9,11.5) scale(1.05,1)" font-size="15.2" text-anchor="middle" fill="#333333" >Length = 5</text>
<text transform="translate(142.9,249.7) scale(1.05,1)" font-size="15.2" text-anchor="middle" fill="#333333" >Episodes</text>
<text transform="translate(13.2,119.5) rotate(-90) scale(1.005,1)" font-size="15.6" text-anchor="middle" fill="#333333">MSE on FO states</text>
<text transform="translate(318.8,215.9) scale(1.0,1)" font-size="11.0" text-anchor="end" fill="#333333" >0.00</text>
<text transform="translate(318.8,189.4) scale(1.0,1)" font-size="11.0" text-anchor="end" fill="#333333" >0.25</text>
<text transform="translate(318.8,162.9) scale(1.0,1)" font-size="11.0" text-anchor="end" fill="#333333" >0.50</text>
<text transform="translate(318.8,136.4) scale(1.0,1)" font-size="11.0" text-anchor="end" fill="#333333" >0.75</text>
<text transform="translate(318.8,110.0) scale(1.0,1)" font-size="11.0" text-anchor="end" fill="#333333" >1.00</text>
<text transform="translate(318.8,83.5) scale(1.0,1)" font-size="11.0" text-anchor="end" fill="#333333" >1.25</text>
<text transform="translate(318.8,57.0) scale(1.0,1)" font-size="11.0" text-anchor="end" fill="#333333" >1.50</text>
<text transform="translate(318.8,30.5) scale(1.0,1)" font-size="11.0" text-anchor="end" fill="#333333" >1.75</text>
<text transform="translate(332.1,232.4) scale(1.0,1)" font-size="11.0" text-anchor="middle" fill="#333333" >0</text>
<text transform="translate(375.7,232.4) scale(1.0,1)" font-size="11.0" text-anchor="middle" fill="#333333" >25</text>
<text transform="translate(419.4,232.4) scale(1.0,1)" font-size="11.0" text-anchor="middle" fill="#333333" >50</text>
<text transform="translate(463.0,232.4) scale(1.0,1)" font-size="11.0" text-anchor="middle" fill="#333333" >75</text>
<text transform="translate(506.6,232.4) scale(1.0,1)" font-size="11.0" text-anchor="middle" fill="#333333" >100</text>
<text transform="translate(419.3,11.4) scale(1.05,1)" font-size="15.2" text-anchor="middle" fill="#333333" >Length = 15</text>
<text transform="translate(419.3,249.5) scale(1.05,1)" font-size="15.2" text-anchor="middle" fill="#333333" >Episodes</text>
<text transform="translate(289.4,119.5) rotate(-90) scale(1.005,1)" font-size="15.6" text-anchor="middle" fill="#333333">MSE on FO states</text>
<text transform="translate(594.8,217.9) scale(1.0,1)" font-size="11.0" text-anchor="end" fill="#333333" >0.00</text>
<text transform="translate(594.8,191.1) scale(1.0,1)" font-size="11.0" text-anchor="end" fill="#333333" >0.25</text>
<text transform="translate(594.8,164.4) scale(1.0,1)" font-size="11.0" text-anchor="end" fill="#333333" >0.50</text>
<text transform="translate(594.8,137.6) scale(1.0,1)" font-size="11.0" text-anchor="end" fill="#333333" >0.75</text>
<text transform="translate(594.8,110.9) scale(1.0,1)" font-size="11.0" text-anchor="end" fill="#333333" >1.00</text>
<text transform="translate(594.8,84.1) scale(1.0,1)" font-size="11.0" text-anchor="end" fill="#333333" >1.25</text>
<text transform="translate(594.8,57.4) scale(1.0,1)" font-size="11.0" text-anchor="end" fill="#333333" >1.50</text>
<text transform="translate(594.8,30.6) scale(1.0,1)" font-size="11.0" text-anchor="end" fill="#333333" >1.75</text>
<text transform="translate(608.2,232.5) scale(1.0,1)" font-size="11.0" text-anchor="middle" fill="#333333" >0</text>
<text transform="translate(652.0,232.5) scale(1.0,1)" font-size="11.0" text-anchor="middle" fill="#333333" >25</text>
<text transform="translate(695.8,232.5) scale(1.0,1)" font-size="11.0" text-anchor="middle" fill="#333333" >50</text>
<text transform="translate(739.5,232.5) scale(1.0,1)" font-size="11.0" text-anchor="middle" fill="#333333" >75</text>
<text transform="translate(783.3,232.5) scale(1.0,1)" font-size="11.0" text-anchor="middle" fill="#333333" >100</text>
<text transform="translate(695.8,11.5) scale(1.05,1)" font-size="15.2" text-anchor="middle" fill="#333333" >Length = 25</text>
<text transform="translate(695.8,249.6) scale(1.05,1)" font-size="15.2" text-anchor="middle" fill="#333333" >Episodes</text>
<text transform="translate(567.0,119.5) rotate(-90) scale(1.005,1)" font-size="15.6" text-anchor="middle" fill="#333333">MSE on FO states</text>
<text transform="translate(35.9,565.3) scale(1.0,1)" font-size="11.0" text-anchor="end" fill="#333333" >0.5</text>
<text transform="translate(35.9,542.5) scale(1.0,1)" font-size="11.0" text-anchor="end" fill="#333333" >1.0</text>
<text transform="translate(35.9,519.8) scale(1.0,1)" font-size="11.0" text-anchor="end" fill="#333333" >1.5</text>
<text transform="translate(35.9,497.0) scale(1.0,1)" font-size="11.0" text-anchor="end" fill="#333333" >2.0</text>
<text transform="translate(35.9,474.2) scale(1.0,1)" font-size="11.0" text-anchor="end" fill="#333333" >2.5</text>
<text transform="translate(35.9,451.5) scale(1.0,1)" font-size="11.0" text-anchor="end" fill="#333333" >3.0</text>
<text transform="translate(35.9,428.7) scale(1.0,1)" font-size="11.0" text-anchor="end" fill="#333333" >3.5</text>
<text transform="translate(35.9,406.0) scale(1.0,1)" font-size="11.0" text-anchor="end" fill="#333333" >4.0</text>
<text transform="translate(35.9,383.2) scale(1.0,1)" font-size="11.0" text-anchor="end" fill="#333333" >4.5</text>
<text transform="translate(49.6,586.9) scale(1.0,1)" font-size="11.0" text-anchor="middle" fill="#333333" >0</text>
<text transform="translate(95.0,586.9) scale(1.0,1)" font-size="11.0" text-anchor="middle" fill="#333333" >50</text>
<text transform="translate(140.4,586.9) scale(1.0,1)" font-size="11.0" text-anchor="middle" fill="#333333" >100</text>
<text transform="translate(185.8,586.9) scale(1.0,1)" font-size="11.0" text-anchor="middle" fill="#333333" >150</text>
<text transform="translate(231.2,586.9) scale(1.0,1)" font-size="11.0" text-anchor="middle" fill="#333333" >200</text>
<text transform="translate(140.4,365.9) scale(1.05,1)" font-size="15.2" text-anchor="middle" fill="#333333" >Length = 5</text>
<text transform="translate(140.4,604.0) scale(1.05,1)" font-size="15.2" text-anchor="middle" fill="#333333" >Episodes</text>
<text transform="translate(13.0,473.3) rotate(-90) scale(1.005,1)" font-size="15.6" text-anchor="middle" fill="#333333">MSE on FO states</text>
<text transform="translate(311.9,570.9) scale(1.0,1)" font-size="11.0" text-anchor="end" fill="#333333" >1.0</text>
<text transform="translate(311.9,543.7) scale(1.0,1)" font-size="11.0" text-anchor="end" fill="#333333" >1.5</text>
<text transform="translate(311.9,516.6) scale(1.0,1)" font-size="11.0" text-anchor="end" fill="#333333" >2.0</text>
<text transform="translate(311.9,489.4) scale(1.0,1)" font-size="11.0" text-anchor="end" fill="#333333" >2.5</text>
<text transform="translate(311.9,462.3) scale(1.0,1)" font-size="11.0" text-anchor="end" fill="#333333" >3.0</text>
<text transform="translate(311.9,435.1) scale(1.0,1)" font-size="11.0" text-anchor="end" fill="#333333" >3.5</text>
<text transform="translate(311.9,408.0) scale(1.0,1)" font-size="11.0" text-anchor="end" fill="#333333" >4.0</text>
<text transform="translate(311.9,380.8) scale(1.0,1)" font-size="11.0" text-anchor="end" fill="#333333" >4.5</text>
<text transform="translate(325.6,586.8) scale(1.0,1)" font-size="11.0" text-anchor="middle" fill="#333333" >0</text>
<text transform="translate(371.0,586.8) scale(1.0,1)" font-size="11.0" text-anchor="middle" fill="#333333" >50</text>
<text transform="translate(416.5,586.8) scale(1.0,1)" font-size="11.0" text-anchor="middle" fill="#333333" >100</text>
<text transform="translate(461.9,586.8) scale(1.0,1)" font-size="11.0" text-anchor="middle" fill="#333333" >150</text>
<text transform="translate(507.3,586.8) scale(1.0,1)" font-size="11.0" text-anchor="middle" fill="#333333" >200</text>
<text transform="translate(416.4,365.8) scale(1.05,1)" font-size="15.2" text-anchor="middle" fill="#333333" >Length = 15</text>
<text transform="translate(416.4,603.9) scale(1.05,1)" font-size="15.2" text-anchor="middle" fill="#333333" >Episodes</text>
<text transform="translate(289.7,473.3) rotate(-90) scale(1.005,1)" font-size="15.6" text-anchor="middle" fill="#333333">MSE on FO states</text>
<text transform="translate(588.9,552.0) scale(1.0,1)" font-size="11.0" text-anchor="end" fill="#333333" >1.5</text>
<text transform="translate(588.9,522.8) scale(1.0,1)" font-size="11.0" text-anchor="end" fill="#333333" >2.0</text>
<text transform="translate(588.9,493.7) scale(1.0,1)" font-size="11.0" text-anchor="end" fill="#333333" >2.5</text>
<text transform="translate(588.9,464.5) scale(1.0,1)" font-size="11.0" text-anchor="end" fill="#333333" >3.0</text>
<text transform="translate(588.9,435.3) scale(1.0,1)" font-size="11.0" text-anchor="end" fill="#333333" >3.5</text>
<text transform="translate(588.9,406.2) scale(1.0,1)" font-size="11.0" text-anchor="end" fill="#333333" >4.0</text>
<text transform="translate(588.9,377.0) scale(1.0,1)" font-size="11.0" text-anchor="end" fill="#333333" >4.5</text>
<text transform="translate(602.6,586.9) scale(1.0,1)" font-size="11.0" text-anchor="middle" fill="#333333" >0</text>
<text transform="translate(648.0,586.9) scale(1.0,1)" font-size="11.0" text-anchor="middle" fill="#333333" >50</text>
<text transform="translate(693.4,586.9) scale(1.0,1)" font-size="11.0" text-anchor="middle" fill="#333333" >100</text>
<text transform="translate(738.7,586.9) scale(1.0,1)" font-size="11.0" text-anchor="middle" fill="#333333" >150</text>
<text transform="translate(784.1,586.9) scale(1.0,1)" font-size="11.0" text-anchor="middle" fill="#333333" >200</text>
<text transform="translate(693.4,365.9) scale(1.05,1)" font-size="15.2" text-anchor="middle" fill="#333333" >Length = 25</text>
<text transform="translate(693.4,604.0) scale(1.05,1)" font-size="15.2" text-anchor="middle" fill="#333333" >Episodes</text>
<text transform="translate(567.2,473.3) rotate(-90) scale(1.005,1)" font-size="15.6" text-anchor="middle" fill="#333333">MSE on FO states</text>
</g>
<g font-family="Liberation Sans, sans-serif">
<line x1="117.7" y1="265.5" x2="150.9" y2="265.5" stroke="#0000ff" stroke-width="1.6"/>
<text transform="translate(163.0,270.1) scale(1.05,1)" font-size="15.2" text-anchor="start" fill="#333333" >ETD variable</text>
<line x1="286.8" y1="265.5" x2="319.6" y2="265.5" stroke="#ff00ff" stroke-width="1.6"/>
<text transform="translate(331.8,270.1) scale(1.05,1)" font-size="15.2" text-anchor="start" fill="#333333" >ETD fixed</text>
<line x1="432.7" y1="265.5" x2="465.9" y2="265.5" stroke="#008000" stroke-width="1.6"/>
<text transform="translate(478.0,270.1) scale(1.05,1)" font-size="15.2" text-anchor="start" fill="#333333" >TD(<tspan font-style="italic" dx="0.6">λ</tspan><tspan dx="1.6">)</tspan></text>
<line x1="551.6" y1="265.5" x2="585.0" y2="265.5" stroke="#ff0000" stroke-width="1.6"/>
<text transform="translate(596.3,270.1) scale(1.05,1)" font-size="15.2" text-anchor="start" fill="#333333" >PTD</text>
<line x1="117.7" y1="619.3" x2="150.9" y2="619.3" stroke="#008000" stroke-width="1.6"/>
<text transform="translate(161.5,624.4) scale(1.05,1)" font-size="15.2" text-anchor="start" fill="#333333" >TD(<tspan font-style="italic" dx="0.6">λ</tspan><tspan dx="1.6">)</tspan></text>
<line x1="236.6" y1="619.3" x2="270.0" y2="619.3" stroke="#ff00ff" stroke-width="1.6"/>
<text transform="translate(281.8,624.4) scale(1.05,1)" font-size="15.2" text-anchor="start" fill="#333333" >ETD fixed</text>
<line x1="383.6" y1="619.3" x2="416.0" y2="619.3" stroke="#0000ff" stroke-width="1.6"/>
<text transform="translate(428.2,624.4) scale(1.05,1)" font-size="15.2" text-anchor="start" fill="#333333" >ETD variable</text>
<line x1="552.0" y1="619.3" x2="585.2" y2="619.3" stroke="#ff0000" stroke-width="1.6"/>
<text transform="translate(596.8,624.4) scale(1.05,1)" font-size="15.2" text-anchor="start" fill="#333333" >PTD</text>
</g>
<g font-family="Liberation Serif, serif" font-size="31" fill="#000" stroke="#000" stroke-width="0.35">
<text x="291.3" y="333.1">(a) Task 1 results</text>
<text x="290.3" y="686.4">(b) Task 2 results</text>
</g>
</svg>
</body></html>
